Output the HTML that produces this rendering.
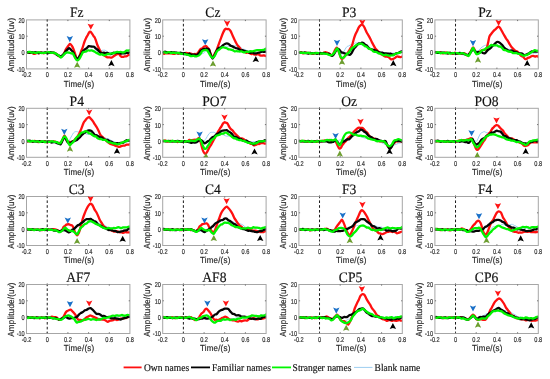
<!DOCTYPE html><html><head><meta charset="utf-8"><style>html,body{margin:0;padding:0;background:#fff;width:550px;height:379px;overflow:hidden}svg{display:block;will-change:transform}text{text-rendering:geometricPrecision}.s{stroke:#333;stroke-width:0.18px}text.lab{letter-spacing:0.2px}.s{font-family:"Liberation Sans",sans-serif}.r{stroke:#111;stroke-width:0.15px}.r{font-family:"Liberation Serif",serif}</style></head><body>
<svg width="550" height="379" viewBox="0 0 550 379">
<text class="r" transform="translate(76.74 17.25) scale(1.000 1.060)" font-size="13.60" text-anchor="middle" fill="#111">Fz</text>
<clipPath id="cp00"><rect x="26.5" y="19.9" width="103.4" height="49.0"/></clipPath>
<g clip-path="url(#cp00)">
<path d="M26.60 52.34 C26.75 52.27 27.17 51.94 27.51 51.93 C27.85 51.91 28.24 52.16 28.65 52.26 C29.06 52.36 29.51 52.48 29.98 52.53 C30.45 52.58 30.96 52.70 31.48 52.56 C32.01 52.41 32.56 51.68 33.12 51.65 C33.69 51.62 34.28 52.24 34.88 52.36 C35.47 52.49 36.09 52.44 36.71 52.41 C37.33 52.38 37.97 52.15 38.60 52.19 C39.24 52.22 39.88 52.66 40.52 52.63 C41.16 52.60 41.81 52.06 42.44 52.00 C43.08 51.94 43.71 52.18 44.33 52.28 C44.95 52.38 45.57 52.56 46.17 52.61 C46.76 52.65 47.35 52.55 47.92 52.55 C48.48 52.55 49.03 52.60 49.55 52.61 C50.07 52.62 50.58 52.69 51.05 52.60 C51.52 52.51 51.96 52.04 52.37 52.08 C52.78 52.12 52.85 52.58 53.50 52.84 C54.15 53.10 55.53 53.46 56.28 53.65 C57.03 53.84 57.52 53.70 57.99 53.98 C58.46 54.25 58.75 55.01 59.09 55.29 C59.43 55.57 59.67 55.59 60.04 55.66 C60.41 55.73 60.83 55.77 61.30 55.73 C61.77 55.69 62.35 55.46 62.87 55.42 C63.40 55.38 63.92 55.76 64.45 55.49 C64.97 55.23 65.50 54.23 66.03 53.83 C66.56 53.42 67.08 53.19 67.61 53.05 C68.14 52.92 68.66 52.97 69.20 53.03 C69.74 53.08 70.28 53.04 70.83 53.38 C71.38 53.72 71.95 54.49 72.50 55.06 C73.06 55.62 73.62 56.32 74.16 56.75 C74.70 57.17 75.24 57.46 75.75 57.60 C76.25 57.73 76.63 57.71 77.20 57.56 C77.77 57.40 78.57 57.25 79.19 56.69 C79.81 56.12 80.30 54.89 80.92 54.17 C81.54 53.46 82.33 52.81 82.90 52.40 C83.47 51.99 83.84 52.01 84.34 51.70 C84.84 51.39 85.37 50.80 85.91 50.55 C86.44 50.30 86.99 50.18 87.54 50.19 C88.09 50.19 88.65 50.63 89.19 50.58 C89.73 50.54 90.26 49.95 90.80 49.92 C91.34 49.89 91.87 50.29 92.41 50.40 C92.96 50.52 93.52 50.65 94.07 50.60 C94.61 50.55 95.17 50.01 95.69 50.09 C96.22 50.16 96.74 50.83 97.23 51.03 C97.71 51.23 98.06 51.31 98.60 51.28 C99.14 51.25 99.89 51.00 100.45 50.85 C101.01 50.69 101.47 50.46 101.97 50.36 C102.48 50.25 102.99 50.22 103.50 50.20 C104.01 50.18 104.51 50.08 105.02 50.24 C105.53 50.40 105.98 50.75 106.54 51.15 C107.11 51.56 107.87 52.48 108.40 52.66 C108.93 52.84 109.25 52.25 109.70 52.23 C110.15 52.21 110.60 52.48 111.08 52.55 C111.57 52.62 112.07 52.67 112.61 52.65 C113.15 52.63 113.71 52.39 114.33 52.43 C114.94 52.46 115.72 52.77 116.30 52.86 C116.88 52.95 117.25 53.03 117.80 52.97 C118.34 52.91 118.94 52.59 119.56 52.48 C120.17 52.37 120.83 52.42 121.48 52.33 C122.12 52.23 122.80 52.01 123.44 51.92 C124.09 51.83 124.74 51.71 125.35 51.78 C125.96 51.86 126.55 52.40 127.08 52.37 C127.61 52.33 128.12 51.75 128.54 51.56 C128.96 51.37 129.42 51.28 129.60 51.23" fill="none" stroke="#9ccdf0" stroke-width="1.00" stroke-linejoin="round" stroke-linecap="round"/>
<path d="M26.60 52.02 C26.81 52.10 27.36 52.35 27.88 52.49 C28.40 52.64 29.06 52.85 29.71 52.88 C30.36 52.91 31.10 52.51 31.78 52.67 C32.46 52.83 33.20 53.66 33.80 53.82 C34.40 53.99 34.84 53.83 35.37 53.67 C35.91 53.50 36.47 52.91 37.02 52.84 C37.58 52.77 38.14 53.28 38.68 53.24 C39.22 53.21 39.76 52.74 40.26 52.65 C40.77 52.56 41.13 52.57 41.70 52.70 C42.27 52.82 43.07 53.39 43.68 53.39 C44.30 53.40 44.81 52.85 45.40 52.74 C45.98 52.64 46.65 52.75 47.20 52.78 C47.75 52.81 48.18 52.94 48.68 52.91 C49.18 52.88 49.69 52.66 50.21 52.61 C50.73 52.57 51.25 52.57 51.80 52.65 C52.35 52.73 52.96 52.95 53.50 53.09 C54.04 53.22 54.49 53.32 55.02 53.47 C55.55 53.63 56.12 53.61 56.68 54.01 C57.24 54.40 57.82 55.42 58.36 55.84 C58.90 56.26 59.45 56.40 59.94 56.52 C60.43 56.63 60.68 56.92 61.30 56.54 C61.92 56.16 62.95 55.39 63.67 54.25 C64.39 53.11 64.91 51.00 65.60 49.71 C66.29 48.42 67.08 47.48 67.79 46.51 C68.51 45.54 69.24 44.02 69.90 43.88 C70.56 43.75 71.14 44.82 71.74 45.70 C72.34 46.58 72.90 47.67 73.50 49.15 C74.10 50.64 74.73 52.77 75.34 54.59 C75.96 56.42 76.58 59.63 77.20 60.09 C77.82 60.56 78.45 58.77 79.07 57.39 C79.69 56.01 80.31 53.45 80.90 51.82 C81.49 50.18 82.05 49.19 82.61 47.60 C83.18 46.00 83.72 43.84 84.30 42.24 C84.88 40.63 85.50 39.19 86.09 37.98 C86.67 36.78 87.28 35.99 87.80 35.02 C88.32 34.05 88.76 32.70 89.22 32.18 C89.69 31.66 90.10 31.63 90.60 31.89 C91.10 32.16 91.68 33.05 92.20 33.79 C92.72 34.52 93.30 35.72 93.70 36.30 C94.10 36.87 94.29 36.62 94.63 37.22 C94.96 37.82 95.20 38.54 95.70 39.92 C96.20 41.31 96.90 43.78 97.62 45.55 C98.34 47.32 99.30 49.22 100.00 50.56 C100.70 51.90 101.17 52.86 101.80 53.60 C102.42 54.33 103.10 54.51 103.75 54.97 C104.40 55.42 105.06 55.94 105.70 56.33 C106.34 56.71 106.97 57.10 107.60 57.27 C108.23 57.43 108.87 57.25 109.50 57.31 C110.13 57.38 110.77 57.81 111.40 57.67 C112.03 57.53 112.67 56.87 113.30 56.46 C113.93 56.05 114.57 55.62 115.20 55.22 C115.83 54.83 116.47 54.27 117.10 54.07 C117.73 53.87 118.34 53.64 118.96 54.01 C119.58 54.38 120.18 55.82 120.82 56.31 C121.46 56.80 122.17 56.93 122.80 56.96 C123.43 56.99 123.96 56.62 124.58 56.49 C125.21 56.36 125.93 56.44 126.56 56.20 C127.18 55.96 127.85 55.28 128.35 55.06 C128.86 54.83 129.39 54.91 129.60 54.88" fill="none" stroke="#ff1010" stroke-width="2.30" stroke-linejoin="round" stroke-linecap="round"/>
<path d="M26.60 51.87 C26.75 51.96 27.16 52.33 27.51 52.44 C27.86 52.54 28.27 52.48 28.71 52.49 C29.14 52.50 29.62 52.53 30.12 52.51 C30.62 52.49 31.16 52.35 31.71 52.36 C32.26 52.38 32.84 52.63 33.41 52.61 C33.99 52.59 34.59 52.25 35.17 52.24 C35.76 52.24 36.36 52.43 36.94 52.59 C37.52 52.74 38.10 53.15 38.65 53.16 C39.20 53.17 39.75 52.71 40.26 52.64 C40.76 52.57 41.14 52.70 41.70 52.74 C42.26 52.78 42.97 52.93 43.59 52.87 C44.22 52.80 44.83 52.31 45.43 52.34 C46.03 52.37 46.62 52.94 47.20 53.02 C47.78 53.11 48.34 53.00 48.90 52.84 C49.45 52.69 49.99 52.12 50.52 52.11 C51.04 52.09 51.56 52.68 52.05 52.76 C52.55 52.85 52.95 52.50 53.50 52.59 C54.05 52.69 54.78 52.90 55.37 53.32 C55.97 53.74 56.53 54.76 57.08 55.11 C57.62 55.46 58.13 55.26 58.62 55.42 C59.12 55.59 59.58 55.96 60.03 56.12 C60.47 56.28 60.69 56.71 61.30 56.37 C61.91 56.03 63.00 54.89 63.71 54.06 C64.43 53.24 64.98 52.16 65.60 51.41 C66.22 50.67 66.82 50.14 67.42 49.60 C68.03 49.05 68.58 48.08 69.20 48.15 C69.82 48.21 70.47 49.31 71.12 49.99 C71.77 50.67 72.45 51.20 73.10 52.22 C73.75 53.24 74.35 54.99 75.04 56.12 C75.72 57.25 76.53 58.87 77.20 58.99 C77.87 59.11 78.40 57.67 79.05 56.86 C79.69 56.04 80.43 55.05 81.07 54.09 C81.72 53.14 82.25 51.91 82.90 51.12 C83.55 50.32 84.31 49.83 84.96 49.33 C85.61 48.83 86.17 48.63 86.80 48.09 C87.43 47.56 88.07 46.41 88.74 46.14 C89.40 45.86 90.19 46.37 90.80 46.47 C91.41 46.56 91.84 46.62 92.39 46.68 C92.94 46.74 93.53 46.55 94.08 46.83 C94.63 47.10 95.08 47.82 95.70 48.33 C96.32 48.84 97.08 49.22 97.80 49.89 C98.52 50.55 99.33 51.82 100.00 52.31 C100.67 52.81 101.17 52.80 101.80 52.86 C102.42 52.92 103.10 52.67 103.75 52.70 C104.40 52.72 105.06 53.00 105.70 53.03 C106.34 53.07 106.97 52.75 107.60 52.90 C108.23 53.05 108.87 53.78 109.50 53.94 C110.13 54.10 110.77 54.04 111.40 53.85 C112.03 53.65 112.67 52.92 113.30 52.79 C113.93 52.66 114.57 53.09 115.20 53.07 C115.83 53.06 116.47 52.71 117.10 52.71 C117.73 52.71 118.34 52.90 118.96 53.05 C119.58 53.19 120.18 53.54 120.82 53.58 C121.46 53.62 122.17 53.30 122.80 53.27 C123.43 53.25 123.96 53.49 124.58 53.43 C125.21 53.38 125.93 53.04 126.56 52.94 C127.18 52.84 127.85 52.92 128.35 52.84 C128.86 52.76 129.39 52.52 129.60 52.45" fill="none" stroke="#050505" stroke-width="2.30" stroke-linejoin="round" stroke-linecap="round"/>
<path d="M26.60 52.73 C26.75 52.69 27.16 52.60 27.51 52.47 C27.86 52.34 28.27 52.04 28.71 51.96 C29.14 51.88 29.62 51.85 30.12 51.97 C30.62 52.09 31.16 52.62 31.71 52.69 C32.26 52.77 32.84 52.41 33.41 52.42 C33.99 52.44 34.59 52.70 35.17 52.77 C35.76 52.84 36.36 52.93 36.94 52.83 C37.52 52.73 38.10 52.18 38.65 52.17 C39.20 52.16 39.75 52.62 40.26 52.76 C40.76 52.91 41.14 53.02 41.70 53.04 C42.26 53.05 42.97 52.86 43.59 52.83 C44.22 52.81 44.83 52.96 45.43 52.88 C46.03 52.81 46.62 52.51 47.20 52.40 C47.78 52.29 48.34 52.19 48.90 52.24 C49.45 52.30 49.99 52.63 50.52 52.74 C51.04 52.85 51.56 52.94 52.05 52.93 C52.55 52.91 52.95 52.60 53.50 52.67 C54.05 52.75 54.78 53.06 55.37 53.37 C55.97 53.69 56.53 54.23 57.08 54.56 C57.62 54.89 58.13 54.95 58.62 55.35 C59.12 55.76 59.58 56.65 60.03 56.98 C60.47 57.32 60.69 57.72 61.30 57.36 C61.91 57.00 63.00 55.51 63.71 54.80 C64.43 54.09 64.98 53.48 65.60 53.09 C66.22 52.70 66.82 52.51 67.42 52.45 C68.03 52.39 68.58 52.57 69.20 52.71 C69.82 52.84 70.47 53.10 71.12 53.26 C71.77 53.43 72.45 52.95 73.10 53.71 C73.75 54.47 74.35 56.71 75.04 57.81 C75.72 58.90 76.53 60.05 77.20 60.28 C77.87 60.50 78.40 59.89 79.05 59.15 C79.69 58.40 80.43 56.93 81.07 55.80 C81.72 54.68 82.24 53.05 82.90 52.38 C83.56 51.70 84.37 51.95 85.02 51.75 C85.67 51.55 86.27 51.41 86.80 51.17 C87.33 50.92 87.67 50.36 88.17 50.28 C88.67 50.20 89.23 50.68 89.80 50.69 C90.37 50.69 90.95 50.20 91.61 50.29 C92.27 50.38 93.06 50.89 93.74 51.24 C94.43 51.59 95.01 52.01 95.70 52.39 C96.39 52.78 97.15 53.16 97.86 53.54 C98.58 53.93 99.34 54.58 100.00 54.70 C100.66 54.82 101.17 54.17 101.80 54.24 C102.42 54.32 103.10 55.03 103.75 55.14 C104.40 55.25 105.06 55.07 105.70 54.88 C106.34 54.70 106.97 54.20 107.60 54.05 C108.23 53.91 108.87 54.12 109.50 54.01 C110.13 53.91 110.77 53.53 111.40 53.43 C112.03 53.32 112.67 53.51 113.30 53.37 C113.93 53.23 114.57 52.81 115.20 52.56 C115.83 52.32 116.47 51.98 117.10 51.91 C117.73 51.84 118.34 52.15 118.96 52.14 C119.58 52.13 120.18 51.80 120.82 51.86 C121.46 51.92 122.17 52.49 122.80 52.50 C123.43 52.52 123.96 52.27 124.58 51.94 C125.21 51.61 125.93 50.73 126.56 50.52 C127.18 50.31 127.85 50.75 128.35 50.67 C128.86 50.60 129.39 50.19 129.60 50.09" fill="none" stroke="#00f500" stroke-width="2.30" stroke-linejoin="round" stroke-linecap="round"/>
</g>
<line x1="47.22" y1="19.0" x2="47.22" y2="68.8" stroke="#1a1a1a" stroke-width="1" stroke-dasharray="2.6 2.2"/>
<rect x="26.5" y="19.9" width="103.4" height="49.0" fill="none" stroke="#a6a6a6" stroke-width="1"/>
<line x1="47.2" y1="68.8" x2="47.2" y2="67.6" stroke="#555" stroke-width="0.8"/>
<line x1="47.2" y1="19.9" x2="47.2" y2="21.1" stroke="#555" stroke-width="0.8"/>
<line x1="67.9" y1="68.8" x2="67.9" y2="67.6" stroke="#555" stroke-width="0.8"/>
<line x1="67.9" y1="19.9" x2="67.9" y2="21.1" stroke="#555" stroke-width="0.8"/>
<line x1="88.6" y1="68.8" x2="88.6" y2="67.6" stroke="#555" stroke-width="0.8"/>
<line x1="88.6" y1="19.9" x2="88.6" y2="21.1" stroke="#555" stroke-width="0.8"/>
<line x1="109.3" y1="68.8" x2="109.3" y2="67.6" stroke="#555" stroke-width="0.8"/>
<line x1="109.3" y1="19.9" x2="109.3" y2="21.1" stroke="#555" stroke-width="0.8"/>
<line x1="26.5" y1="52.5" x2="27.7" y2="52.5" stroke="#555" stroke-width="0.8"/>
<line x1="129.9" y1="52.5" x2="128.7" y2="52.5" stroke="#555" stroke-width="0.8"/>
<line x1="26.5" y1="36.2" x2="27.7" y2="36.2" stroke="#555" stroke-width="0.8"/>
<line x1="129.9" y1="36.2" x2="128.7" y2="36.2" stroke="#555" stroke-width="0.8"/>
<g clip-path="url(#cp00)">
<path d="M69.80 42.20 L73.00 36.12 L69.80 37.24 L66.60 36.12 Z" fill="#1a70c8"/>
<path d="M90.80 29.80 L94.00 23.72 L90.80 24.84 L87.60 23.72 Z" fill="#ff1515"/>
<path d="M77.20 61.70 L80.40 67.78 L77.20 66.66 L74.00 67.78 Z" fill="#6d9e30"/>
<path d="M111.40 60.10 L114.60 66.18 L111.40 65.06 L108.20 66.18 Z" fill="#000"/>
</g>
<text class="s" transform="translate(26.54 77.20) scale(0.920 1.160)" font-size="6.10" text-anchor="middle" fill="#3a3a3a">-0.2</text>
<text class="s" transform="translate(47.22 77.20) scale(0.920 1.160)" font-size="6.10" text-anchor="middle" fill="#3a3a3a">0</text>
<text class="s" transform="translate(67.90 77.20) scale(0.920 1.160)" font-size="6.10" text-anchor="middle" fill="#3a3a3a">0.2</text>
<text class="s" transform="translate(88.58 77.20) scale(0.920 1.160)" font-size="6.10" text-anchor="middle" fill="#3a3a3a">0.4</text>
<text class="s" transform="translate(109.26 77.20) scale(0.920 1.160)" font-size="6.10" text-anchor="middle" fill="#3a3a3a">0.6</text>
<text class="s" transform="translate(129.94 77.20) scale(0.920 1.160)" font-size="6.10" text-anchor="middle" fill="#3a3a3a">0.8</text>
<text class="s" transform="translate(24.74 71.70) scale(0.920 1.160)" font-size="6.10" text-anchor="end" fill="#3a3a3a">-10</text>
<text class="s" transform="translate(24.74 55.38) scale(0.920 1.160)" font-size="6.10" text-anchor="end" fill="#3a3a3a">0</text>
<text class="s" transform="translate(24.74 39.07) scale(0.920 1.160)" font-size="6.10" text-anchor="end" fill="#3a3a3a">10</text>
<text class="s" transform="translate(24.74 22.75) scale(0.920 1.160)" font-size="6.10" text-anchor="end" fill="#3a3a3a">20</text>
<text class="s lab" transform="translate(79.04 86.65) scale(1.000 1.100)" font-size="8.00" text-anchor="middle" fill="#262626">Time/(s)</text>
<text class="s lab" transform="translate(14.14 44.83) rotate(-90) scale(1.000 1.100)" font-size="8.00" text-anchor="middle" fill="#262626">Amplitude/(uv)</text>
<text class="r" transform="translate(212.90 17.25) scale(1.000 1.060)" font-size="13.60" text-anchor="middle" fill="#111">Cz</text>
<clipPath id="cp01"><rect x="162.7" y="19.9" width="103.4" height="49.0"/></clipPath>
<g clip-path="url(#cp01)">
<path d="M162.70 52.05 C162.84 52.03 163.24 51.85 163.55 51.91 C163.87 51.97 164.21 52.27 164.58 52.43 C164.95 52.58 165.34 52.81 165.76 52.84 C166.17 52.87 166.61 52.55 167.07 52.59 C167.53 52.63 168.01 52.93 168.51 53.08 C169.01 53.23 169.53 53.49 170.06 53.47 C170.59 53.45 171.14 52.98 171.69 52.95 C172.25 52.92 172.82 53.15 173.40 53.30 C173.98 53.45 174.58 53.75 175.17 53.84 C175.77 53.93 176.38 53.73 176.99 53.83 C177.59 53.93 178.21 54.37 178.82 54.42 C179.44 54.47 180.06 54.21 180.68 54.13 C181.29 54.05 181.91 53.80 182.52 53.97 C183.13 54.13 183.74 54.95 184.35 55.09 C184.95 55.23 185.55 54.84 186.14 54.80 C186.72 54.77 187.30 54.81 187.87 54.89 C188.44 54.97 189.00 55.33 189.54 55.29 C190.08 55.25 190.61 54.68 191.12 54.66 C191.64 54.65 192.13 55.05 192.61 55.19 C193.08 55.34 193.54 55.46 193.98 55.56 C194.41 55.66 194.82 55.85 195.21 55.78 C195.60 55.71 195.65 55.26 196.30 55.12 C196.95 54.98 198.27 55.11 199.09 54.93 C199.90 54.74 200.58 54.25 201.20 54.01 C201.82 53.76 202.33 53.65 202.80 53.46 C203.27 53.28 203.66 53.24 204.04 52.92 C204.42 52.60 204.73 51.90 205.07 51.55 C205.40 51.20 205.70 51.00 206.03 50.82 C206.37 50.64 206.56 50.11 207.10 50.45 C207.64 50.79 208.66 52.01 209.30 52.86 C209.93 53.70 210.35 54.75 210.90 55.53 C211.45 56.31 212.07 57.34 212.60 57.53 C213.13 57.72 213.58 57.35 214.08 56.67 C214.58 56.00 215.08 54.39 215.60 53.49 C216.12 52.58 216.64 51.94 217.19 51.27 C217.74 50.60 218.37 49.91 218.90 49.44 C219.43 48.97 219.88 48.70 220.40 48.46 C220.91 48.21 221.46 48.13 222.00 47.96 C222.54 47.79 223.10 47.68 223.65 47.45 C224.19 47.22 224.75 46.80 225.27 46.58 C225.80 46.36 226.25 46.13 226.80 46.12 C227.35 46.10 228.00 46.53 228.59 46.49 C229.17 46.45 229.74 46.00 230.30 45.89 C230.86 45.79 231.40 45.85 231.94 45.87 C232.47 45.89 232.92 46.12 233.50 46.04 C234.08 45.96 234.81 45.31 235.43 45.38 C236.05 45.44 236.62 46.13 237.22 46.43 C237.81 46.72 238.42 46.99 239.00 47.16 C239.58 47.33 240.15 47.15 240.71 47.43 C241.28 47.72 241.80 48.55 242.42 48.87 C243.03 49.19 243.83 49.22 244.40 49.36 C244.97 49.49 245.32 49.42 245.82 49.69 C246.32 49.96 246.85 50.83 247.38 50.99 C247.92 51.14 248.48 50.69 249.03 50.64 C249.58 50.60 250.14 50.63 250.69 50.71 C251.23 50.80 251.76 51.18 252.30 51.15 C252.84 51.12 253.36 50.58 253.90 50.54 C254.44 50.49 255.00 50.82 255.54 50.88 C256.08 50.93 256.63 50.98 257.15 50.87 C257.68 50.77 258.20 50.45 258.69 50.24 C259.18 50.03 259.50 49.71 260.10 49.61 C260.70 49.52 261.61 49.71 262.31 49.67 C263.00 49.63 263.71 49.40 264.26 49.38 C264.81 49.37 265.38 49.55 265.60 49.58" fill="none" stroke="#9ccdf0" stroke-width="1.00" stroke-linejoin="round" stroke-linecap="round"/>
<path d="M162.70 53.02 C162.87 53.14 163.30 53.69 163.71 53.76 C164.11 53.83 164.60 53.53 165.11 53.44 C165.62 53.36 166.19 53.28 166.76 53.27 C167.33 53.25 167.94 53.38 168.53 53.37 C169.11 53.37 169.71 53.22 170.25 53.23 C170.80 53.24 171.27 53.32 171.80 53.43 C172.33 53.53 172.89 53.79 173.41 53.86 C173.93 53.92 174.42 53.96 174.91 53.82 C175.41 53.69 175.89 53.06 176.39 53.02 C176.89 52.99 177.39 53.54 177.93 53.61 C178.46 53.68 179.06 53.48 179.60 53.43 C180.14 53.38 180.62 53.22 181.16 53.30 C181.71 53.39 182.28 53.96 182.86 53.95 C183.43 53.93 184.03 53.37 184.61 53.20 C185.19 53.03 185.79 52.89 186.35 52.93 C186.92 52.96 187.48 53.35 188.01 53.41 C188.53 53.47 188.92 53.21 189.50 53.28 C190.08 53.34 190.87 53.64 191.51 53.81 C192.15 53.98 192.76 54.29 193.33 54.30 C193.90 54.32 194.45 53.95 194.94 53.90 C195.43 53.86 195.78 54.22 196.30 54.02 C196.82 53.82 197.54 53.28 198.04 52.71 C198.54 52.15 198.86 51.29 199.30 50.65 C199.74 50.01 200.21 49.25 200.69 48.87 C201.18 48.49 201.62 48.77 202.20 48.38 C202.77 48.00 203.49 46.95 204.14 46.58 C204.79 46.22 205.52 45.96 206.10 46.18 C206.68 46.40 207.12 47.38 207.62 47.91 C208.12 48.44 208.58 48.33 209.10 49.36 C209.62 50.38 210.19 52.74 210.77 54.08 C211.35 55.42 211.95 57.46 212.60 57.42 C213.25 57.38 213.98 55.18 214.69 53.83 C215.41 52.48 216.16 51.13 216.90 49.33 C217.64 47.53 218.42 45.02 219.15 43.02 C219.88 41.02 220.63 39.07 221.30 37.33 C221.97 35.58 222.60 33.87 223.19 32.57 C223.77 31.26 224.35 30.15 224.80 29.49 C225.25 28.84 225.53 28.70 225.90 28.64 C226.27 28.58 226.55 29.07 227.00 29.13 C227.45 29.20 228.04 28.71 228.62 29.01 C229.20 29.30 229.84 29.84 230.50 30.91 C231.16 31.98 231.86 33.88 232.58 35.41 C233.29 36.95 234.17 38.83 234.80 40.13 C235.43 41.43 235.81 42.26 236.33 43.20 C236.85 44.14 237.38 45.06 237.90 45.77 C238.43 46.48 238.96 46.81 239.50 47.47 C240.04 48.12 240.58 49.15 241.12 49.70 C241.66 50.24 242.21 50.45 242.76 50.73 C243.31 51.01 243.85 51.04 244.40 51.38 C244.95 51.72 245.49 52.58 246.03 52.76 C246.57 52.94 247.11 52.46 247.66 52.49 C248.20 52.51 248.75 52.68 249.30 52.93 C249.85 53.19 250.38 53.85 250.93 54.03 C251.47 54.20 252.01 53.91 252.57 53.98 C253.13 54.06 253.70 54.34 254.30 54.46 C254.90 54.58 255.54 54.75 256.19 54.69 C256.83 54.64 257.51 54.04 258.16 54.14 C258.81 54.25 259.43 55.06 260.10 55.29 C260.77 55.53 261.48 55.54 262.16 55.57 C262.84 55.60 263.61 55.40 264.19 55.47 C264.76 55.53 265.36 55.88 265.60 55.96" fill="none" stroke="#ff1010" stroke-width="2.30" stroke-linejoin="round" stroke-linecap="round"/>
<path d="M162.70 52.18 C162.85 52.19 163.26 52.32 163.60 52.22 C163.94 52.11 164.33 51.57 164.75 51.54 C165.16 51.50 165.62 51.86 166.10 52.01 C166.57 52.17 167.08 52.36 167.61 52.45 C168.14 52.54 168.69 52.58 169.25 52.54 C169.81 52.51 170.39 52.28 170.98 52.27 C171.56 52.25 172.16 52.45 172.76 52.46 C173.35 52.46 173.96 52.27 174.55 52.31 C175.14 52.36 175.73 52.57 176.31 52.71 C176.89 52.85 177.46 53.15 178.01 53.17 C178.56 53.19 179.07 52.89 179.60 52.83 C180.13 52.77 180.64 52.72 181.17 52.82 C181.70 52.91 182.26 53.35 182.81 53.40 C183.36 53.45 183.93 53.01 184.49 53.12 C185.05 53.22 185.62 53.80 186.18 54.02 C186.75 54.24 187.31 54.48 187.87 54.43 C188.43 54.39 188.98 53.73 189.52 53.74 C190.06 53.75 190.59 54.37 191.10 54.50 C191.62 54.64 192.12 54.55 192.60 54.57 C193.08 54.60 193.55 54.63 193.98 54.65 C194.42 54.68 194.84 54.63 195.23 54.73 C195.61 54.84 195.70 55.51 196.30 55.28 C196.90 55.06 198.19 54.01 198.81 53.38 C199.42 52.74 199.60 51.93 200.00 51.46 C200.40 50.98 200.72 50.87 201.20 50.51 C201.68 50.16 202.34 49.62 202.90 49.34 C203.47 49.06 204.07 48.97 204.61 48.85 C205.14 48.73 205.59 48.64 206.10 48.62 C206.61 48.60 207.19 48.51 207.69 48.72 C208.19 48.92 208.59 48.79 209.10 49.85 C209.61 50.90 210.19 53.61 210.77 55.04 C211.35 56.48 211.96 58.47 212.60 58.48 C213.24 58.49 213.88 56.46 214.60 55.08 C215.32 53.70 216.20 51.39 216.90 50.22 C217.60 49.04 218.15 48.51 218.82 48.04 C219.49 47.57 220.25 47.81 220.91 47.37 C221.58 46.94 222.13 45.99 222.80 45.43 C223.47 44.87 224.26 44.32 224.93 43.98 C225.59 43.65 226.18 43.43 226.80 43.43 C227.42 43.43 227.98 43.58 228.63 43.99 C229.28 44.39 230.05 45.47 230.70 45.86 C231.35 46.25 231.88 46.04 232.52 46.33 C233.16 46.62 233.88 47.25 234.56 47.57 C235.24 47.89 235.93 48.01 236.60 48.24 C237.27 48.47 237.91 48.62 238.57 48.96 C239.22 49.31 239.88 50.12 240.53 50.32 C241.19 50.53 241.84 50.11 242.50 50.19 C243.16 50.28 243.81 50.64 244.47 50.84 C245.12 51.03 245.78 51.12 246.43 51.35 C247.09 51.59 247.74 51.98 248.40 52.24 C249.06 52.50 249.71 52.86 250.37 52.90 C251.03 52.93 251.69 52.35 252.34 52.44 C253.00 52.52 253.65 53.26 254.30 53.41 C254.95 53.55 255.60 53.40 256.25 53.29 C256.90 53.18 257.55 52.90 258.19 52.75 C258.83 52.61 259.44 52.60 260.10 52.40 C260.76 52.21 261.48 51.66 262.16 51.59 C262.84 51.52 263.61 51.97 264.19 51.96 C264.76 51.94 265.36 51.57 265.60 51.50" fill="none" stroke="#050505" stroke-width="2.30" stroke-linejoin="round" stroke-linecap="round"/>
<path d="M162.70 52.55 C162.85 52.52 163.26 52.40 163.60 52.36 C163.94 52.32 164.33 52.22 164.75 52.31 C165.16 52.39 165.62 52.88 166.10 52.88 C166.57 52.89 167.08 52.46 167.61 52.33 C168.14 52.20 168.69 51.98 169.25 52.09 C169.81 52.21 170.39 52.90 170.98 53.01 C171.56 53.12 172.16 52.76 172.76 52.74 C173.35 52.72 173.96 52.81 174.55 52.89 C175.14 52.97 175.73 53.28 176.31 53.22 C176.89 53.17 177.46 52.55 178.01 52.57 C178.56 52.59 179.07 53.10 179.60 53.32 C180.13 53.53 180.63 53.78 181.17 53.87 C181.70 53.96 182.25 53.82 182.79 53.87 C183.34 53.92 183.90 54.07 184.46 54.17 C185.02 54.27 185.58 54.39 186.14 54.48 C186.70 54.58 187.26 54.60 187.81 54.75 C188.36 54.89 188.91 55.13 189.45 55.37 C189.99 55.61 190.52 56.10 191.03 56.19 C191.54 56.29 192.05 55.97 192.53 55.92 C193.01 55.88 193.48 55.85 193.92 55.92 C194.37 55.99 194.79 56.29 195.19 56.36 C195.58 56.43 195.65 56.52 196.30 56.35 C196.95 56.18 198.37 55.82 199.10 55.34 C199.84 54.86 200.19 54.20 200.71 53.49 C201.22 52.78 201.67 51.62 202.20 51.10 C202.73 50.58 203.34 50.54 203.89 50.34 C204.43 50.14 204.92 49.90 205.46 49.91 C206.00 49.92 206.52 49.84 207.10 50.39 C207.68 50.93 208.31 52.19 208.93 53.18 C209.56 54.18 210.22 55.58 210.83 56.35 C211.44 57.12 211.95 57.90 212.60 57.82 C213.25 57.74 214.01 56.94 214.72 55.85 C215.44 54.77 216.22 52.32 216.90 51.31 C217.58 50.30 218.15 50.32 218.82 49.80 C219.49 49.27 220.25 48.60 220.91 48.16 C221.58 47.72 222.15 47.21 222.80 47.14 C223.45 47.08 224.13 47.58 224.80 47.76 C225.47 47.95 226.16 48.00 226.80 48.26 C227.44 48.53 227.98 49.13 228.63 49.33 C229.27 49.54 229.99 49.38 230.67 49.51 C231.35 49.64 232.05 49.80 232.70 50.10 C233.35 50.41 233.94 51.17 234.56 51.34 C235.18 51.50 235.76 51.09 236.41 51.09 C237.07 51.10 237.91 51.27 238.50 51.35 C239.09 51.43 239.44 51.55 239.95 51.56 C240.45 51.56 240.98 51.28 241.51 51.39 C242.04 51.50 242.59 52.02 243.14 52.20 C243.69 52.37 244.24 52.53 244.79 52.42 C245.33 52.31 245.88 51.63 246.40 51.55 C246.92 51.48 247.43 51.97 247.93 51.97 C248.43 51.96 248.90 51.65 249.40 51.53 C249.89 51.41 250.38 51.26 250.90 51.23 C251.41 51.20 251.93 51.39 252.50 51.35 C253.07 51.30 253.74 51.12 254.30 50.95 C254.86 50.79 255.28 50.48 255.83 50.36 C256.39 50.23 257.00 50.24 257.61 50.20 C258.22 50.16 258.87 50.13 259.50 50.11 C260.12 50.09 260.77 50.09 261.37 50.07 C261.97 50.05 262.57 50.10 263.10 50.00 C263.63 49.90 264.13 49.68 264.55 49.48 C264.97 49.27 265.42 48.89 265.60 48.77" fill="none" stroke="#00f500" stroke-width="2.30" stroke-linejoin="round" stroke-linecap="round"/>
</g>
<line x1="183.38" y1="19.0" x2="183.38" y2="68.8" stroke="#1a1a1a" stroke-width="1" stroke-dasharray="2.6 2.2"/>
<rect x="162.7" y="19.9" width="103.4" height="49.0" fill="none" stroke="#a6a6a6" stroke-width="1"/>
<line x1="183.4" y1="68.8" x2="183.4" y2="67.6" stroke="#555" stroke-width="0.8"/>
<line x1="183.4" y1="19.9" x2="183.4" y2="21.1" stroke="#555" stroke-width="0.8"/>
<line x1="204.1" y1="68.8" x2="204.1" y2="67.6" stroke="#555" stroke-width="0.8"/>
<line x1="204.1" y1="19.9" x2="204.1" y2="21.1" stroke="#555" stroke-width="0.8"/>
<line x1="224.7" y1="68.8" x2="224.7" y2="67.6" stroke="#555" stroke-width="0.8"/>
<line x1="224.7" y1="19.9" x2="224.7" y2="21.1" stroke="#555" stroke-width="0.8"/>
<line x1="245.4" y1="68.8" x2="245.4" y2="67.6" stroke="#555" stroke-width="0.8"/>
<line x1="245.4" y1="19.9" x2="245.4" y2="21.1" stroke="#555" stroke-width="0.8"/>
<line x1="162.7" y1="52.5" x2="163.9" y2="52.5" stroke="#555" stroke-width="0.8"/>
<line x1="266.1" y1="52.5" x2="264.9" y2="52.5" stroke="#555" stroke-width="0.8"/>
<line x1="162.7" y1="36.2" x2="163.9" y2="36.2" stroke="#555" stroke-width="0.8"/>
<line x1="266.1" y1="36.2" x2="264.9" y2="36.2" stroke="#555" stroke-width="0.8"/>
<g clip-path="url(#cp01)">
<path d="M205.20 45.30 L208.40 39.22 L205.20 40.34 L202.00 39.22 Z" fill="#1a70c8"/>
<path d="M227.20 26.70 L230.40 20.62 L227.20 21.74 L224.00 20.62 Z" fill="#ff1515"/>
<path d="M213.00 60.50 L216.20 66.58 L213.00 65.46 L209.80 66.58 Z" fill="#6d9e30"/>
<path d="M255.80 56.00 L259.00 62.08 L255.80 60.96 L252.60 62.08 Z" fill="#000"/>
</g>
<text class="s" transform="translate(162.70 77.20) scale(0.920 1.160)" font-size="6.10" text-anchor="middle" fill="#3a3a3a">-0.2</text>
<text class="s" transform="translate(183.38 77.20) scale(0.920 1.160)" font-size="6.10" text-anchor="middle" fill="#3a3a3a">0</text>
<text class="s" transform="translate(204.06 77.20) scale(0.920 1.160)" font-size="6.10" text-anchor="middle" fill="#3a3a3a">0.2</text>
<text class="s" transform="translate(224.74 77.20) scale(0.920 1.160)" font-size="6.10" text-anchor="middle" fill="#3a3a3a">0.4</text>
<text class="s" transform="translate(245.42 77.20) scale(0.920 1.160)" font-size="6.10" text-anchor="middle" fill="#3a3a3a">0.6</text>
<text class="s" transform="translate(266.10 77.20) scale(0.920 1.160)" font-size="6.10" text-anchor="middle" fill="#3a3a3a">0.8</text>
<text class="s" transform="translate(160.90 71.70) scale(0.920 1.160)" font-size="6.10" text-anchor="end" fill="#3a3a3a">-10</text>
<text class="s" transform="translate(160.90 55.38) scale(0.920 1.160)" font-size="6.10" text-anchor="end" fill="#3a3a3a">0</text>
<text class="s" transform="translate(160.90 39.07) scale(0.920 1.160)" font-size="6.10" text-anchor="end" fill="#3a3a3a">10</text>
<text class="s" transform="translate(160.90 22.75) scale(0.920 1.160)" font-size="6.10" text-anchor="end" fill="#3a3a3a">20</text>
<text class="s lab" transform="translate(215.20 86.65) scale(1.000 1.100)" font-size="8.00" text-anchor="middle" fill="#262626">Time/(s)</text>
<text class="s lab" transform="translate(150.30 44.83) rotate(-90) scale(1.000 1.100)" font-size="8.00" text-anchor="middle" fill="#262626">Amplitude/(uv)</text>
<text class="r" transform="translate(349.05 17.25) scale(1.000 1.060)" font-size="13.60" text-anchor="middle" fill="#111">P3</text>
<clipPath id="cp02"><rect x="298.9" y="19.9" width="103.4" height="49.0"/></clipPath>
<g clip-path="url(#cp02)">
<path d="M298.90 52.93 C299.05 52.92 299.45 52.94 299.78 52.89 C300.11 52.84 300.48 52.74 300.88 52.63 C301.28 52.51 301.72 52.23 302.18 52.20 C302.64 52.17 303.13 52.35 303.64 52.46 C304.14 52.57 304.68 52.81 305.22 52.87 C305.77 52.93 306.34 52.82 306.91 52.83 C307.48 52.83 308.07 52.90 308.66 52.91 C309.24 52.92 309.84 52.97 310.44 52.91 C311.03 52.85 311.63 52.53 312.22 52.55 C312.81 52.58 313.40 52.92 313.97 53.06 C314.54 53.19 315.11 53.36 315.65 53.36 C316.20 53.36 316.73 53.03 317.24 53.04 C317.75 53.04 318.24 53.37 318.70 53.40 C319.16 53.44 319.44 53.32 320.00 53.25 C320.56 53.18 321.39 52.80 322.05 52.97 C322.71 53.15 323.35 54.07 323.96 54.28 C324.58 54.50 325.17 54.26 325.75 54.25 C326.32 54.23 326.87 54.08 327.40 54.20 C327.93 54.32 328.44 54.92 328.92 54.97 C329.41 55.02 329.87 54.54 330.31 54.51 C330.75 54.48 331.17 54.73 331.57 54.79 C331.97 54.86 332.07 55.41 332.70 54.88 C333.33 54.34 334.66 52.56 335.38 51.58 C336.09 50.60 336.39 48.91 337.00 48.99 C337.61 49.07 338.35 51.16 339.06 52.07 C339.78 52.99 340.64 54.24 341.30 54.49 C341.96 54.74 342.40 54.35 342.99 53.56 C343.58 52.77 344.17 50.90 344.84 49.74 C345.51 48.57 346.38 47.16 347.00 46.55 C347.62 45.93 348.00 46.31 348.55 46.03 C349.10 45.75 349.71 45.15 350.30 44.88 C350.89 44.60 351.52 44.53 352.12 44.38 C352.72 44.23 353.33 44.22 353.89 43.97 C354.45 43.72 354.95 43.01 355.50 42.89 C356.05 42.77 356.67 43.09 357.21 43.26 C357.75 43.43 358.23 43.82 358.74 43.94 C359.24 44.05 359.72 43.72 360.24 43.92 C360.77 44.13 361.37 44.93 361.90 45.19 C362.43 45.45 362.88 45.35 363.40 45.48 C363.91 45.60 364.45 45.63 364.99 45.94 C365.53 46.26 366.08 46.96 366.63 47.39 C367.17 47.81 367.72 48.21 368.25 48.51 C368.78 48.81 369.26 48.95 369.80 49.19 C370.34 49.42 370.94 49.63 371.46 49.91 C371.99 50.18 372.42 50.68 372.95 50.83 C373.48 50.99 373.98 50.63 374.64 50.85 C375.30 51.06 376.31 51.84 376.90 52.13 C377.49 52.43 377.73 52.62 378.18 52.61 C378.63 52.60 379.12 52.06 379.62 52.08 C380.12 52.10 380.65 52.61 381.19 52.71 C381.73 52.82 382.28 52.76 382.84 52.74 C383.40 52.72 383.98 52.43 384.55 52.59 C385.12 52.74 385.71 53.55 386.28 53.69 C386.85 53.83 387.42 53.51 387.98 53.41 C388.54 53.31 389.10 53.09 389.64 53.10 C390.17 53.10 390.65 53.43 391.20 53.43 C391.75 53.43 392.36 53.12 392.96 53.10 C393.56 53.07 394.19 53.21 394.81 53.28 C395.42 53.34 396.06 53.66 396.67 53.50 C397.29 53.34 397.91 52.52 398.49 52.33 C399.08 52.15 399.66 52.40 400.20 52.39 C400.74 52.38 401.27 52.33 401.74 52.28 C402.21 52.23 402.65 52.18 403.02 52.08 C403.40 51.98 403.84 51.73 404.00 51.66" fill="none" stroke="#9ccdf0" stroke-width="1.00" stroke-linejoin="round" stroke-linecap="round"/>
<path d="M298.90 52.41 C299.07 52.42 299.51 52.48 299.91 52.46 C300.31 52.44 300.79 52.14 301.29 52.28 C301.80 52.42 302.36 53.20 302.94 53.31 C303.51 53.43 304.13 53.06 304.74 52.96 C305.35 52.85 305.98 52.62 306.59 52.69 C307.19 52.75 307.81 53.30 308.37 53.33 C308.94 53.36 309.43 52.85 310.00 52.87 C310.57 52.88 311.18 53.27 311.77 53.42 C312.35 53.58 312.94 53.90 313.53 53.80 C314.11 53.71 314.69 52.95 315.26 52.86 C315.82 52.78 316.39 53.21 316.93 53.29 C317.47 53.38 318.01 53.40 318.52 53.39 C319.03 53.38 319.42 53.21 320.00 53.24 C320.58 53.27 321.36 53.64 321.99 53.56 C322.62 53.48 323.20 53.00 323.77 52.77 C324.34 52.54 324.87 52.19 325.41 52.16 C325.95 52.14 326.39 52.43 327.00 52.64 C327.61 52.84 328.39 53.07 329.05 53.42 C329.71 53.77 330.34 54.46 330.95 54.74 C331.56 55.03 332.04 55.88 332.70 55.12 C333.36 54.35 334.22 51.36 334.94 50.15 C335.65 48.94 336.30 47.39 337.00 47.84 C337.70 48.29 338.44 51.05 339.16 52.85 C339.87 54.66 340.62 57.78 341.30 58.65 C341.98 59.52 342.56 58.63 343.26 58.05 C343.96 57.48 344.87 55.86 345.50 55.20 C346.13 54.55 346.48 54.81 347.03 54.11 C347.58 53.42 348.21 52.03 348.79 51.02 C349.38 50.01 350.00 48.93 350.53 48.04 C351.07 47.16 351.46 47.15 352.00 45.69 C352.54 44.23 353.17 41.19 353.76 39.28 C354.34 37.38 354.98 35.57 355.50 34.29 C356.02 33.01 356.39 32.67 356.89 31.61 C357.40 30.54 357.96 28.90 358.51 27.90 C359.07 26.90 359.66 26.12 360.23 25.59 C360.79 25.06 361.35 24.66 361.90 24.71 C362.45 24.77 362.97 25.21 363.50 25.91 C364.04 26.61 364.57 27.80 365.11 28.91 C365.64 30.02 366.18 31.49 366.73 32.56 C367.28 33.62 367.83 34.32 368.40 35.30 C368.97 36.28 369.57 37.26 370.17 38.44 C370.77 39.62 371.39 41.18 372.00 42.38 C372.61 43.59 373.23 44.63 373.81 45.67 C374.39 46.71 374.88 47.78 375.50 48.63 C376.12 49.47 376.86 50.08 377.50 50.73 C378.15 51.37 378.74 51.91 379.35 52.49 C379.97 53.08 380.58 53.81 381.20 54.25 C381.82 54.70 382.47 54.79 383.10 55.17 C383.73 55.55 384.37 56.27 385.00 56.52 C385.63 56.77 386.26 56.52 386.90 56.67 C387.54 56.82 388.20 56.97 388.85 57.40 C389.50 57.82 390.18 58.93 390.80 59.22 C391.43 59.50 391.96 59.27 392.60 59.08 C393.24 58.90 393.95 58.55 394.66 58.11 C395.38 57.68 396.24 56.71 396.90 56.49 C397.56 56.26 398.01 56.63 398.64 56.75 C399.28 56.86 400.05 57.24 400.72 57.20 C401.39 57.16 402.11 56.54 402.66 56.51 C403.21 56.47 403.78 56.91 404.00 56.99" fill="none" stroke="#ff1010" stroke-width="2.30" stroke-linejoin="round" stroke-linecap="round"/>
<path d="M298.90 52.57 C299.07 52.58 299.51 52.63 299.91 52.63 C300.31 52.63 300.79 52.53 301.29 52.58 C301.80 52.63 302.36 52.93 302.94 52.91 C303.51 52.90 304.13 52.45 304.74 52.50 C305.35 52.54 305.98 53.01 306.59 53.17 C307.19 53.34 307.81 53.51 308.37 53.48 C308.94 53.44 309.43 53.00 310.00 52.95 C310.57 52.91 311.18 53.19 311.77 53.23 C312.35 53.27 312.94 53.19 313.53 53.17 C314.11 53.15 314.69 53.02 315.26 53.12 C315.82 53.22 316.39 53.76 316.93 53.80 C317.47 53.83 318.01 53.46 318.52 53.31 C319.03 53.16 319.42 52.87 320.00 52.90 C320.58 52.93 321.36 53.45 321.99 53.47 C322.62 53.49 323.20 53.02 323.77 53.01 C324.34 52.99 324.87 53.23 325.41 53.38 C325.95 53.53 326.39 53.85 327.00 53.91 C327.61 53.98 328.39 53.54 329.05 53.77 C329.71 54.00 330.34 54.98 330.95 55.29 C331.56 55.61 332.04 56.12 332.70 55.66 C333.36 55.19 334.22 53.61 334.94 52.52 C335.65 51.42 336.30 49.61 337.00 49.10 C337.70 48.59 338.44 48.93 339.16 49.46 C339.87 49.98 340.59 51.69 341.30 52.25 C342.01 52.81 342.70 52.59 343.40 52.82 C344.10 53.05 344.81 53.40 345.50 53.63 C346.19 53.86 346.84 53.97 347.56 54.17 C348.27 54.37 349.13 55.00 349.80 54.83 C350.47 54.66 350.95 54.07 351.57 53.17 C352.19 52.26 352.84 50.44 353.50 49.40 C354.15 48.36 354.91 47.65 355.50 46.94 C356.09 46.24 356.51 45.75 357.02 45.18 C357.53 44.62 358.04 43.81 358.56 43.54 C359.09 43.26 359.62 43.67 360.18 43.54 C360.73 43.41 361.36 42.82 361.90 42.74 C362.44 42.66 362.88 42.75 363.40 43.05 C363.91 43.35 364.45 44.15 364.99 44.55 C365.53 44.96 366.08 45.02 366.63 45.48 C367.17 45.94 367.72 46.76 368.25 47.30 C368.78 47.85 369.24 48.43 369.80 48.76 C370.36 49.09 371.03 49.08 371.63 49.27 C372.23 49.45 372.81 49.67 373.40 49.89 C373.99 50.10 374.56 50.35 375.14 50.54 C375.73 50.73 376.31 50.76 376.90 51.05 C377.49 51.33 378.10 51.97 378.71 52.22 C379.31 52.48 379.93 52.48 380.54 52.55 C381.14 52.62 381.75 52.49 382.32 52.64 C382.90 52.79 383.37 53.34 384.00 53.46 C384.63 53.58 385.43 53.33 386.11 53.34 C386.78 53.35 387.46 53.44 388.06 53.52 C388.66 53.59 389.18 53.76 389.70 53.80 C390.22 53.84 390.67 53.63 391.15 53.76 C391.63 53.89 392.08 54.48 392.60 54.59 C393.12 54.70 393.68 54.64 394.29 54.43 C394.91 54.22 395.63 53.57 396.30 53.33 C396.96 53.09 397.61 53.23 398.30 52.98 C398.99 52.72 399.71 52.11 400.41 51.82 C401.11 51.53 401.92 51.26 402.52 51.24 C403.12 51.22 403.75 51.63 404.00 51.71" fill="none" stroke="#050505" stroke-width="2.30" stroke-linejoin="round" stroke-linecap="round"/>
<path d="M298.90 52.07 C299.07 52.13 299.51 52.30 299.91 52.44 C300.31 52.58 300.79 52.87 301.29 52.92 C301.80 52.97 302.36 52.72 302.94 52.76 C303.51 52.80 304.13 53.12 304.74 53.15 C305.35 53.19 305.98 53.07 306.59 52.98 C307.19 52.89 307.81 52.53 308.37 52.61 C308.94 52.69 309.43 53.32 310.00 53.45 C310.57 53.58 311.18 53.45 311.77 53.40 C312.35 53.36 312.94 53.18 313.53 53.19 C314.11 53.19 314.69 53.47 315.26 53.42 C315.82 53.36 316.39 52.92 316.93 52.87 C317.47 52.82 318.01 53.00 318.52 53.12 C319.03 53.23 319.42 53.48 320.00 53.54 C320.58 53.61 321.36 53.49 321.99 53.50 C322.62 53.51 323.20 53.54 323.77 53.59 C324.34 53.64 324.87 53.74 325.41 53.80 C325.95 53.86 326.39 53.77 327.00 53.96 C327.61 54.14 328.39 54.70 329.05 54.91 C329.71 55.13 330.34 55.33 330.95 55.26 C331.56 55.19 332.02 55.11 332.70 54.48 C333.38 53.86 334.31 52.56 335.03 51.52 C335.75 50.48 336.42 48.39 337.00 48.25 C337.58 48.11 338.06 49.64 338.53 50.70 C339.00 51.75 339.43 53.51 339.80 54.58 C340.17 55.65 340.40 56.55 340.76 57.09 C341.13 57.64 341.57 57.77 342.00 57.86 C342.43 57.95 342.83 57.89 343.33 57.63 C343.82 57.37 344.36 56.93 344.97 56.31 C345.58 55.68 346.41 54.45 347.00 53.89 C347.59 53.33 347.97 53.49 348.51 52.94 C349.05 52.40 349.65 51.41 350.25 50.60 C350.84 49.79 351.48 48.67 352.08 48.10 C352.69 47.52 353.31 47.58 353.88 47.15 C354.45 46.72 354.94 45.98 355.50 45.54 C356.06 45.10 356.67 44.76 357.21 44.53 C357.75 44.30 358.23 44.30 358.74 44.15 C359.24 44.01 359.72 43.71 360.24 43.65 C360.77 43.59 361.37 43.60 361.90 43.79 C362.43 43.99 362.88 44.43 363.40 44.83 C363.91 45.22 364.45 45.85 364.99 46.15 C365.53 46.46 366.08 46.30 366.63 46.65 C367.17 46.99 367.72 47.84 368.25 48.23 C368.78 48.62 369.24 48.75 369.80 48.99 C370.36 49.23 371.03 49.24 371.63 49.68 C372.23 50.11 372.81 51.23 373.40 51.60 C373.99 51.98 374.56 51.79 375.14 51.90 C375.73 52.01 376.31 52.01 376.90 52.28 C377.49 52.54 378.08 53.27 378.67 53.48 C379.26 53.69 379.85 53.34 380.44 53.52 C381.03 53.70 381.63 54.25 382.22 54.55 C382.81 54.84 383.40 55.27 384.00 55.29 C384.60 55.32 385.21 54.67 385.83 54.68 C386.44 54.69 387.07 55.21 387.69 55.37 C388.30 55.53 388.92 55.63 389.50 55.64 C390.09 55.64 390.59 55.44 391.20 55.39 C391.81 55.34 392.53 55.58 393.16 55.35 C393.78 55.11 394.33 54.35 394.95 54.00 C395.58 53.65 396.27 53.44 396.90 53.25 C397.53 53.06 398.09 53.01 398.74 52.85 C399.39 52.69 400.15 52.43 400.81 52.29 C401.46 52.14 402.16 52.19 402.69 51.97 C403.22 51.75 403.78 51.13 404.00 50.96" fill="none" stroke="#00f500" stroke-width="2.30" stroke-linejoin="round" stroke-linecap="round"/>
</g>
<line x1="319.53" y1="19.0" x2="319.53" y2="68.8" stroke="#1a1a1a" stroke-width="1" stroke-dasharray="2.6 2.2"/>
<rect x="298.9" y="19.9" width="103.4" height="49.0" fill="none" stroke="#a6a6a6" stroke-width="1"/>
<line x1="319.5" y1="68.8" x2="319.5" y2="67.6" stroke="#555" stroke-width="0.8"/>
<line x1="319.5" y1="19.9" x2="319.5" y2="21.1" stroke="#555" stroke-width="0.8"/>
<line x1="340.2" y1="68.8" x2="340.2" y2="67.6" stroke="#555" stroke-width="0.8"/>
<line x1="340.2" y1="19.9" x2="340.2" y2="21.1" stroke="#555" stroke-width="0.8"/>
<line x1="360.9" y1="68.8" x2="360.9" y2="67.6" stroke="#555" stroke-width="0.8"/>
<line x1="360.9" y1="19.9" x2="360.9" y2="21.1" stroke="#555" stroke-width="0.8"/>
<line x1="381.6" y1="68.8" x2="381.6" y2="67.6" stroke="#555" stroke-width="0.8"/>
<line x1="381.6" y1="19.9" x2="381.6" y2="21.1" stroke="#555" stroke-width="0.8"/>
<line x1="298.9" y1="52.5" x2="300.1" y2="52.5" stroke="#555" stroke-width="0.8"/>
<line x1="402.2" y1="52.5" x2="401.1" y2="52.5" stroke="#555" stroke-width="0.8"/>
<line x1="298.9" y1="36.2" x2="300.1" y2="36.2" stroke="#555" stroke-width="0.8"/>
<line x1="402.2" y1="36.2" x2="401.1" y2="36.2" stroke="#555" stroke-width="0.8"/>
<g clip-path="url(#cp02)">
<path d="M337.00 45.90 L340.20 39.82 L337.00 40.94 L333.80 39.82 Z" fill="#1a70c8"/>
<path d="M362.30 25.70 L365.50 19.62 L362.30 20.74 L359.10 19.62 Z" fill="#ff1515"/>
<path d="M342.00 58.70 L345.20 64.78 L342.00 63.66 L338.80 64.78 Z" fill="#6d9e30"/>
<path d="M393.30 60.10 L396.50 66.18 L393.30 65.06 L390.10 66.18 Z" fill="#000"/>
</g>
<text class="s" transform="translate(298.85 77.20) scale(0.920 1.160)" font-size="6.10" text-anchor="middle" fill="#3a3a3a">-0.2</text>
<text class="s" transform="translate(319.53 77.20) scale(0.920 1.160)" font-size="6.10" text-anchor="middle" fill="#3a3a3a">0</text>
<text class="s" transform="translate(340.21 77.20) scale(0.920 1.160)" font-size="6.10" text-anchor="middle" fill="#3a3a3a">0.2</text>
<text class="s" transform="translate(360.89 77.20) scale(0.920 1.160)" font-size="6.10" text-anchor="middle" fill="#3a3a3a">0.4</text>
<text class="s" transform="translate(381.57 77.20) scale(0.920 1.160)" font-size="6.10" text-anchor="middle" fill="#3a3a3a">0.6</text>
<text class="s" transform="translate(402.25 77.20) scale(0.920 1.160)" font-size="6.10" text-anchor="middle" fill="#3a3a3a">0.8</text>
<text class="s" transform="translate(297.05 71.70) scale(0.920 1.160)" font-size="6.10" text-anchor="end" fill="#3a3a3a">-10</text>
<text class="s" transform="translate(297.05 55.38) scale(0.920 1.160)" font-size="6.10" text-anchor="end" fill="#3a3a3a">0</text>
<text class="s" transform="translate(297.05 39.07) scale(0.920 1.160)" font-size="6.10" text-anchor="end" fill="#3a3a3a">10</text>
<text class="s" transform="translate(297.05 22.75) scale(0.920 1.160)" font-size="6.10" text-anchor="end" fill="#3a3a3a">20</text>
<text class="s lab" transform="translate(351.35 86.65) scale(1.000 1.100)" font-size="8.00" text-anchor="middle" fill="#262626">Time/(s)</text>
<text class="s lab" transform="translate(286.45 44.83) rotate(-90) scale(1.000 1.100)" font-size="8.00" text-anchor="middle" fill="#262626">Amplitude/(uv)</text>
<text class="r" transform="translate(485.05 17.25) scale(1.000 1.060)" font-size="13.60" text-anchor="middle" fill="#111">Pz</text>
<clipPath id="cp03"><rect x="434.9" y="19.9" width="103.4" height="49.0"/></clipPath>
<g clip-path="url(#cp03)">
<path d="M434.90 52.80 C435.07 52.76 435.51 52.62 435.91 52.58 C436.31 52.55 436.79 52.52 437.29 52.58 C437.80 52.64 438.36 52.92 438.94 52.94 C439.51 52.97 440.13 52.82 440.74 52.74 C441.35 52.65 441.98 52.39 442.59 52.46 C443.19 52.53 443.81 53.03 444.37 53.15 C444.94 53.27 445.45 53.20 446.00 53.17 C446.55 53.14 447.15 52.96 447.70 52.99 C448.25 53.01 448.78 53.37 449.31 53.31 C449.85 53.26 450.37 52.72 450.90 52.66 C451.43 52.59 451.96 52.72 452.51 52.90 C453.06 53.08 453.61 53.71 454.19 53.75 C454.77 53.78 455.45 53.15 456.00 53.12 C456.55 53.08 456.99 53.43 457.52 53.54 C458.05 53.66 458.61 53.81 459.18 53.81 C459.75 53.81 460.35 53.39 460.93 53.56 C461.52 53.72 462.12 54.57 462.71 54.81 C463.29 55.05 463.88 55.03 464.43 55.00 C464.99 54.97 465.54 54.64 466.05 54.63 C466.56 54.62 467.05 54.92 467.50 54.95 C467.94 54.99 468.05 55.36 468.70 54.84 C469.35 54.31 470.66 52.68 471.38 51.81 C472.09 50.95 472.39 50.00 473.00 49.66 C473.61 49.32 474.35 49.57 475.06 49.79 C475.78 50.01 476.63 50.97 477.30 51.01 C477.97 51.05 478.47 50.56 479.10 50.03 C479.72 49.50 480.40 48.41 481.05 47.82 C481.70 47.22 482.38 46.87 483.00 46.47 C483.62 46.07 484.16 45.60 484.74 45.41 C485.33 45.22 485.83 45.30 486.49 45.31 C487.15 45.32 488.10 45.47 488.70 45.50 C489.30 45.52 489.61 45.46 490.11 45.47 C490.60 45.47 491.14 45.56 491.69 45.52 C492.23 45.48 492.81 45.36 493.38 45.25 C493.96 45.14 494.55 44.84 495.14 44.85 C495.72 44.86 496.32 45.17 496.90 45.31 C497.47 45.46 498.04 45.62 498.60 45.73 C499.16 45.83 499.71 45.78 500.28 45.92 C500.84 46.06 501.41 46.39 501.98 46.57 C502.55 46.75 503.12 46.85 503.68 47.01 C504.25 47.17 504.81 47.21 505.37 47.53 C505.92 47.85 506.47 48.63 507.01 48.92 C507.55 49.22 508.03 49.22 508.60 49.30 C509.17 49.37 509.83 49.24 510.43 49.37 C511.04 49.50 511.63 49.99 512.21 50.09 C512.80 50.19 513.37 49.89 513.94 49.99 C514.50 50.09 515.05 50.39 515.60 50.69 C516.14 51.00 516.65 51.61 517.20 51.80 C517.75 51.99 518.36 51.62 518.88 51.86 C519.40 52.10 519.79 52.84 520.31 53.25 C520.82 53.67 521.29 54.15 521.96 54.35 C522.62 54.56 523.69 54.35 524.30 54.50 C524.91 54.65 525.12 55.19 525.59 55.24 C526.07 55.29 526.59 55.04 527.14 54.82 C527.69 54.60 528.28 54.03 528.87 53.91 C529.47 53.80 530.09 54.20 530.71 54.12 C531.33 54.03 531.97 53.57 532.59 53.42 C533.21 53.26 533.84 53.18 534.44 53.16 C535.03 53.15 535.62 53.51 536.17 53.32 C536.72 53.12 537.25 52.25 537.73 52.00 C538.20 51.75 538.65 51.87 539.03 51.82 C539.41 51.78 539.84 51.74 540.00 51.72" fill="none" stroke="#9ccdf0" stroke-width="1.00" stroke-linejoin="round" stroke-linecap="round"/>
<path d="M434.90 52.43 C435.07 52.41 435.51 52.24 435.91 52.26 C436.31 52.28 436.79 52.48 437.29 52.56 C437.80 52.64 438.36 52.76 438.94 52.74 C439.51 52.71 440.13 52.29 440.74 52.40 C441.35 52.51 441.98 53.28 442.59 53.38 C443.19 53.49 443.81 53.17 444.37 53.02 C444.94 52.87 445.43 52.45 446.00 52.49 C446.57 52.54 447.18 53.21 447.77 53.29 C448.35 53.37 448.94 52.98 449.53 52.97 C450.11 52.96 450.69 53.10 451.26 53.23 C451.82 53.36 452.39 53.82 452.93 53.74 C453.47 53.67 454.01 52.90 454.52 52.79 C455.03 52.68 455.42 52.97 456.00 53.10 C456.58 53.23 457.36 53.59 457.99 53.58 C458.62 53.57 459.20 53.05 459.77 53.07 C460.34 53.08 460.87 53.62 461.41 53.68 C461.95 53.74 462.39 53.45 463.00 53.42 C463.61 53.39 464.39 53.18 465.05 53.49 C465.71 53.81 466.34 55.08 466.95 55.31 C467.56 55.54 468.03 55.61 468.70 54.88 C469.37 54.16 470.27 52.19 470.99 50.97 C471.70 49.74 472.38 47.69 473.00 47.53 C473.62 47.37 474.12 48.99 474.71 50.01 C475.29 51.03 475.94 53.08 476.50 53.63 C477.06 54.19 477.51 53.68 478.06 53.34 C478.60 53.01 479.20 52.09 479.78 51.61 C480.35 51.13 480.92 50.75 481.50 50.47 C482.08 50.19 482.66 50.05 483.24 49.92 C483.83 49.78 484.45 49.82 484.99 49.65 C485.53 49.48 485.99 50.01 486.50 48.89 C487.01 47.78 487.56 45.01 488.04 42.97 C488.53 40.93 488.91 38.12 489.40 36.66 C489.89 35.21 490.39 35.08 490.97 34.25 C491.56 33.41 492.29 32.39 492.90 31.67 C493.51 30.94 494.01 30.47 494.63 29.90 C495.25 29.32 495.95 28.78 496.61 28.22 C497.27 27.66 497.96 26.48 498.60 26.55 C499.24 26.62 499.85 27.71 500.48 28.63 C501.11 29.54 501.71 30.87 502.37 32.05 C503.02 33.22 503.78 34.60 504.40 35.68 C505.02 36.76 505.52 37.61 506.12 38.52 C506.71 39.43 507.34 40.14 507.96 41.12 C508.57 42.09 509.20 43.41 509.79 44.38 C510.38 45.36 510.88 46.18 511.50 46.96 C512.12 47.75 512.86 48.47 513.50 49.12 C514.15 49.76 514.74 50.46 515.35 50.84 C515.97 51.22 516.56 50.93 517.20 51.39 C517.84 51.85 518.52 52.85 519.18 53.60 C519.84 54.34 520.54 55.36 521.16 55.88 C521.78 56.39 522.30 56.22 522.90 56.69 C523.50 57.15 524.15 58.31 524.75 58.68 C525.35 59.06 525.98 59.10 526.50 58.96 C527.02 58.82 527.41 58.09 527.90 57.85 C528.39 57.62 528.86 57.79 529.44 57.53 C530.03 57.27 530.80 56.56 531.40 56.29 C532.00 56.03 532.42 55.91 533.02 55.94 C533.62 55.97 534.32 56.45 534.99 56.48 C535.65 56.50 536.37 56.04 537.00 56.11 C537.63 56.18 538.27 56.67 538.77 56.89 C539.27 57.11 539.80 57.36 540.00 57.45" fill="none" stroke="#ff1010" stroke-width="2.30" stroke-linejoin="round" stroke-linecap="round"/>
<path d="M434.90 51.94 C435.07 52.07 435.51 52.53 435.91 52.69 C436.31 52.86 436.79 52.91 437.29 52.93 C437.80 52.95 438.36 52.85 438.94 52.81 C439.51 52.76 440.13 52.68 440.74 52.67 C441.35 52.66 441.98 52.71 442.59 52.72 C443.19 52.73 443.81 52.66 444.37 52.74 C444.94 52.82 445.43 53.12 446.00 53.21 C446.57 53.31 447.18 53.36 447.77 53.32 C448.35 53.27 448.94 52.99 449.53 52.94 C450.11 52.90 450.69 53.04 451.26 53.07 C451.82 53.10 452.39 53.14 452.93 53.15 C453.47 53.16 454.01 53.04 454.52 53.15 C455.03 53.25 455.42 53.74 456.00 53.77 C456.58 53.80 457.36 53.47 457.99 53.32 C458.62 53.18 459.20 52.88 459.77 52.89 C460.34 52.91 460.87 53.35 461.41 53.42 C461.95 53.50 462.39 53.21 463.00 53.34 C463.61 53.47 464.39 53.93 465.05 54.19 C465.71 54.45 466.34 54.86 466.95 54.90 C467.56 54.94 468.03 54.93 468.70 54.45 C469.37 53.97 470.27 52.95 470.99 52.03 C471.70 51.10 472.38 49.08 473.00 48.89 C473.62 48.70 474.12 50.26 474.71 50.89 C475.29 51.51 475.93 52.45 476.50 52.64 C477.07 52.82 477.56 52.04 478.13 52.01 C478.71 51.97 479.37 52.43 479.93 52.43 C480.49 52.44 481.02 51.92 481.50 52.03 C481.98 52.14 482.34 52.85 482.82 53.08 C483.30 53.32 483.89 53.54 484.40 53.43 C484.91 53.32 485.33 52.95 485.88 52.40 C486.43 51.86 487.06 50.79 487.69 50.18 C488.31 49.57 488.99 49.27 489.63 48.76 C490.26 48.24 490.89 47.67 491.50 47.09 C492.11 46.50 492.68 45.84 493.27 45.25 C493.86 44.66 494.45 44.07 495.04 43.54 C495.63 43.01 496.23 42.28 496.82 42.05 C497.41 41.82 498.00 41.96 498.60 42.17 C499.20 42.38 499.80 42.87 500.40 43.33 C501.00 43.79 501.60 44.25 502.20 44.93 C502.80 45.61 503.40 46.78 504.00 47.43 C504.60 48.09 505.20 48.43 505.80 48.85 C506.40 49.28 506.99 49.62 507.58 49.97 C508.17 50.32 508.77 50.88 509.36 50.97 C509.95 51.06 510.54 50.51 511.13 50.52 C511.72 50.53 512.30 50.81 512.90 51.03 C513.50 51.26 514.10 51.70 514.71 51.88 C515.31 52.05 515.93 51.84 516.54 52.09 C517.14 52.34 517.75 53.13 518.32 53.37 C518.90 53.60 519.39 53.46 520.00 53.48 C520.61 53.50 521.36 53.24 522.00 53.50 C522.65 53.75 523.24 54.77 523.85 54.99 C524.47 55.21 525.09 54.98 525.70 54.83 C526.31 54.67 526.90 54.34 527.49 54.06 C528.09 53.79 528.63 53.60 529.29 53.17 C529.94 52.74 530.77 51.76 531.40 51.50 C532.03 51.24 532.46 51.60 533.07 51.62 C533.68 51.64 534.38 51.67 535.04 51.64 C535.71 51.62 536.42 51.52 537.04 51.46 C537.66 51.39 538.29 51.30 538.78 51.23 C539.28 51.16 539.80 51.07 540.00 51.04" fill="none" stroke="#050505" stroke-width="2.30" stroke-linejoin="round" stroke-linecap="round"/>
<path d="M434.90 52.68 C435.07 52.72 435.51 53.00 435.91 52.91 C436.31 52.83 436.79 52.26 437.29 52.18 C437.80 52.10 438.36 52.25 438.94 52.43 C439.51 52.60 440.13 53.19 440.74 53.23 C441.35 53.28 441.98 52.72 442.59 52.69 C443.19 52.66 443.81 53.01 444.37 53.06 C444.94 53.12 445.43 53.13 446.00 53.04 C446.57 52.95 447.18 52.42 447.77 52.50 C448.35 52.58 448.94 53.35 449.53 53.50 C450.11 53.66 450.69 53.52 451.26 53.43 C451.82 53.34 452.39 52.97 452.93 52.96 C453.47 52.96 454.01 53.39 454.52 53.41 C455.03 53.43 455.42 53.12 456.00 53.08 C456.58 53.04 457.36 53.06 457.99 53.17 C458.62 53.29 459.20 53.79 459.77 53.78 C460.34 53.77 460.87 53.23 461.41 53.14 C461.95 53.05 462.39 53.03 463.00 53.24 C463.61 53.44 464.39 54.05 465.05 54.35 C465.71 54.66 466.34 54.79 466.95 55.06 C467.56 55.32 468.03 56.49 468.70 55.95 C469.37 55.41 470.27 53.13 470.99 51.81 C471.70 50.49 472.38 48.12 473.00 48.00 C473.62 47.89 474.12 50.09 474.71 51.12 C475.29 52.14 475.97 53.68 476.50 54.14 C477.03 54.60 477.39 54.03 477.87 53.87 C478.35 53.72 478.80 53.72 479.41 53.19 C480.01 52.67 480.92 51.26 481.50 50.74 C482.08 50.23 482.40 50.30 482.91 50.12 C483.42 49.94 483.99 50.03 484.57 49.66 C485.15 49.30 485.76 48.32 486.37 47.93 C486.97 47.53 487.60 47.60 488.20 47.30 C488.79 46.99 489.39 46.52 489.94 46.12 C490.49 45.72 490.91 44.98 491.50 44.89 C492.09 44.79 492.86 45.45 493.48 45.53 C494.10 45.62 494.66 45.42 495.23 45.40 C495.79 45.38 496.32 45.25 496.89 45.43 C497.45 45.61 498.02 46.28 498.60 46.48 C499.18 46.68 499.80 46.34 500.40 46.62 C501.00 46.91 501.60 47.61 502.20 48.19 C502.80 48.77 503.40 49.74 504.00 50.08 C504.60 50.42 505.20 50.06 505.80 50.24 C506.40 50.41 506.99 50.90 507.58 51.14 C508.17 51.39 508.77 51.61 509.36 51.73 C509.95 51.85 510.54 51.63 511.13 51.85 C511.72 52.08 512.30 52.87 512.90 53.08 C513.50 53.29 514.10 53.12 514.71 53.11 C515.31 53.10 515.93 52.90 516.54 53.02 C517.14 53.14 517.75 53.66 518.32 53.82 C518.90 53.98 519.40 53.80 520.00 53.99 C520.60 54.19 521.32 54.72 521.95 55.00 C522.57 55.27 523.12 55.60 523.74 55.64 C524.37 55.67 525.09 55.37 525.70 55.22 C526.31 55.06 526.81 55.00 527.40 54.71 C527.98 54.42 528.60 53.85 529.21 53.47 C529.82 53.09 530.46 52.79 531.07 52.43 C531.69 52.07 532.27 51.69 532.90 51.32 C533.53 50.95 534.18 50.29 534.85 50.22 C535.52 50.15 536.25 50.83 536.90 50.89 C537.55 50.95 538.21 50.67 538.73 50.60 C539.24 50.54 539.79 50.53 540.00 50.52" fill="none" stroke="#00f500" stroke-width="2.30" stroke-linejoin="round" stroke-linecap="round"/>
</g>
<line x1="455.53" y1="19.0" x2="455.53" y2="68.8" stroke="#1a1a1a" stroke-width="1" stroke-dasharray="2.6 2.2"/>
<rect x="434.9" y="19.9" width="103.4" height="49.0" fill="none" stroke="#a6a6a6" stroke-width="1"/>
<line x1="455.5" y1="68.8" x2="455.5" y2="67.6" stroke="#555" stroke-width="0.8"/>
<line x1="455.5" y1="19.9" x2="455.5" y2="21.1" stroke="#555" stroke-width="0.8"/>
<line x1="476.2" y1="68.8" x2="476.2" y2="67.6" stroke="#555" stroke-width="0.8"/>
<line x1="476.2" y1="19.9" x2="476.2" y2="21.1" stroke="#555" stroke-width="0.8"/>
<line x1="496.9" y1="68.8" x2="496.9" y2="67.6" stroke="#555" stroke-width="0.8"/>
<line x1="496.9" y1="19.9" x2="496.9" y2="21.1" stroke="#555" stroke-width="0.8"/>
<line x1="517.6" y1="68.8" x2="517.6" y2="67.6" stroke="#555" stroke-width="0.8"/>
<line x1="517.6" y1="19.9" x2="517.6" y2="21.1" stroke="#555" stroke-width="0.8"/>
<line x1="434.9" y1="52.5" x2="436.1" y2="52.5" stroke="#555" stroke-width="0.8"/>
<line x1="538.2" y1="52.5" x2="537.0" y2="52.5" stroke="#555" stroke-width="0.8"/>
<line x1="434.9" y1="36.2" x2="436.1" y2="36.2" stroke="#555" stroke-width="0.8"/>
<line x1="538.2" y1="36.2" x2="537.0" y2="36.2" stroke="#555" stroke-width="0.8"/>
<g clip-path="url(#cp03)">
<path d="M473.00 46.20 L476.20 40.12 L473.00 41.24 L469.80 40.12 Z" fill="#1a70c8"/>
<path d="M498.60 25.90 L501.80 19.82 L498.60 20.94 L495.40 19.82 Z" fill="#ff1515"/>
<path d="M478.00 56.60 L481.20 62.68 L478.00 61.56 L474.80 62.68 Z" fill="#6d9e30"/>
<path d="M527.20 60.10 L530.40 66.18 L527.20 65.06 L524.00 66.18 Z" fill="#000"/>
</g>
<text class="s" transform="translate(434.85 77.20) scale(0.920 1.160)" font-size="6.10" text-anchor="middle" fill="#3a3a3a">-0.2</text>
<text class="s" transform="translate(455.53 77.20) scale(0.920 1.160)" font-size="6.10" text-anchor="middle" fill="#3a3a3a">0</text>
<text class="s" transform="translate(476.21 77.20) scale(0.920 1.160)" font-size="6.10" text-anchor="middle" fill="#3a3a3a">0.2</text>
<text class="s" transform="translate(496.89 77.20) scale(0.920 1.160)" font-size="6.10" text-anchor="middle" fill="#3a3a3a">0.4</text>
<text class="s" transform="translate(517.57 77.20) scale(0.920 1.160)" font-size="6.10" text-anchor="middle" fill="#3a3a3a">0.6</text>
<text class="s" transform="translate(538.25 77.20) scale(0.920 1.160)" font-size="6.10" text-anchor="middle" fill="#3a3a3a">0.8</text>
<text class="s" transform="translate(433.05 71.70) scale(0.920 1.160)" font-size="6.10" text-anchor="end" fill="#3a3a3a">-10</text>
<text class="s" transform="translate(433.05 55.38) scale(0.920 1.160)" font-size="6.10" text-anchor="end" fill="#3a3a3a">0</text>
<text class="s" transform="translate(433.05 39.07) scale(0.920 1.160)" font-size="6.10" text-anchor="end" fill="#3a3a3a">10</text>
<text class="s" transform="translate(433.05 22.75) scale(0.920 1.160)" font-size="6.10" text-anchor="end" fill="#3a3a3a">20</text>
<text class="s lab" transform="translate(487.35 86.65) scale(1.000 1.100)" font-size="8.00" text-anchor="middle" fill="#262626">Time/(s)</text>
<text class="s lab" transform="translate(422.45 44.83) rotate(-90) scale(1.000 1.100)" font-size="8.00" text-anchor="middle" fill="#262626">Amplitude/(uv)</text>
<text class="r" transform="translate(76.74 105.73) scale(1.000 1.060)" font-size="13.60" text-anchor="middle" fill="#111">P4</text>
<clipPath id="cp10"><rect x="26.5" y="108.3" width="103.4" height="49.0"/></clipPath>
<g clip-path="url(#cp10)">
<path d="M26.50 140.78 C26.68 140.76 27.14 140.59 27.55 140.66 C27.97 140.73 28.47 141.12 28.99 141.20 C29.52 141.28 30.11 141.12 30.70 141.12 C31.30 141.11 31.94 141.05 32.57 141.17 C33.20 141.28 33.86 141.82 34.49 141.82 C35.12 141.82 35.75 141.28 36.34 141.17 C36.92 141.07 37.44 141.10 38.00 141.20 C38.56 141.30 39.16 141.74 39.72 141.78 C40.28 141.82 40.81 141.42 41.34 141.44 C41.88 141.45 42.40 141.78 42.92 141.86 C43.45 141.94 43.98 142.04 44.52 141.91 C45.07 141.78 45.61 141.06 46.19 141.06 C46.77 141.06 47.45 141.76 48.00 141.94 C48.55 142.12 48.99 142.11 49.52 142.14 C50.05 142.17 50.62 141.98 51.20 142.12 C51.77 142.25 52.37 142.89 52.96 142.97 C53.56 143.04 54.16 142.60 54.75 142.56 C55.34 142.52 55.93 142.56 56.49 142.75 C57.04 142.94 57.59 143.58 58.10 143.69 C58.61 143.81 59.10 143.53 59.53 143.42 C59.96 143.31 60.12 143.66 60.70 143.05 C61.28 142.45 62.43 140.85 63.03 139.78 C63.63 138.71 63.75 136.80 64.30 136.63 C64.85 136.46 65.61 137.99 66.31 138.76 C67.01 139.53 67.87 141.24 68.50 141.25 C69.13 141.27 69.56 139.77 70.11 138.84 C70.66 137.92 71.24 136.70 71.80 135.71 C72.37 134.72 72.97 133.57 73.50 132.92 C74.03 132.27 74.47 132.04 74.96 131.82 C75.44 131.60 75.82 131.57 76.41 131.59 C77.00 131.61 77.95 131.95 78.50 131.96 C79.05 131.98 79.28 131.67 79.71 131.67 C80.14 131.67 80.60 131.78 81.08 131.96 C81.55 132.14 82.06 132.61 82.57 132.76 C83.09 132.90 83.62 132.65 84.16 132.84 C84.70 133.02 85.26 133.59 85.82 133.85 C86.37 134.11 86.94 134.35 87.51 134.42 C88.07 134.48 88.67 134.23 89.20 134.24 C89.73 134.25 90.18 134.33 90.68 134.47 C91.17 134.61 91.67 134.94 92.17 135.07 C92.67 135.20 93.18 135.23 93.69 135.26 C94.20 135.29 94.72 135.13 95.25 135.27 C95.78 135.41 96.31 136.08 96.86 136.12 C97.40 136.17 97.96 135.57 98.53 135.53 C99.10 135.49 99.68 135.60 100.27 135.86 C100.87 136.13 101.56 136.92 102.10 137.12 C102.64 137.32 103.03 136.92 103.51 137.05 C104.00 137.18 104.50 137.66 105.01 137.90 C105.52 138.14 106.05 138.35 106.58 138.50 C107.11 138.66 107.65 138.66 108.19 138.83 C108.73 139.00 109.28 139.20 109.83 139.53 C110.38 139.86 110.93 140.48 111.48 140.80 C112.03 141.12 112.58 141.31 113.12 141.46 C113.66 141.60 114.20 141.47 114.73 141.67 C115.26 141.86 115.79 142.50 116.30 142.63 C116.81 142.76 117.31 142.44 117.79 142.47 C118.28 142.51 118.65 142.60 119.20 142.83 C119.75 143.05 120.46 143.79 121.09 143.81 C121.73 143.82 122.37 143.13 123.00 142.94 C123.63 142.75 124.27 142.76 124.88 142.69 C125.49 142.62 126.09 142.71 126.67 142.51 C127.24 142.31 127.80 141.60 128.33 141.49 C128.85 141.38 129.35 141.86 129.80 141.85 C130.25 141.85 130.68 141.58 131.04 141.47 C131.41 141.36 131.84 141.23 132.00 141.18" fill="none" stroke="#9ccdf0" stroke-width="1.00" stroke-linejoin="round" stroke-linecap="round"/>
<path d="M26.50 140.72 C26.68 140.83 27.14 141.27 27.55 141.37 C27.97 141.48 28.47 141.41 28.99 141.35 C29.52 141.30 30.11 141.00 30.70 141.04 C31.30 141.07 31.94 141.57 32.57 141.56 C33.20 141.54 33.86 141.02 34.49 140.97 C35.12 140.92 35.75 141.07 36.34 141.27 C36.92 141.46 37.42 142.11 38.00 142.12 C38.58 142.14 39.20 141.44 39.79 141.35 C40.38 141.25 40.97 141.47 41.56 141.54 C42.14 141.62 42.72 141.83 43.28 141.79 C43.85 141.74 44.40 141.22 44.94 141.29 C45.48 141.36 46.02 142.06 46.52 142.19 C47.03 142.33 47.42 142.25 48.00 142.10 C48.58 141.95 49.36 141.36 49.99 141.31 C50.62 141.25 51.20 141.76 51.77 141.77 C52.34 141.78 52.87 141.41 53.41 141.37 C53.95 141.34 54.39 141.29 55.00 141.55 C55.61 141.80 56.41 142.69 57.07 142.89 C57.74 143.10 58.40 142.79 59.00 142.79 C59.61 142.78 60.09 143.38 60.70 142.84 C61.31 142.31 62.08 140.77 62.68 139.58 C63.28 138.39 63.79 135.91 64.30 135.69 C64.81 135.46 65.28 137.32 65.74 138.22 C66.21 139.11 66.66 140.44 67.10 141.07 C67.54 141.69 67.93 141.81 68.41 141.96 C68.90 142.12 69.48 141.95 70.00 141.98 C70.52 142.01 70.99 142.30 71.54 142.13 C72.09 141.97 72.74 141.45 73.31 140.99 C73.89 140.54 74.36 140.06 75.00 139.41 C75.64 138.77 76.44 138.11 77.14 137.13 C77.84 136.14 78.51 134.89 79.20 133.51 C79.89 132.14 80.54 130.65 81.26 128.88 C81.97 127.12 82.83 124.32 83.50 122.91 C84.17 121.49 84.67 121.20 85.30 120.41 C85.92 119.61 86.60 118.67 87.25 118.13 C87.90 117.59 88.56 116.99 89.20 117.15 C89.84 117.30 90.47 118.36 91.10 119.07 C91.73 119.79 92.37 120.54 93.00 121.44 C93.63 122.34 94.26 123.48 94.90 124.49 C95.54 125.51 96.20 126.39 96.85 127.53 C97.50 128.67 98.18 130.09 98.80 131.35 C99.43 132.61 99.94 134.16 100.60 135.10 C101.26 136.05 102.03 136.29 102.75 137.00 C103.47 137.71 104.26 138.66 104.90 139.35 C105.54 140.03 106.00 140.61 106.59 141.13 C107.18 141.66 107.76 141.99 108.43 142.47 C109.10 142.95 109.98 143.73 110.60 144.04 C111.22 144.35 111.62 144.15 112.18 144.32 C112.74 144.48 113.36 144.79 113.97 145.05 C114.58 145.31 115.22 145.65 115.83 145.87 C116.44 146.09 117.06 146.21 117.62 146.38 C118.18 146.54 118.59 146.89 119.20 146.85 C119.81 146.81 120.63 146.35 121.26 146.14 C121.90 145.92 122.40 145.66 123.00 145.55 C123.61 145.45 124.28 145.67 124.90 145.52 C125.52 145.37 126.09 144.81 126.74 144.66 C127.39 144.52 128.15 144.76 128.81 144.65 C129.46 144.54 130.16 144.27 130.69 144.03 C131.22 143.79 131.78 143.35 132.00 143.22" fill="none" stroke="#ff1010" stroke-width="2.30" stroke-linejoin="round" stroke-linecap="round"/>
<path d="M26.50 141.49 C26.68 141.44 27.14 141.30 27.55 141.18 C27.97 141.05 28.47 140.79 28.99 140.74 C29.52 140.70 30.11 140.78 30.70 140.92 C31.30 141.07 31.94 141.56 32.57 141.63 C33.20 141.71 33.86 141.40 34.49 141.38 C35.12 141.37 35.75 141.54 36.34 141.53 C36.92 141.52 37.42 141.38 38.00 141.34 C38.58 141.30 39.20 141.21 39.79 141.30 C40.38 141.38 40.97 141.79 41.56 141.88 C42.14 141.96 42.72 141.85 43.28 141.80 C43.85 141.75 44.40 141.58 44.94 141.58 C45.48 141.58 46.02 141.84 46.52 141.82 C47.03 141.80 47.42 141.47 48.00 141.48 C48.58 141.48 49.36 141.68 49.99 141.85 C50.62 142.03 51.20 142.49 51.77 142.52 C52.34 142.54 52.87 142.06 53.41 142.01 C53.95 141.97 54.39 142.07 55.00 142.24 C55.61 142.42 56.41 142.81 57.07 143.08 C57.74 143.34 58.40 143.66 59.00 143.84 C59.61 144.02 60.09 144.75 60.70 144.16 C61.31 143.57 62.04 141.45 62.64 140.29 C63.24 139.12 63.72 137.30 64.30 137.16 C64.88 137.02 65.51 138.58 66.09 139.45 C66.68 140.32 67.30 141.80 67.80 142.37 C68.30 142.94 68.63 142.77 69.11 142.86 C69.60 142.95 70.16 143.13 70.70 142.93 C71.24 142.72 71.74 141.93 72.34 141.62 C72.94 141.31 73.62 141.27 74.29 141.06 C74.97 140.85 75.76 140.72 76.40 140.35 C77.04 139.99 77.52 139.37 78.11 138.86 C78.70 138.35 79.34 137.93 79.95 137.29 C80.56 136.66 81.20 135.68 81.79 135.06 C82.38 134.43 82.88 134.02 83.50 133.55 C84.12 133.08 84.86 132.73 85.50 132.26 C86.15 131.78 86.74 130.99 87.35 130.70 C87.97 130.41 88.58 130.52 89.20 130.52 C89.82 130.52 90.43 130.38 91.04 130.71 C91.66 131.05 92.25 131.82 92.89 132.54 C93.53 133.27 94.28 134.61 94.90 135.07 C95.52 135.53 96.01 135.08 96.60 135.30 C97.18 135.53 97.80 136.08 98.41 136.42 C99.03 136.76 99.66 137.13 100.27 137.33 C100.89 137.53 101.49 137.30 102.10 137.63 C102.71 137.95 103.31 138.92 103.91 139.28 C104.52 139.65 105.14 139.71 105.74 139.82 C106.35 139.92 106.95 139.71 107.53 139.91 C108.10 140.11 108.59 140.73 109.20 141.01 C109.81 141.29 110.56 141.31 111.20 141.60 C111.85 141.89 112.44 142.44 113.05 142.73 C113.67 143.02 114.28 143.25 114.90 143.32 C115.52 143.38 116.17 143.11 116.80 143.12 C117.43 143.12 118.07 143.39 118.70 143.35 C119.33 143.30 119.97 142.93 120.60 142.85 C121.23 142.77 121.87 143.03 122.50 142.86 C123.13 142.69 123.77 142.24 124.40 141.82 C125.03 141.39 125.63 140.48 126.30 140.29 C126.97 140.11 127.71 140.70 128.41 140.72 C129.11 140.74 129.92 140.49 130.52 140.41 C131.12 140.32 131.75 140.25 132.00 140.22" fill="none" stroke="#050505" stroke-width="2.30" stroke-linejoin="round" stroke-linecap="round"/>
<path d="M26.50 141.19 C26.68 141.12 27.14 140.75 27.55 140.77 C27.97 140.80 28.47 141.22 28.99 141.34 C29.52 141.46 30.11 141.57 30.70 141.49 C31.30 141.40 31.94 140.83 32.57 140.82 C33.20 140.81 33.86 141.30 34.49 141.42 C35.12 141.54 35.75 141.55 36.34 141.55 C36.92 141.54 37.42 141.31 38.00 141.39 C38.58 141.47 39.20 142.05 39.79 142.03 C40.38 142.02 40.97 141.43 41.56 141.32 C42.14 141.20 42.72 141.18 43.28 141.32 C43.85 141.45 44.40 142.06 44.94 142.13 C45.48 142.21 46.02 141.81 46.52 141.77 C47.03 141.73 47.42 141.88 48.00 141.89 C48.58 141.91 49.36 141.99 49.99 141.86 C50.62 141.73 51.20 141.16 51.77 141.12 C52.34 141.07 52.87 141.47 53.41 141.60 C53.95 141.73 54.39 141.81 55.00 141.90 C55.61 141.99 56.41 141.87 57.07 142.12 C57.74 142.38 58.40 143.29 59.00 143.40 C59.61 143.52 60.09 143.54 60.70 142.81 C61.31 142.08 62.04 140.05 62.64 139.00 C63.24 137.96 63.72 136.71 64.30 136.53 C64.88 136.34 65.55 137.08 66.14 137.90 C66.72 138.71 67.36 140.40 67.80 141.42 C68.24 142.44 68.44 143.35 68.81 144.00 C69.17 144.65 69.58 145.38 70.00 145.33 C70.42 145.27 70.83 144.17 71.33 143.66 C71.82 143.15 72.36 142.90 72.97 142.25 C73.58 141.61 74.41 140.61 75.00 139.80 C75.59 139.00 75.96 138.01 76.50 137.41 C77.03 136.80 77.63 136.70 78.22 136.16 C78.80 135.62 79.43 134.76 80.03 134.16 C80.64 133.56 81.26 132.87 81.83 132.55 C82.41 132.24 82.91 132.51 83.50 132.27 C84.09 132.03 84.77 131.23 85.37 131.13 C85.98 131.03 86.55 131.30 87.13 131.66 C87.71 132.01 88.27 132.93 88.85 133.25 C89.43 133.58 90.01 133.32 90.60 133.61 C91.19 133.91 91.80 134.61 92.40 135.02 C93.00 135.44 93.60 135.85 94.20 136.09 C94.80 136.34 95.40 136.12 96.00 136.50 C96.60 136.88 97.20 137.95 97.80 138.37 C98.40 138.79 98.99 138.89 99.58 139.01 C100.17 139.12 100.77 138.90 101.36 139.05 C101.95 139.20 102.54 139.79 103.13 139.92 C103.72 140.05 104.31 139.69 104.90 139.83 C105.49 139.97 106.08 140.35 106.67 140.76 C107.26 141.17 107.85 142.02 108.44 142.28 C109.03 142.55 109.63 142.24 110.22 142.36 C110.81 142.49 111.40 142.83 112.00 143.02 C112.60 143.21 113.20 143.42 113.80 143.50 C114.40 143.59 115.00 143.41 115.60 143.54 C116.20 143.68 116.80 144.25 117.40 144.31 C118.00 144.37 118.60 144.14 119.20 143.92 C119.80 143.71 120.41 143.28 121.01 143.03 C121.62 142.78 122.24 142.67 122.84 142.42 C123.45 142.17 124.05 141.73 124.63 141.51 C125.20 141.29 125.65 141.33 126.30 141.10 C126.95 140.88 127.80 140.42 128.51 140.16 C129.23 139.90 129.99 139.65 130.57 139.55 C131.15 139.45 131.76 139.57 132.00 139.57" fill="none" stroke="#00f500" stroke-width="2.30" stroke-linejoin="round" stroke-linecap="round"/>
</g>
<line x1="47.22" y1="107.4" x2="47.22" y2="157.3" stroke="#1a1a1a" stroke-width="1" stroke-dasharray="2.6 2.2"/>
<rect x="26.5" y="108.3" width="103.4" height="49.0" fill="none" stroke="#a6a6a6" stroke-width="1"/>
<line x1="47.2" y1="157.3" x2="47.2" y2="156.1" stroke="#555" stroke-width="0.8"/>
<line x1="47.2" y1="108.3" x2="47.2" y2="109.5" stroke="#555" stroke-width="0.8"/>
<line x1="67.9" y1="157.3" x2="67.9" y2="156.1" stroke="#555" stroke-width="0.8"/>
<line x1="67.9" y1="108.3" x2="67.9" y2="109.5" stroke="#555" stroke-width="0.8"/>
<line x1="88.6" y1="157.3" x2="88.6" y2="156.1" stroke="#555" stroke-width="0.8"/>
<line x1="88.6" y1="108.3" x2="88.6" y2="109.5" stroke="#555" stroke-width="0.8"/>
<line x1="109.3" y1="157.3" x2="109.3" y2="156.1" stroke="#555" stroke-width="0.8"/>
<line x1="109.3" y1="108.3" x2="109.3" y2="109.5" stroke="#555" stroke-width="0.8"/>
<line x1="26.5" y1="141.0" x2="27.7" y2="141.0" stroke="#555" stroke-width="0.8"/>
<line x1="129.9" y1="141.0" x2="128.7" y2="141.0" stroke="#555" stroke-width="0.8"/>
<line x1="26.5" y1="124.6" x2="27.7" y2="124.6" stroke="#555" stroke-width="0.8"/>
<line x1="129.9" y1="124.6" x2="128.7" y2="124.6" stroke="#555" stroke-width="0.8"/>
<g clip-path="url(#cp10)">
<path d="M64.30 134.90 L67.50 128.82 L64.30 129.94 L61.10 128.82 Z" fill="#1a70c8"/>
<path d="M89.20 115.60 L92.40 109.52 L89.20 110.64 L86.00 109.52 Z" fill="#ff1515"/>
<path d="M70.00 145.60 L73.20 151.68 L70.00 150.56 L66.80 151.68 Z" fill="#6d9e30"/>
<path d="M117.00 147.70 L120.20 153.78 L117.00 152.66 L113.80 153.78 Z" fill="#000"/>
</g>
<text class="s" transform="translate(26.54 165.68) scale(0.920 1.160)" font-size="6.10" text-anchor="middle" fill="#3a3a3a">-0.2</text>
<text class="s" transform="translate(47.22 165.68) scale(0.920 1.160)" font-size="6.10" text-anchor="middle" fill="#3a3a3a">0</text>
<text class="s" transform="translate(67.90 165.68) scale(0.920 1.160)" font-size="6.10" text-anchor="middle" fill="#3a3a3a">0.2</text>
<text class="s" transform="translate(88.58 165.68) scale(0.920 1.160)" font-size="6.10" text-anchor="middle" fill="#3a3a3a">0.4</text>
<text class="s" transform="translate(109.26 165.68) scale(0.920 1.160)" font-size="6.10" text-anchor="middle" fill="#3a3a3a">0.6</text>
<text class="s" transform="translate(129.94 165.68) scale(0.920 1.160)" font-size="6.10" text-anchor="middle" fill="#3a3a3a">0.8</text>
<text class="s" transform="translate(24.74 160.18) scale(0.920 1.160)" font-size="6.10" text-anchor="end" fill="#3a3a3a">-10</text>
<text class="s" transform="translate(24.74 143.86) scale(0.920 1.160)" font-size="6.10" text-anchor="end" fill="#3a3a3a">0</text>
<text class="s" transform="translate(24.74 127.55) scale(0.920 1.160)" font-size="6.10" text-anchor="end" fill="#3a3a3a">10</text>
<text class="s" transform="translate(24.74 111.23) scale(0.920 1.160)" font-size="6.10" text-anchor="end" fill="#3a3a3a">20</text>
<text class="s lab" transform="translate(79.04 175.13) scale(1.000 1.100)" font-size="8.00" text-anchor="middle" fill="#262626">Time/(s)</text>
<text class="s lab" transform="translate(14.14 133.31) rotate(-90) scale(1.000 1.100)" font-size="8.00" text-anchor="middle" fill="#262626">Amplitude/(uv)</text>
<text class="r" transform="translate(214.40 105.73) scale(1.000 1.060)" font-size="13.60" text-anchor="middle" fill="#111">PO7</text>
<clipPath id="cp11"><rect x="162.7" y="108.3" width="103.4" height="49.0"/></clipPath>
<g clip-path="url(#cp11)">
<path d="M162.70 141.17 C162.87 141.21 163.33 141.38 163.73 141.39 C164.14 141.41 164.63 141.39 165.14 141.28 C165.66 141.16 166.24 140.74 166.82 140.71 C167.41 140.68 168.04 141.03 168.66 141.12 C169.27 141.20 169.92 141.17 170.54 141.22 C171.15 141.28 171.78 141.41 172.36 141.46 C172.93 141.51 173.44 141.60 174.00 141.54 C174.56 141.48 175.16 141.17 175.71 141.10 C176.27 141.03 176.80 141.00 177.33 141.12 C177.86 141.23 178.38 141.74 178.91 141.80 C179.44 141.86 179.97 141.53 180.51 141.50 C181.06 141.48 181.61 141.61 182.19 141.65 C182.77 141.69 183.44 141.88 184.00 141.74 C184.56 141.59 184.99 140.86 185.53 140.79 C186.06 140.72 186.64 141.19 187.21 141.31 C187.79 141.42 188.40 141.58 189.00 141.48 C189.59 141.37 190.20 140.76 190.79 140.68 C191.38 140.60 191.98 141.05 192.54 140.99 C193.10 140.93 193.65 140.50 194.15 140.31 C194.66 140.13 195.14 139.93 195.56 139.90 C195.99 139.88 196.19 140.17 196.70 140.17 C197.21 140.17 198.15 140.03 198.64 139.92 C199.12 139.81 199.18 139.49 199.60 139.49 C200.02 139.50 200.59 139.67 201.13 139.94 C201.68 140.21 202.33 141.05 202.89 141.13 C203.45 141.21 203.93 140.90 204.50 140.40 C205.07 139.89 205.74 139.00 206.34 138.10 C206.94 137.20 207.46 135.91 208.10 135.00 C208.74 134.08 209.49 133.05 210.21 132.60 C210.92 132.16 211.73 132.37 212.40 132.33 C213.07 132.28 213.48 132.10 214.20 132.33 C214.92 132.56 216.06 133.50 216.70 133.70 C217.34 133.90 217.56 133.54 218.06 133.53 C218.55 133.52 219.12 133.49 219.69 133.65 C220.25 133.80 220.87 134.26 221.47 134.46 C222.07 134.65 222.70 134.63 223.29 134.83 C223.89 135.03 224.49 135.42 225.04 135.65 C225.59 135.88 226.04 136.15 226.60 136.21 C227.16 136.27 227.87 136.01 228.43 136.01 C228.98 136.02 229.41 136.10 229.93 136.25 C230.46 136.40 230.93 136.74 231.57 136.92 C232.22 137.11 233.22 137.18 233.80 137.33 C234.38 137.49 234.61 137.64 235.04 137.84 C235.47 138.05 235.91 138.47 236.37 138.59 C236.83 138.71 237.31 138.49 237.80 138.54 C238.29 138.59 238.79 138.60 239.31 138.88 C239.83 139.17 240.36 139.98 240.91 140.25 C241.45 140.52 242.01 140.37 242.58 140.50 C243.15 140.62 243.73 140.84 244.32 141.01 C244.91 141.18 245.52 141.51 246.13 141.52 C246.74 141.53 247.45 141.01 248.00 141.04 C248.55 141.06 248.91 141.49 249.40 141.66 C249.90 141.83 250.42 142.01 250.96 142.05 C251.50 142.09 252.06 141.96 252.63 141.89 C253.20 141.83 253.79 141.71 254.38 141.65 C254.97 141.60 255.58 141.60 256.18 141.55 C256.78 141.49 257.39 141.28 257.99 141.31 C258.59 141.35 259.19 141.71 259.77 141.75 C260.36 141.79 260.94 141.65 261.50 141.54 C262.06 141.43 262.61 141.19 263.13 141.08 C263.65 140.98 264.16 140.88 264.63 140.90 C265.10 140.92 265.55 141.25 265.97 141.20 C266.38 141.15 266.76 140.68 267.10 140.60 C267.44 140.52 267.85 140.71 268.00 140.73" fill="none" stroke="#9ccdf0" stroke-width="1.00" stroke-linejoin="round" stroke-linecap="round"/>
<path d="M162.70 141.12 C162.87 141.11 163.33 141.14 163.73 141.03 C164.14 140.93 164.63 140.45 165.14 140.50 C165.66 140.56 166.24 141.19 166.82 141.36 C167.41 141.54 168.04 141.63 168.66 141.55 C169.27 141.47 169.92 140.93 170.54 140.90 C171.15 140.86 171.78 141.31 172.36 141.35 C172.93 141.38 173.43 141.12 174.00 141.09 C174.57 141.07 175.19 141.04 175.78 141.19 C176.37 141.35 176.96 141.98 177.54 142.01 C178.12 142.03 178.70 141.46 179.27 141.34 C179.83 141.21 180.39 141.21 180.94 141.27 C181.48 141.34 182.01 141.77 182.52 141.75 C183.03 141.72 183.42 141.15 184.00 141.12 C184.58 141.10 185.36 141.57 185.99 141.59 C186.62 141.61 187.20 141.53 187.77 141.25 C188.34 140.98 188.87 140.12 189.41 139.95 C189.95 139.79 190.39 140.27 191.00 140.27 C191.61 140.28 192.42 140.09 193.10 139.99 C193.78 139.89 194.46 139.68 195.06 139.67 C195.66 139.66 196.15 140.21 196.70 139.96 C197.25 139.70 197.85 138.42 198.33 138.16 C198.81 137.90 199.16 137.51 199.60 138.41 C200.04 139.31 200.53 141.79 201.00 143.55 C201.47 145.31 201.94 147.54 202.40 148.99 C202.86 150.45 203.28 151.43 203.76 152.26 C204.25 153.08 204.74 154.03 205.30 153.96 C205.86 153.90 206.43 152.98 207.13 151.85 C207.83 150.72 208.84 148.36 209.50 147.19 C210.16 146.02 210.51 145.79 211.07 144.84 C211.64 143.88 212.26 142.63 212.88 141.47 C213.49 140.32 214.15 139.10 214.79 137.90 C215.42 136.71 216.12 135.38 216.70 134.30 C217.28 133.22 217.72 132.36 218.24 131.44 C218.77 130.51 219.31 129.63 219.84 128.77 C220.38 127.92 220.92 127.17 221.45 126.30 C221.98 125.42 222.51 124.18 223.02 123.51 C223.53 122.84 223.97 122.39 224.50 122.27 C225.03 122.15 225.64 122.53 226.18 122.79 C226.72 123.05 227.22 123.16 227.74 123.85 C228.25 124.55 228.75 126.07 229.28 126.95 C229.80 127.84 230.34 128.59 230.90 129.17 C231.46 129.76 232.05 129.82 232.65 130.46 C233.24 131.10 233.85 132.28 234.46 133.01 C235.06 133.74 235.68 134.26 236.29 134.85 C236.90 135.44 237.51 135.94 238.10 136.54 C238.69 137.15 239.27 138.15 239.85 138.46 C240.43 138.77 240.99 138.32 241.57 138.41 C242.15 138.50 242.72 138.66 243.33 139.00 C243.93 139.35 244.61 140.15 245.20 140.47 C245.79 140.80 246.29 140.59 246.88 140.96 C247.46 141.33 248.09 142.24 248.70 142.71 C249.31 143.19 249.94 143.61 250.54 143.82 C251.13 144.02 251.72 143.70 252.25 143.94 C252.77 144.19 253.12 145.12 253.70 145.30 C254.28 145.48 255.04 145.28 255.76 145.03 C256.47 144.77 257.38 143.94 258.00 143.77 C258.62 143.59 258.91 144.10 259.45 143.99 C260.00 143.88 260.65 143.23 261.28 143.11 C261.92 142.98 262.62 143.15 263.27 143.23 C263.92 143.30 264.60 143.58 265.20 143.57 C265.79 143.55 266.38 143.21 266.85 143.14 C267.31 143.07 267.81 143.15 268.00 143.15" fill="none" stroke="#ff1010" stroke-width="2.30" stroke-linejoin="round" stroke-linecap="round"/>
<path d="M162.70 141.27 C162.87 141.22 163.33 140.99 163.73 140.98 C164.14 140.97 164.63 141.18 165.14 141.21 C165.66 141.25 166.24 141.24 166.82 141.17 C167.41 141.11 168.04 140.79 168.66 140.81 C169.27 140.84 169.92 141.24 170.54 141.33 C171.15 141.43 171.78 141.38 172.36 141.38 C172.93 141.39 173.43 141.35 174.00 141.35 C174.57 141.36 175.19 141.48 175.78 141.42 C176.37 141.36 176.96 141.02 177.54 141.00 C178.12 140.98 178.70 141.17 179.27 141.29 C179.83 141.41 180.39 141.65 180.94 141.70 C181.48 141.75 182.01 141.67 182.52 141.59 C183.03 141.52 183.42 141.24 184.00 141.24 C184.58 141.25 185.36 141.54 185.99 141.63 C186.62 141.71 187.20 141.66 187.77 141.76 C188.34 141.87 188.87 142.09 189.41 142.28 C189.95 142.46 190.39 142.85 191.00 142.87 C191.61 142.90 192.41 142.46 193.07 142.41 C193.74 142.37 194.40 142.65 195.00 142.62 C195.61 142.59 196.10 142.52 196.70 142.23 C197.30 141.94 197.99 141.28 198.59 140.89 C199.19 140.49 199.70 139.85 200.30 139.87 C200.90 139.89 201.52 140.46 202.22 141.00 C202.92 141.55 203.88 142.88 204.50 143.16 C205.12 143.44 205.42 142.97 205.92 142.68 C206.41 142.40 206.94 141.79 207.48 141.46 C208.03 141.12 208.59 141.13 209.18 140.66 C209.77 140.19 210.43 139.23 211.00 138.65 C211.57 138.07 212.04 137.58 212.59 137.20 C213.15 136.81 213.74 136.75 214.32 136.34 C214.91 135.93 215.52 135.19 216.10 134.74 C216.69 134.28 217.29 133.95 217.86 133.60 C218.42 133.24 218.91 133.04 219.50 132.59 C220.09 132.14 220.77 131.22 221.37 130.88 C221.98 130.54 222.55 130.63 223.13 130.55 C223.71 130.46 224.27 130.45 224.85 130.38 C225.43 130.31 226.01 129.96 226.60 130.13 C227.19 130.29 227.80 130.96 228.40 131.35 C229.00 131.73 229.60 131.99 230.20 132.45 C230.80 132.90 231.40 133.41 232.00 134.08 C232.60 134.74 233.20 135.96 233.80 136.43 C234.40 136.91 234.99 136.72 235.58 136.94 C236.17 137.17 236.77 137.47 237.36 137.80 C237.95 138.12 238.54 138.70 239.13 138.90 C239.72 139.10 240.30 138.77 240.90 139.02 C241.50 139.27 242.10 140.08 242.71 140.42 C243.31 140.76 243.93 141.02 244.54 141.05 C245.14 141.09 245.75 140.52 246.32 140.62 C246.90 140.73 247.39 141.40 248.00 141.70 C248.61 142.00 249.36 142.17 250.00 142.44 C250.65 142.70 251.24 142.99 251.85 143.29 C252.47 143.60 253.09 144.31 253.70 144.28 C254.31 144.25 254.90 143.45 255.49 143.10 C256.09 142.74 256.63 142.39 257.29 142.15 C257.94 141.90 258.77 141.77 259.40 141.63 C260.03 141.50 260.46 141.40 261.07 141.32 C261.68 141.25 262.38 141.37 263.04 141.17 C263.71 140.97 264.42 140.27 265.04 140.14 C265.66 140.00 266.29 140.33 266.78 140.37 C267.28 140.40 267.80 140.34 268.00 140.33" fill="none" stroke="#050505" stroke-width="2.30" stroke-linejoin="round" stroke-linecap="round"/>
<path d="M162.70 140.71 C162.87 140.69 163.33 140.47 163.73 140.57 C164.14 140.68 164.63 141.30 165.14 141.36 C165.66 141.42 166.24 140.96 166.82 140.95 C167.41 140.95 168.04 141.22 168.66 141.32 C169.27 141.42 169.92 141.67 170.54 141.56 C171.15 141.44 171.78 140.68 172.36 140.64 C172.93 140.60 173.43 141.17 174.00 141.34 C174.57 141.51 175.19 141.70 175.78 141.67 C176.37 141.65 176.96 141.17 177.54 141.20 C178.12 141.22 178.70 141.79 179.27 141.80 C179.83 141.82 180.39 141.40 180.94 141.27 C181.48 141.14 182.01 140.95 182.52 141.05 C183.03 141.14 183.42 141.78 184.00 141.84 C184.58 141.90 185.36 141.52 185.99 141.41 C186.62 141.30 187.20 141.22 187.77 141.19 C188.34 141.17 188.87 141.38 189.41 141.26 C189.95 141.13 190.39 140.50 191.00 140.43 C191.61 140.37 192.42 140.79 193.10 140.88 C193.78 140.96 194.46 141.13 195.06 140.95 C195.66 140.78 196.16 140.12 196.70 139.82 C197.24 139.51 197.80 139.32 198.29 139.12 C198.77 138.93 199.09 138.21 199.60 138.66 C200.11 139.11 200.77 140.56 201.35 141.84 C201.93 143.12 202.58 145.21 203.10 146.33 C203.62 147.46 203.97 148.21 204.46 148.60 C204.94 148.98 205.50 148.99 206.00 148.64 C206.50 148.30 206.92 147.30 207.43 146.52 C207.95 145.75 208.51 144.97 209.10 144.00 C209.69 143.03 210.42 141.47 211.00 140.72 C211.58 139.97 212.04 139.93 212.59 139.48 C213.15 139.04 213.73 138.66 214.33 138.03 C214.93 137.41 215.55 136.22 216.18 135.76 C216.81 135.29 217.51 135.43 218.10 135.24 C218.69 135.05 219.17 134.88 219.73 134.61 C220.29 134.35 220.88 133.82 221.46 133.66 C222.04 133.49 222.64 133.78 223.23 133.62 C223.81 133.47 224.40 132.88 224.96 132.73 C225.52 132.57 226.01 132.42 226.60 132.69 C227.19 132.96 227.88 133.89 228.49 134.33 C229.11 134.77 229.70 134.89 230.29 135.33 C230.88 135.76 231.45 136.46 232.04 136.93 C232.62 137.40 233.21 137.91 233.80 138.15 C234.39 138.39 234.99 138.15 235.58 138.38 C236.17 138.61 236.77 139.27 237.36 139.55 C237.95 139.82 238.54 139.95 239.13 140.03 C239.72 140.11 240.30 139.91 240.90 140.04 C241.50 140.16 242.10 140.59 242.71 140.76 C243.31 140.94 243.93 140.89 244.54 141.10 C245.14 141.30 245.75 141.70 246.32 141.98 C246.90 142.26 247.39 142.62 248.00 142.79 C248.61 142.95 249.36 142.82 250.00 142.95 C250.65 143.09 251.24 143.53 251.85 143.61 C252.47 143.70 253.09 143.51 253.70 143.48 C254.31 143.45 254.90 143.56 255.49 143.44 C256.09 143.32 256.63 143.15 257.29 142.76 C257.94 142.37 258.77 141.33 259.40 141.11 C260.03 140.88 260.46 141.40 261.07 141.41 C261.68 141.42 262.38 141.25 263.04 141.18 C263.71 141.10 264.42 140.90 265.04 140.95 C265.66 141.00 266.29 141.52 266.78 141.48 C267.28 141.44 267.80 140.85 268.00 140.72" fill="none" stroke="#00f500" stroke-width="2.30" stroke-linejoin="round" stroke-linecap="round"/>
</g>
<line x1="183.38" y1="107.4" x2="183.38" y2="157.3" stroke="#1a1a1a" stroke-width="1" stroke-dasharray="2.6 2.2"/>
<rect x="162.7" y="108.3" width="103.4" height="49.0" fill="none" stroke="#a6a6a6" stroke-width="1"/>
<line x1="183.4" y1="157.3" x2="183.4" y2="156.1" stroke="#555" stroke-width="0.8"/>
<line x1="183.4" y1="108.3" x2="183.4" y2="109.5" stroke="#555" stroke-width="0.8"/>
<line x1="204.1" y1="157.3" x2="204.1" y2="156.1" stroke="#555" stroke-width="0.8"/>
<line x1="204.1" y1="108.3" x2="204.1" y2="109.5" stroke="#555" stroke-width="0.8"/>
<line x1="224.7" y1="157.3" x2="224.7" y2="156.1" stroke="#555" stroke-width="0.8"/>
<line x1="224.7" y1="108.3" x2="224.7" y2="109.5" stroke="#555" stroke-width="0.8"/>
<line x1="245.4" y1="157.3" x2="245.4" y2="156.1" stroke="#555" stroke-width="0.8"/>
<line x1="245.4" y1="108.3" x2="245.4" y2="109.5" stroke="#555" stroke-width="0.8"/>
<line x1="162.7" y1="141.0" x2="163.9" y2="141.0" stroke="#555" stroke-width="0.8"/>
<line x1="266.1" y1="141.0" x2="264.9" y2="141.0" stroke="#555" stroke-width="0.8"/>
<line x1="162.7" y1="124.6" x2="163.9" y2="124.6" stroke="#555" stroke-width="0.8"/>
<line x1="266.1" y1="124.6" x2="264.9" y2="124.6" stroke="#555" stroke-width="0.8"/>
<g clip-path="url(#cp11)">
<path d="M199.60 137.70 L202.80 131.62 L199.60 132.74 L196.40 131.62 Z" fill="#1a70c8"/>
<path d="M224.50 120.60 L227.70 114.52 L224.50 115.64 L221.30 114.52 Z" fill="#ff1515"/>
<path d="M206.00 153.00 L209.20 159.08 L206.00 157.96 L202.80 159.08 Z" fill="#6d9e30"/>
<path d="M254.50 148.40 L257.70 154.48 L254.50 153.36 L251.30 154.48 Z" fill="#000"/>
</g>
<text class="s" transform="translate(162.70 165.68) scale(0.920 1.160)" font-size="6.10" text-anchor="middle" fill="#3a3a3a">-0.2</text>
<text class="s" transform="translate(183.38 165.68) scale(0.920 1.160)" font-size="6.10" text-anchor="middle" fill="#3a3a3a">0</text>
<text class="s" transform="translate(204.06 165.68) scale(0.920 1.160)" font-size="6.10" text-anchor="middle" fill="#3a3a3a">0.2</text>
<text class="s" transform="translate(224.74 165.68) scale(0.920 1.160)" font-size="6.10" text-anchor="middle" fill="#3a3a3a">0.4</text>
<text class="s" transform="translate(245.42 165.68) scale(0.920 1.160)" font-size="6.10" text-anchor="middle" fill="#3a3a3a">0.6</text>
<text class="s" transform="translate(266.10 165.68) scale(0.920 1.160)" font-size="6.10" text-anchor="middle" fill="#3a3a3a">0.8</text>
<text class="s" transform="translate(160.90 160.18) scale(0.920 1.160)" font-size="6.10" text-anchor="end" fill="#3a3a3a">-10</text>
<text class="s" transform="translate(160.90 143.86) scale(0.920 1.160)" font-size="6.10" text-anchor="end" fill="#3a3a3a">0</text>
<text class="s" transform="translate(160.90 127.55) scale(0.920 1.160)" font-size="6.10" text-anchor="end" fill="#3a3a3a">10</text>
<text class="s" transform="translate(160.90 111.23) scale(0.920 1.160)" font-size="6.10" text-anchor="end" fill="#3a3a3a">20</text>
<text class="s lab" transform="translate(215.20 175.13) scale(1.000 1.100)" font-size="8.00" text-anchor="middle" fill="#262626">Time/(s)</text>
<text class="s lab" transform="translate(150.30 133.31) rotate(-90) scale(1.000 1.100)" font-size="8.00" text-anchor="middle" fill="#262626">Amplitude/(uv)</text>
<text class="r" transform="translate(349.05 105.73) scale(1.000 1.060)" font-size="13.60" text-anchor="middle" fill="#111">Oz</text>
<clipPath id="cp12"><rect x="298.9" y="108.3" width="103.4" height="49.0"/></clipPath>
<g clip-path="url(#cp12)">
<path d="M298.90 141.14 C299.07 141.09 299.51 140.83 299.91 140.83 C300.31 140.84 300.79 141.03 301.29 141.15 C301.80 141.27 302.36 141.56 302.94 141.57 C303.51 141.57 304.13 141.27 304.74 141.20 C305.35 141.13 305.98 141.10 306.59 141.16 C307.19 141.22 307.81 141.50 308.37 141.55 C308.94 141.60 309.45 141.43 310.00 141.46 C310.55 141.50 311.15 141.72 311.70 141.76 C312.25 141.79 312.78 141.75 313.31 141.67 C313.85 141.59 314.37 141.37 314.90 141.27 C315.43 141.17 315.96 141.02 316.51 141.09 C317.06 141.16 317.61 141.65 318.19 141.70 C318.77 141.75 319.44 141.49 320.00 141.40 C320.56 141.31 320.99 141.17 321.53 141.15 C322.06 141.14 322.64 141.43 323.21 141.31 C323.79 141.19 324.40 140.52 325.00 140.43 C325.59 140.34 326.20 140.67 326.79 140.77 C327.38 140.87 327.98 141.15 328.54 141.05 C329.10 140.96 329.65 140.31 330.15 140.21 C330.66 140.11 331.14 140.46 331.56 140.45 C331.99 140.44 332.20 140.28 332.70 140.13 C333.20 139.99 334.10 139.68 334.59 139.60 C335.07 139.51 335.14 139.48 335.60 139.63 C336.06 139.77 336.70 140.40 337.32 140.48 C337.95 140.55 338.69 140.26 339.36 140.08 C340.02 139.91 340.69 139.87 341.30 139.43 C341.91 138.98 342.48 138.18 343.04 137.43 C343.61 136.68 344.17 135.62 344.69 134.94 C345.22 134.25 345.73 133.70 346.20 133.31 C346.67 132.92 346.91 132.78 347.51 132.58 C348.11 132.38 349.23 132.08 349.80 132.10 C350.37 132.11 350.53 132.47 350.95 132.68 C351.37 132.90 351.83 133.19 352.32 133.37 C352.80 133.54 353.32 133.45 353.86 133.73 C354.40 134.02 354.96 134.77 355.53 135.07 C356.10 135.38 356.69 135.44 357.29 135.55 C357.88 135.66 358.48 135.51 359.08 135.74 C359.68 135.98 360.28 136.70 360.87 136.97 C361.45 137.24 362.06 137.19 362.60 137.34 C363.14 137.49 363.61 137.71 364.13 137.88 C364.65 138.05 365.18 138.27 365.71 138.35 C366.24 138.44 366.77 138.39 367.31 138.37 C367.85 138.34 368.39 138.13 368.93 138.22 C369.48 138.30 370.02 138.67 370.57 138.88 C371.11 139.10 371.65 139.44 372.19 139.50 C372.73 139.56 373.26 139.15 373.79 139.24 C374.32 139.34 374.85 139.91 375.37 140.05 C375.89 140.19 376.37 140.05 376.90 140.10 C377.43 140.14 378.02 139.99 378.56 140.31 C379.11 140.64 379.64 141.65 380.17 142.05 C380.70 142.46 381.22 142.50 381.74 142.75 C382.27 143.00 382.78 143.26 383.30 143.53 C383.82 143.81 384.33 144.14 384.86 144.40 C385.38 144.66 385.90 144.94 386.43 145.10 C386.96 145.26 387.49 145.20 388.04 145.36 C388.58 145.52 389.16 145.91 389.70 146.06 C390.24 146.21 390.74 146.44 391.30 146.28 C391.86 146.11 392.45 145.31 393.05 145.07 C393.65 144.82 394.27 144.97 394.89 144.81 C395.50 144.64 396.13 144.33 396.74 144.08 C397.35 143.83 397.96 143.47 398.54 143.30 C399.13 143.13 399.70 143.29 400.24 143.05 C400.77 142.80 401.29 142.21 401.75 141.85 C402.22 141.49 402.66 141.06 403.03 140.87 C403.40 140.68 403.84 140.72 404.00 140.69" fill="none" stroke="#9ccdf0" stroke-width="1.00" stroke-linejoin="round" stroke-linecap="round"/>
<path d="M298.90 141.04 C299.07 141.04 299.51 141.06 299.91 141.06 C300.31 141.05 300.79 140.97 301.29 141.01 C301.80 141.04 302.36 141.26 302.94 141.26 C303.51 141.26 304.13 140.93 304.74 141.00 C305.35 141.06 305.98 141.53 306.59 141.65 C307.19 141.76 307.81 141.78 308.37 141.70 C308.94 141.63 309.43 141.25 310.00 141.21 C310.57 141.17 311.18 141.43 311.77 141.47 C312.35 141.50 312.94 141.43 313.53 141.43 C314.11 141.44 314.69 141.39 315.26 141.47 C315.82 141.56 316.39 141.95 316.93 141.92 C317.47 141.89 318.01 141.47 318.52 141.29 C319.03 141.12 319.42 140.88 320.00 140.87 C320.58 140.86 321.36 141.31 321.99 141.25 C322.62 141.20 323.20 140.68 323.77 140.56 C324.34 140.45 324.87 140.55 325.41 140.56 C325.95 140.57 326.39 140.73 327.00 140.61 C327.61 140.48 328.42 139.82 329.10 139.83 C329.78 139.84 330.46 140.46 331.06 140.67 C331.66 140.88 332.16 141.13 332.70 141.08 C333.24 141.03 333.80 140.32 334.29 140.37 C334.77 140.41 335.10 140.59 335.60 141.35 C336.10 142.11 336.72 143.78 337.31 144.94 C337.89 146.09 338.52 147.79 339.10 148.30 C339.68 148.80 340.16 148.62 340.76 147.98 C341.36 147.35 342.09 145.38 342.70 144.48 C343.31 143.58 343.79 143.22 344.39 142.57 C345.00 141.93 345.65 141.42 346.32 140.61 C346.99 139.80 347.77 138.43 348.40 137.71 C349.03 136.99 349.53 136.89 350.13 136.31 C350.72 135.72 351.37 134.94 351.99 134.19 C352.61 133.43 353.26 132.44 353.84 131.77 C354.42 131.10 354.92 130.73 355.50 130.17 C356.08 129.61 356.75 128.85 357.32 128.42 C357.89 128.00 358.38 127.69 358.91 127.61 C359.44 127.52 359.96 127.86 360.50 127.92 C361.04 127.98 361.59 127.77 362.14 127.96 C362.69 128.15 363.22 128.52 363.78 129.05 C364.34 129.59 364.91 130.55 365.50 131.17 C366.09 131.80 366.72 132.04 367.35 132.80 C367.98 133.57 368.63 134.97 369.27 135.76 C369.92 136.55 370.55 137.13 371.20 137.54 C371.85 137.94 372.50 137.95 373.15 138.18 C373.80 138.41 374.48 138.73 375.10 138.93 C375.73 139.13 376.23 139.01 376.90 139.39 C377.57 139.76 378.42 140.86 379.14 141.19 C379.85 141.53 380.50 141.34 381.20 141.39 C381.90 141.44 382.64 141.33 383.36 141.50 C384.07 141.68 384.79 141.72 385.50 142.43 C386.21 143.14 386.90 144.78 387.60 145.77 C388.30 146.77 388.99 148.44 389.70 148.40 C390.41 148.36 391.13 146.41 391.84 145.55 C392.56 144.69 393.30 143.93 394.00 143.27 C394.70 142.60 395.35 141.89 396.06 141.55 C396.78 141.21 397.59 141.29 398.30 141.22 C399.01 141.15 399.61 140.97 400.31 141.13 C401.00 141.29 401.85 141.77 402.47 142.19 C403.09 142.61 403.75 143.40 404.00 143.64" fill="none" stroke="#ff1010" stroke-width="2.30" stroke-linejoin="round" stroke-linecap="round"/>
<path d="M298.90 140.59 C299.07 140.65 299.51 140.83 299.91 140.97 C300.31 141.11 300.79 141.40 301.29 141.43 C301.80 141.46 302.36 141.15 302.94 141.17 C303.51 141.19 304.13 141.52 304.74 141.55 C305.35 141.57 305.98 141.40 306.59 141.31 C307.19 141.21 307.81 140.87 308.37 140.96 C308.94 141.04 309.43 141.71 310.00 141.82 C310.57 141.94 311.18 141.72 311.77 141.65 C312.35 141.57 312.94 141.38 313.53 141.36 C314.11 141.35 314.69 141.64 315.26 141.57 C315.82 141.51 316.39 141.02 316.93 140.97 C317.47 140.91 318.01 141.14 318.52 141.24 C319.03 141.34 319.42 141.58 320.00 141.59 C320.58 141.60 321.36 141.35 321.99 141.31 C322.62 141.26 323.20 141.29 323.77 141.31 C324.34 141.32 324.87 141.36 325.41 141.39 C325.95 141.42 326.39 141.31 327.00 141.47 C327.61 141.63 328.42 142.18 329.10 142.34 C329.78 142.50 330.46 142.47 331.06 142.42 C331.66 142.37 332.17 142.26 332.70 142.04 C333.23 141.82 333.76 141.40 334.24 141.11 C334.73 140.81 335.05 140.09 335.60 140.27 C336.15 140.44 336.83 141.47 337.53 142.14 C338.23 142.80 339.12 144.18 339.80 144.26 C340.48 144.33 340.98 143.04 341.61 142.58 C342.25 142.12 342.95 141.84 343.60 141.49 C344.24 141.14 344.90 140.85 345.50 140.48 C346.10 140.12 346.66 139.48 347.22 139.30 C347.78 139.11 348.31 139.60 348.86 139.38 C349.41 139.16 349.96 138.53 350.50 137.98 C351.04 137.42 351.56 136.54 352.09 136.04 C352.62 135.55 353.11 135.48 353.68 135.00 C354.25 134.51 354.93 133.63 355.50 133.14 C356.07 132.65 356.56 132.36 357.12 132.04 C357.69 131.71 358.31 131.56 358.91 131.17 C359.52 130.78 360.15 129.84 360.77 129.69 C361.38 129.53 362.00 129.88 362.60 130.22 C363.20 130.56 363.80 131.30 364.40 131.73 C365.00 132.16 365.60 132.23 366.20 132.82 C366.80 133.40 367.40 134.63 368.00 135.26 C368.60 135.89 369.19 136.24 369.80 136.58 C370.41 136.92 371.03 136.92 371.65 137.32 C372.27 137.73 372.92 138.72 373.53 139.00 C374.14 139.27 374.76 138.94 375.32 138.97 C375.89 139.00 376.25 138.93 376.90 139.15 C377.55 139.38 378.51 140.02 379.22 140.31 C379.94 140.60 380.51 140.73 381.20 140.90 C381.89 141.08 382.64 141.33 383.36 141.36 C384.07 141.39 384.79 140.38 385.50 141.09 C386.21 141.80 386.90 144.32 387.60 145.61 C388.30 146.91 388.99 148.70 389.70 148.85 C390.41 149.00 391.13 147.59 391.84 146.50 C392.56 145.41 393.30 143.28 394.00 142.32 C394.70 141.35 395.35 140.89 396.06 140.70 C396.78 140.51 397.59 141.10 398.30 141.16 C399.01 141.22 399.61 141.01 400.31 141.08 C401.00 141.16 401.85 141.60 402.47 141.63 C403.09 141.67 403.75 141.35 404.00 141.29" fill="none" stroke="#050505" stroke-width="2.30" stroke-linejoin="round" stroke-linecap="round"/>
<path d="M298.90 141.44 C299.07 141.42 299.51 141.38 299.91 141.31 C300.31 141.25 300.79 141.15 301.29 141.04 C301.80 140.94 302.36 140.57 302.94 140.67 C303.51 140.77 304.13 141.51 304.74 141.64 C305.35 141.77 305.98 141.47 306.59 141.44 C307.19 141.42 307.81 141.42 308.37 141.48 C308.94 141.53 309.43 141.85 310.00 141.77 C310.57 141.69 311.18 141.04 311.77 141.00 C312.35 140.96 312.94 141.35 313.53 141.51 C314.11 141.67 314.69 141.99 315.26 141.95 C315.82 141.90 316.39 141.31 316.93 141.25 C317.47 141.18 318.01 141.59 318.52 141.58 C319.03 141.58 319.42 141.38 320.00 141.21 C320.58 141.05 321.36 140.56 321.99 140.57 C322.62 140.58 323.20 141.28 323.77 141.27 C324.34 141.26 324.87 140.74 325.41 140.52 C325.95 140.31 326.39 139.99 327.00 139.96 C327.61 139.93 328.42 140.34 329.10 140.33 C329.78 140.32 330.46 139.90 331.06 139.90 C331.66 139.90 332.17 140.31 332.70 140.33 C333.23 140.36 333.76 140.24 334.24 140.05 C334.73 139.86 335.04 138.72 335.60 139.19 C336.16 139.65 336.91 141.84 337.61 142.85 C338.31 143.86 339.09 145.51 339.80 145.24 C340.51 144.97 341.18 142.77 341.90 141.23 C342.62 139.70 343.47 137.26 344.10 136.02 C344.73 134.78 345.13 134.31 345.66 133.77 C346.20 133.22 346.73 133.00 347.30 132.77 C347.88 132.53 348.55 132.38 349.10 132.38 C349.65 132.37 350.07 132.52 350.59 132.75 C351.10 132.97 351.63 133.37 352.17 133.70 C352.71 134.03 353.26 134.56 353.82 134.73 C354.37 134.89 354.93 134.57 355.50 134.69 C356.07 134.81 356.64 135.25 357.22 135.44 C357.81 135.64 358.40 135.84 359.00 135.85 C359.60 135.87 360.20 135.50 360.80 135.54 C361.40 135.58 362.00 135.97 362.60 136.09 C363.20 136.21 363.80 136.10 364.40 136.25 C365.00 136.41 365.60 136.67 366.20 137.03 C366.80 137.39 367.40 138.10 368.00 138.41 C368.60 138.71 369.20 138.70 369.80 138.87 C370.40 139.03 370.99 139.25 371.58 139.41 C372.17 139.57 372.77 139.68 373.36 139.83 C373.95 139.97 374.54 140.05 375.13 140.28 C375.72 140.50 376.30 141.03 376.90 141.18 C377.50 141.33 378.10 141.20 378.71 141.18 C379.31 141.15 379.93 141.05 380.54 141.03 C381.14 141.01 381.75 141.00 382.32 141.05 C382.90 141.10 383.38 140.89 384.00 141.35 C384.62 141.81 385.40 143.09 386.06 143.80 C386.71 144.52 387.35 145.23 387.96 145.64 C388.56 146.05 389.04 146.48 389.70 146.26 C390.36 146.05 391.22 145.27 391.94 144.36 C392.65 143.44 393.31 141.49 394.00 140.77 C394.69 140.06 395.35 140.34 396.06 140.07 C396.78 139.79 397.59 139.18 398.30 139.13 C399.01 139.07 399.61 139.50 400.31 139.75 C401.00 140.00 401.85 140.47 402.47 140.63 C403.09 140.78 403.75 140.68 404.00 140.69" fill="none" stroke="#00f500" stroke-width="2.30" stroke-linejoin="round" stroke-linecap="round"/>
</g>
<line x1="319.53" y1="107.4" x2="319.53" y2="157.3" stroke="#1a1a1a" stroke-width="1" stroke-dasharray="2.6 2.2"/>
<rect x="298.9" y="108.3" width="103.4" height="49.0" fill="none" stroke="#a6a6a6" stroke-width="1"/>
<line x1="319.5" y1="157.3" x2="319.5" y2="156.1" stroke="#555" stroke-width="0.8"/>
<line x1="319.5" y1="108.3" x2="319.5" y2="109.5" stroke="#555" stroke-width="0.8"/>
<line x1="340.2" y1="157.3" x2="340.2" y2="156.1" stroke="#555" stroke-width="0.8"/>
<line x1="340.2" y1="108.3" x2="340.2" y2="109.5" stroke="#555" stroke-width="0.8"/>
<line x1="360.9" y1="157.3" x2="360.9" y2="156.1" stroke="#555" stroke-width="0.8"/>
<line x1="360.9" y1="108.3" x2="360.9" y2="109.5" stroke="#555" stroke-width="0.8"/>
<line x1="381.6" y1="157.3" x2="381.6" y2="156.1" stroke="#555" stroke-width="0.8"/>
<line x1="381.6" y1="108.3" x2="381.6" y2="109.5" stroke="#555" stroke-width="0.8"/>
<line x1="298.9" y1="141.0" x2="300.1" y2="141.0" stroke="#555" stroke-width="0.8"/>
<line x1="402.2" y1="141.0" x2="401.1" y2="141.0" stroke="#555" stroke-width="0.8"/>
<line x1="298.9" y1="124.6" x2="300.1" y2="124.6" stroke="#555" stroke-width="0.8"/>
<line x1="402.2" y1="124.6" x2="401.1" y2="124.6" stroke="#555" stroke-width="0.8"/>
<g clip-path="url(#cp12)">
<path d="M335.60 139.10 L338.80 133.02 L335.60 134.14 L332.40 133.02 Z" fill="#1a70c8"/>
<path d="M360.50 124.90 L363.70 118.82 L360.50 119.94 L357.30 118.82 Z" fill="#ff1515"/>
<path d="M339.80 150.60 L343.00 156.68 L339.80 155.56 L336.60 156.68 Z" fill="#6d9e30"/>
<path d="M389.50 148.10 L392.70 154.18 L389.50 153.06 L386.30 154.18 Z" fill="#000"/>
</g>
<text class="s" transform="translate(298.85 165.68) scale(0.920 1.160)" font-size="6.10" text-anchor="middle" fill="#3a3a3a">-0.2</text>
<text class="s" transform="translate(319.53 165.68) scale(0.920 1.160)" font-size="6.10" text-anchor="middle" fill="#3a3a3a">0</text>
<text class="s" transform="translate(340.21 165.68) scale(0.920 1.160)" font-size="6.10" text-anchor="middle" fill="#3a3a3a">0.2</text>
<text class="s" transform="translate(360.89 165.68) scale(0.920 1.160)" font-size="6.10" text-anchor="middle" fill="#3a3a3a">0.4</text>
<text class="s" transform="translate(381.57 165.68) scale(0.920 1.160)" font-size="6.10" text-anchor="middle" fill="#3a3a3a">0.6</text>
<text class="s" transform="translate(402.25 165.68) scale(0.920 1.160)" font-size="6.10" text-anchor="middle" fill="#3a3a3a">0.8</text>
<text class="s" transform="translate(297.05 160.18) scale(0.920 1.160)" font-size="6.10" text-anchor="end" fill="#3a3a3a">-10</text>
<text class="s" transform="translate(297.05 143.86) scale(0.920 1.160)" font-size="6.10" text-anchor="end" fill="#3a3a3a">0</text>
<text class="s" transform="translate(297.05 127.55) scale(0.920 1.160)" font-size="6.10" text-anchor="end" fill="#3a3a3a">10</text>
<text class="s" transform="translate(297.05 111.23) scale(0.920 1.160)" font-size="6.10" text-anchor="end" fill="#3a3a3a">20</text>
<text class="s lab" transform="translate(351.35 175.13) scale(1.000 1.100)" font-size="8.00" text-anchor="middle" fill="#262626">Time/(s)</text>
<text class="s lab" transform="translate(286.45 133.31) rotate(-90) scale(1.000 1.100)" font-size="8.00" text-anchor="middle" fill="#262626">Amplitude/(uv)</text>
<text class="r" transform="translate(486.55 105.73) scale(1.000 1.060)" font-size="13.60" text-anchor="middle" fill="#111">PO8</text>
<clipPath id="cp13"><rect x="434.9" y="108.3" width="103.4" height="49.0"/></clipPath>
<g clip-path="url(#cp13)">
<path d="M434.90 140.96 C435.07 140.88 435.51 140.44 435.91 140.48 C436.31 140.52 436.79 141.08 437.29 141.20 C437.80 141.31 438.36 141.16 438.94 141.17 C439.51 141.18 440.13 141.15 440.74 141.28 C441.35 141.40 441.98 141.93 442.59 141.90 C443.19 141.87 443.81 141.23 444.37 141.11 C444.94 141.00 445.45 141.09 446.00 141.20 C446.55 141.30 447.15 141.71 447.70 141.76 C448.25 141.81 448.78 141.50 449.31 141.49 C449.85 141.47 450.37 141.65 450.90 141.66 C451.43 141.68 451.96 141.66 452.51 141.58 C453.06 141.49 453.61 141.22 454.19 141.15 C454.77 141.08 455.44 141.08 456.00 141.14 C456.56 141.20 456.99 141.47 457.52 141.49 C458.05 141.51 458.62 141.36 459.20 141.25 C459.77 141.14 460.37 140.90 460.96 140.82 C461.56 140.74 462.16 140.87 462.75 140.77 C463.34 140.68 463.93 140.34 464.49 140.28 C465.04 140.22 465.59 140.32 466.10 140.43 C466.61 140.53 467.10 140.96 467.53 140.90 C467.96 140.85 468.12 140.28 468.70 140.11 C469.28 139.93 470.43 139.88 471.03 139.85 C471.63 139.82 471.74 139.86 472.30 139.94 C472.86 140.02 473.70 140.10 474.40 140.33 C475.10 140.56 475.85 141.71 476.50 141.33 C477.15 140.96 477.69 139.27 478.29 138.07 C478.89 136.87 479.45 135.05 480.10 134.13 C480.75 133.21 481.49 132.94 482.21 132.53 C482.92 132.11 483.73 131.64 484.40 131.65 C485.07 131.66 485.48 132.43 486.20 132.61 C486.92 132.79 488.07 132.61 488.70 132.71 C489.33 132.82 489.52 133.01 489.98 133.24 C490.43 133.46 490.91 133.88 491.42 134.04 C491.93 134.19 492.47 133.98 493.03 134.16 C493.58 134.34 494.17 134.91 494.77 135.13 C495.37 135.34 495.99 135.45 496.63 135.48 C497.27 135.51 498.04 135.14 498.60 135.29 C499.16 135.44 499.52 136.12 500.00 136.39 C500.49 136.65 501.00 136.73 501.51 136.89 C502.03 137.05 502.56 137.19 503.10 137.35 C503.63 137.50 504.18 137.67 504.74 137.83 C505.29 137.99 505.85 138.23 506.41 138.31 C506.96 138.40 507.53 138.22 508.08 138.37 C508.64 138.52 509.19 138.90 509.74 139.21 C510.28 139.52 510.83 140.09 511.35 140.22 C511.88 140.36 512.37 139.91 512.90 140.01 C513.43 140.11 514.02 140.62 514.56 140.83 C515.11 141.05 515.64 141.23 516.17 141.32 C516.70 141.40 517.22 141.10 517.74 141.34 C518.27 141.58 518.78 142.45 519.30 142.76 C519.82 143.08 520.33 143.13 520.86 143.23 C521.38 143.33 521.90 143.28 522.43 143.34 C522.96 143.39 523.49 143.49 524.04 143.56 C524.58 143.62 525.16 143.73 525.70 143.73 C526.24 143.72 526.74 143.55 527.30 143.54 C527.86 143.54 528.45 143.70 529.05 143.69 C529.65 143.69 530.27 143.69 530.89 143.50 C531.50 143.31 532.13 142.77 532.74 142.57 C533.35 142.36 533.96 142.38 534.54 142.26 C535.13 142.13 535.70 141.97 536.24 141.83 C536.77 141.69 537.29 141.45 537.75 141.42 C538.22 141.38 538.66 141.66 539.03 141.61 C539.40 141.56 539.84 141.21 540.00 141.13" fill="none" stroke="#9ccdf0" stroke-width="1.00" stroke-linejoin="round" stroke-linecap="round"/>
<path d="M434.90 140.55 C435.07 140.69 435.51 141.21 435.91 141.35 C436.31 141.50 436.79 141.47 437.29 141.45 C437.80 141.43 438.36 141.28 438.94 141.24 C439.51 141.19 440.13 141.20 440.74 141.20 C441.35 141.19 441.98 141.18 442.59 141.21 C443.19 141.24 443.81 141.27 444.37 141.37 C444.94 141.47 445.43 141.77 446.00 141.81 C446.57 141.85 447.18 141.72 447.77 141.63 C448.35 141.55 448.94 141.34 449.53 141.30 C450.11 141.27 450.69 141.40 451.26 141.42 C451.82 141.44 452.39 141.41 452.93 141.41 C453.47 141.40 454.01 141.35 454.52 141.40 C455.03 141.46 455.42 141.81 456.00 141.74 C456.58 141.67 457.36 141.18 457.99 140.96 C458.62 140.75 459.20 140.51 459.77 140.45 C460.34 140.40 460.87 140.68 461.41 140.64 C461.95 140.60 462.39 140.28 463.00 140.20 C463.61 140.12 464.42 140.26 465.10 140.16 C465.78 140.06 466.46 139.77 467.06 139.61 C467.66 139.44 468.15 139.38 468.70 139.17 C469.25 138.97 469.85 138.50 470.33 138.39 C470.81 138.27 471.16 138.11 471.60 138.49 C472.04 138.86 472.53 139.60 473.00 140.65 C473.47 141.70 473.94 143.54 474.40 144.79 C474.86 146.04 475.28 147.28 475.76 148.14 C476.25 148.99 476.74 149.91 477.30 149.93 C477.86 149.96 478.43 149.16 479.13 148.28 C479.83 147.40 480.84 145.66 481.50 144.63 C482.16 143.59 482.51 142.91 483.07 142.06 C483.64 141.22 484.26 140.56 484.87 139.54 C485.49 138.53 486.15 136.92 486.79 135.97 C487.43 135.01 488.12 134.42 488.70 133.80 C489.28 133.18 489.72 132.99 490.24 132.25 C490.77 131.51 491.31 130.15 491.84 129.35 C492.38 128.56 492.92 128.07 493.45 127.49 C493.98 126.91 494.51 126.28 495.02 125.88 C495.53 125.48 495.97 125.10 496.50 125.06 C497.03 125.02 497.66 125.21 498.21 125.63 C498.77 126.05 499.30 127.00 499.83 127.59 C500.36 128.18 500.87 128.68 501.38 129.18 C501.89 129.67 502.34 129.84 502.90 130.55 C503.46 131.25 504.14 132.60 504.74 133.39 C505.35 134.18 505.87 134.59 506.51 135.29 C507.15 136.00 508.00 137.07 508.60 137.62 C509.20 138.17 509.60 138.47 510.14 138.61 C510.68 138.75 511.25 138.31 511.84 138.45 C512.42 138.59 513.03 139.13 513.63 139.45 C514.23 139.77 514.84 140.12 515.44 140.36 C516.04 140.59 516.61 140.54 517.20 140.85 C517.79 141.16 518.36 141.87 518.95 142.23 C519.54 142.59 520.15 142.69 520.74 143.00 C521.33 143.31 521.93 143.63 522.51 144.09 C523.08 144.55 523.65 145.44 524.18 145.75 C524.71 146.06 525.11 146.03 525.70 145.95 C526.29 145.86 527.09 145.61 527.70 145.24 C528.31 144.88 528.77 144.27 529.39 143.74 C530.01 143.21 530.79 142.31 531.40 142.07 C532.01 141.83 532.46 142.27 533.07 142.31 C533.68 142.35 534.38 142.30 535.04 142.30 C535.71 142.31 536.42 142.35 537.04 142.34 C537.66 142.33 538.29 142.27 538.78 142.25 C539.28 142.23 539.80 142.21 540.00 142.21" fill="none" stroke="#ff1010" stroke-width="2.30" stroke-linejoin="round" stroke-linecap="round"/>
<path d="M434.90 141.17 C435.07 141.20 435.51 141.45 435.91 141.36 C436.31 141.28 436.79 140.72 437.29 140.66 C437.80 140.60 438.36 140.81 438.94 141.00 C439.51 141.19 440.13 141.78 440.74 141.81 C441.35 141.84 441.98 141.24 442.59 141.20 C443.19 141.16 443.81 141.51 444.37 141.56 C444.94 141.61 445.43 141.61 446.00 141.51 C446.57 141.41 447.18 140.90 447.77 140.96 C448.35 141.03 448.94 141.79 449.53 141.91 C450.11 142.02 450.69 141.79 451.26 141.64 C451.82 141.50 452.39 141.08 452.93 141.05 C453.47 141.02 454.01 141.45 454.52 141.46 C455.03 141.46 455.42 141.10 456.00 141.06 C456.58 141.03 457.36 141.11 457.99 141.26 C458.62 141.41 459.20 141.94 459.77 141.95 C460.34 141.96 460.87 141.40 461.41 141.31 C461.95 141.22 462.39 141.30 463.00 141.42 C463.61 141.55 464.41 141.95 465.07 142.06 C465.74 142.17 466.40 141.93 467.00 142.07 C467.61 142.20 468.10 143.08 468.70 142.87 C469.30 142.66 469.99 141.46 470.59 140.80 C471.19 140.15 471.70 138.65 472.30 138.92 C472.90 139.19 473.52 141.49 474.22 142.43 C474.92 143.37 475.88 144.32 476.50 144.56 C477.12 144.80 477.42 144.15 477.92 143.85 C478.41 143.55 478.94 143.39 479.48 142.75 C480.03 142.10 480.59 140.65 481.18 139.96 C481.77 139.28 482.43 138.96 483.00 138.64 C483.57 138.32 484.04 138.45 484.59 138.03 C485.15 137.61 485.74 136.59 486.32 136.15 C486.91 135.70 487.52 135.73 488.10 135.37 C488.69 135.01 489.29 134.46 489.86 133.99 C490.42 133.51 490.91 132.74 491.50 132.51 C492.09 132.27 492.77 132.75 493.37 132.58 C493.98 132.41 494.55 131.82 495.13 131.50 C495.71 131.18 496.27 130.71 496.85 130.67 C497.43 130.63 498.01 131.11 498.60 131.25 C499.19 131.39 499.80 131.13 500.40 131.51 C501.00 131.89 501.60 132.81 502.20 133.54 C502.80 134.26 503.40 135.38 504.00 135.86 C504.60 136.34 505.20 136.12 505.80 136.40 C506.40 136.68 506.99 137.23 507.58 137.56 C508.17 137.88 508.77 138.15 509.36 138.33 C509.95 138.52 510.54 138.39 511.13 138.67 C511.72 138.94 512.30 139.74 512.90 139.98 C513.50 140.21 514.10 140.06 514.71 140.10 C515.31 140.14 515.93 140.04 516.54 140.22 C517.14 140.40 517.75 140.94 518.32 141.16 C518.90 141.38 519.39 141.27 520.00 141.53 C520.61 141.80 521.36 142.44 522.00 142.75 C522.65 143.06 523.24 143.26 523.85 143.39 C524.47 143.52 525.09 143.52 525.70 143.52 C526.31 143.52 526.90 143.58 527.49 143.39 C528.09 143.19 528.63 142.57 529.29 142.34 C529.94 142.11 530.77 142.16 531.40 142.00 C532.03 141.84 532.46 141.62 533.07 141.38 C533.68 141.15 534.38 140.58 535.04 140.59 C535.71 140.60 536.42 141.36 537.04 141.44 C537.66 141.51 538.29 141.13 538.78 141.04 C539.28 140.96 539.80 140.93 540.00 140.90" fill="none" stroke="#050505" stroke-width="2.30" stroke-linejoin="round" stroke-linecap="round"/>
<path d="M434.90 141.34 C435.07 141.30 435.51 141.13 435.91 141.09 C436.31 141.05 436.79 141.06 437.29 141.12 C437.80 141.18 438.36 141.42 438.94 141.44 C439.51 141.45 440.13 141.27 440.74 141.21 C441.35 141.15 441.98 140.97 442.59 141.05 C443.19 141.13 443.81 141.61 444.37 141.71 C444.94 141.81 445.43 141.70 446.00 141.66 C446.57 141.62 447.18 141.49 447.77 141.47 C448.35 141.46 448.94 141.62 449.53 141.57 C450.11 141.51 450.69 141.17 451.26 141.15 C451.82 141.13 452.39 141.32 452.93 141.45 C453.47 141.58 454.01 141.97 454.52 141.91 C455.03 141.85 455.42 141.23 456.00 141.08 C456.58 140.94 457.36 141.10 457.99 141.03 C458.62 140.97 459.20 140.88 459.77 140.71 C460.34 140.54 460.87 140.02 461.41 140.02 C461.95 140.01 462.39 140.63 463.00 140.67 C463.61 140.72 464.42 140.40 465.10 140.28 C465.78 140.16 466.46 139.97 467.06 139.96 C467.66 139.95 468.15 140.32 468.70 140.22 C469.25 140.13 469.85 139.51 470.33 139.38 C470.81 139.25 471.16 138.97 471.60 139.47 C472.04 139.96 472.53 141.51 473.00 142.34 C473.47 143.18 473.96 143.79 474.40 144.47 C474.84 145.14 475.19 145.92 475.67 146.38 C476.15 146.84 476.75 147.31 477.30 147.23 C477.85 147.14 478.34 146.62 478.94 145.88 C479.54 145.15 480.22 143.73 480.89 142.82 C481.57 141.91 482.37 141.18 483.00 140.43 C483.63 139.67 484.08 138.93 484.64 138.29 C485.21 137.64 485.78 137.03 486.38 136.56 C486.97 136.10 487.57 135.83 488.19 135.49 C488.81 135.16 489.51 134.72 490.10 134.56 C490.69 134.40 491.17 134.56 491.73 134.53 C492.29 134.50 492.88 134.35 493.46 134.36 C494.04 134.36 494.64 134.38 495.23 134.57 C495.81 134.77 496.40 135.29 496.96 135.54 C497.52 135.80 498.01 135.93 498.60 136.11 C499.19 136.29 499.88 136.44 500.49 136.64 C501.11 136.84 501.70 137.14 502.29 137.32 C502.88 137.49 503.45 137.45 504.04 137.71 C504.62 137.98 505.21 138.56 505.80 138.89 C506.39 139.21 506.99 139.49 507.58 139.65 C508.17 139.82 508.77 139.73 509.36 139.88 C509.95 140.02 510.54 140.41 511.13 140.53 C511.72 140.65 512.30 140.49 512.90 140.60 C513.50 140.71 514.10 140.93 514.71 141.19 C515.31 141.45 515.93 142.06 516.54 142.17 C517.14 142.27 517.75 141.80 518.32 141.82 C518.90 141.84 519.39 142.06 520.00 142.31 C520.61 142.56 521.36 143.07 522.00 143.32 C522.65 143.57 523.24 143.54 523.85 143.83 C524.47 144.11 525.09 145.02 525.70 145.01 C526.31 145.00 526.90 144.33 527.49 143.76 C528.09 143.20 528.63 142.07 529.29 141.62 C529.94 141.16 530.77 141.25 531.40 141.05 C532.03 140.85 532.46 140.54 533.07 140.41 C533.68 140.28 534.38 140.37 535.04 140.28 C535.71 140.18 536.42 140.00 537.04 139.84 C537.66 139.68 538.29 139.40 538.78 139.32 C539.28 139.24 539.80 139.36 540.00 139.36" fill="none" stroke="#00f500" stroke-width="2.30" stroke-linejoin="round" stroke-linecap="round"/>
</g>
<line x1="455.53" y1="107.4" x2="455.53" y2="157.3" stroke="#1a1a1a" stroke-width="1" stroke-dasharray="2.6 2.2"/>
<rect x="434.9" y="108.3" width="103.4" height="49.0" fill="none" stroke="#a6a6a6" stroke-width="1"/>
<line x1="455.5" y1="157.3" x2="455.5" y2="156.1" stroke="#555" stroke-width="0.8"/>
<line x1="455.5" y1="108.3" x2="455.5" y2="109.5" stroke="#555" stroke-width="0.8"/>
<line x1="476.2" y1="157.3" x2="476.2" y2="156.1" stroke="#555" stroke-width="0.8"/>
<line x1="476.2" y1="108.3" x2="476.2" y2="109.5" stroke="#555" stroke-width="0.8"/>
<line x1="496.9" y1="157.3" x2="496.9" y2="156.1" stroke="#555" stroke-width="0.8"/>
<line x1="496.9" y1="108.3" x2="496.9" y2="109.5" stroke="#555" stroke-width="0.8"/>
<line x1="517.6" y1="157.3" x2="517.6" y2="156.1" stroke="#555" stroke-width="0.8"/>
<line x1="517.6" y1="108.3" x2="517.6" y2="109.5" stroke="#555" stroke-width="0.8"/>
<line x1="434.9" y1="141.0" x2="436.1" y2="141.0" stroke="#555" stroke-width="0.8"/>
<line x1="538.2" y1="141.0" x2="537.0" y2="141.0" stroke="#555" stroke-width="0.8"/>
<line x1="434.9" y1="124.6" x2="436.1" y2="124.6" stroke="#555" stroke-width="0.8"/>
<line x1="538.2" y1="124.6" x2="537.0" y2="124.6" stroke="#555" stroke-width="0.8"/>
<g clip-path="url(#cp13)">
<path d="M471.60 136.30 L474.80 130.22 L471.60 131.34 L468.40 130.22 Z" fill="#1a70c8"/>
<path d="M496.50 123.50 L499.70 117.42 L496.50 118.54 L493.30 117.42 Z" fill="#ff1515"/>
<path d="M477.30 152.00 L480.50 158.08 L477.30 156.96 L474.10 158.08 Z" fill="#6d9e30"/>
<path d="M525.70 148.10 L528.90 154.18 L525.70 153.06 L522.50 154.18 Z" fill="#000"/>
</g>
<text class="s" transform="translate(434.85 165.68) scale(0.920 1.160)" font-size="6.10" text-anchor="middle" fill="#3a3a3a">-0.2</text>
<text class="s" transform="translate(455.53 165.68) scale(0.920 1.160)" font-size="6.10" text-anchor="middle" fill="#3a3a3a">0</text>
<text class="s" transform="translate(476.21 165.68) scale(0.920 1.160)" font-size="6.10" text-anchor="middle" fill="#3a3a3a">0.2</text>
<text class="s" transform="translate(496.89 165.68) scale(0.920 1.160)" font-size="6.10" text-anchor="middle" fill="#3a3a3a">0.4</text>
<text class="s" transform="translate(517.57 165.68) scale(0.920 1.160)" font-size="6.10" text-anchor="middle" fill="#3a3a3a">0.6</text>
<text class="s" transform="translate(538.25 165.68) scale(0.920 1.160)" font-size="6.10" text-anchor="middle" fill="#3a3a3a">0.8</text>
<text class="s" transform="translate(433.05 160.18) scale(0.920 1.160)" font-size="6.10" text-anchor="end" fill="#3a3a3a">-10</text>
<text class="s" transform="translate(433.05 143.86) scale(0.920 1.160)" font-size="6.10" text-anchor="end" fill="#3a3a3a">0</text>
<text class="s" transform="translate(433.05 127.55) scale(0.920 1.160)" font-size="6.10" text-anchor="end" fill="#3a3a3a">10</text>
<text class="s" transform="translate(433.05 111.23) scale(0.920 1.160)" font-size="6.10" text-anchor="end" fill="#3a3a3a">20</text>
<text class="s lab" transform="translate(487.35 175.13) scale(1.000 1.100)" font-size="8.00" text-anchor="middle" fill="#262626">Time/(s)</text>
<text class="s lab" transform="translate(422.45 133.31) rotate(-90) scale(1.000 1.100)" font-size="8.00" text-anchor="middle" fill="#262626">Amplitude/(uv)</text>
<text class="r" transform="translate(76.74 193.90) scale(1.000 1.060)" font-size="13.60" text-anchor="middle" fill="#111">C3</text>
<clipPath id="cp20"><rect x="26.5" y="196.5" width="103.4" height="49.0"/></clipPath>
<g clip-path="url(#cp20)">
<path d="M26.50 229.09 C26.68 229.21 27.14 229.76 27.55 229.85 C27.97 229.93 28.47 229.69 28.99 229.61 C29.52 229.54 30.11 229.39 30.70 229.39 C31.30 229.38 31.94 229.60 32.57 229.59 C33.20 229.59 33.86 229.28 34.49 229.36 C35.12 229.43 35.75 229.88 36.34 230.02 C36.92 230.15 37.44 230.27 38.00 230.18 C38.56 230.09 39.16 229.54 39.72 229.45 C40.28 229.36 40.81 229.61 41.34 229.63 C41.88 229.66 42.40 229.61 42.92 229.60 C43.45 229.59 43.98 229.55 44.52 229.57 C45.07 229.58 45.61 229.67 46.19 229.70 C46.77 229.74 47.45 229.81 48.00 229.76 C48.55 229.71 48.97 229.44 49.49 229.41 C50.00 229.38 50.54 229.41 51.08 229.59 C51.62 229.77 52.19 230.37 52.74 230.49 C53.30 230.60 53.88 230.21 54.44 230.26 C55.00 230.32 55.57 230.69 56.12 230.82 C56.67 230.95 57.22 231.12 57.75 231.04 C58.28 230.97 58.80 230.35 59.29 230.37 C59.78 230.38 60.12 230.97 60.70 231.13 C61.28 231.30 62.10 231.42 62.75 231.35 C63.41 231.29 64.04 230.79 64.65 230.74 C65.25 230.69 65.83 231.16 66.37 231.07 C66.92 230.98 67.44 230.37 67.93 230.21 C68.41 230.04 68.67 229.97 69.30 230.07 C69.93 230.17 71.01 230.79 71.71 230.82 C72.41 230.86 72.92 230.11 73.50 230.28 C74.08 230.44 74.56 231.43 75.16 231.82 C75.76 232.21 76.55 232.77 77.10 232.59 C77.65 232.42 77.97 231.27 78.45 230.77 C78.93 230.26 79.45 230.09 79.99 229.55 C80.53 229.01 81.09 228.26 81.68 227.51 C82.27 226.77 82.93 225.60 83.50 225.08 C84.07 224.57 84.54 224.72 85.10 224.42 C85.66 224.12 86.26 223.60 86.85 223.29 C87.45 222.98 88.06 222.65 88.66 222.55 C89.26 222.45 89.87 222.84 90.44 222.70 C91.01 222.56 91.50 221.92 92.10 221.71 C92.70 221.51 93.39 221.39 94.01 221.49 C94.64 221.59 95.24 222.18 95.83 222.34 C96.42 222.49 97.00 222.21 97.56 222.41 C98.12 222.60 98.60 223.22 99.20 223.51 C99.80 223.79 100.53 224.05 101.15 224.12 C101.78 224.20 102.32 223.73 102.95 223.97 C103.57 224.22 104.35 225.19 104.90 225.57 C105.45 225.95 105.83 226.01 106.27 226.26 C106.72 226.51 107.05 226.77 107.56 227.06 C108.06 227.36 108.54 227.92 109.29 228.04 C110.03 228.16 111.35 227.84 112.00 227.81 C112.65 227.78 112.74 227.78 113.17 227.88 C113.60 227.97 114.07 228.29 114.57 228.37 C115.06 228.45 115.60 228.38 116.14 228.33 C116.69 228.29 117.27 228.15 117.86 228.09 C118.44 228.02 119.05 228.07 119.66 227.95 C120.27 227.84 120.90 227.44 121.51 227.39 C122.13 227.34 122.76 227.60 123.37 227.65 C123.98 227.71 124.59 227.81 125.18 227.73 C125.77 227.65 126.35 227.28 126.90 227.18 C127.45 227.08 127.99 227.17 128.49 227.13 C128.99 227.09 129.46 227.05 129.90 226.96 C130.33 226.86 130.73 226.64 131.08 226.58 C131.43 226.52 131.85 226.59 132.00 226.59" fill="none" stroke="#9ccdf0" stroke-width="1.00" stroke-linejoin="round" stroke-linecap="round"/>
<path d="M26.50 229.74 C26.68 229.68 27.14 229.45 27.55 229.33 C27.97 229.22 28.47 229.02 28.99 229.03 C29.52 229.04 30.11 229.22 30.70 229.38 C31.30 229.53 31.94 229.91 32.57 229.97 C33.20 230.02 33.86 229.75 34.49 229.72 C35.12 229.69 35.75 229.81 36.34 229.79 C36.92 229.76 37.42 229.58 38.00 229.56 C38.58 229.55 39.20 229.61 39.79 229.69 C40.38 229.78 40.97 230.08 41.56 230.09 C42.14 230.11 42.72 229.89 43.28 229.80 C43.85 229.71 44.40 229.58 44.94 229.56 C45.48 229.53 46.02 229.68 46.52 229.64 C47.03 229.60 47.42 229.32 48.00 229.31 C48.58 229.31 49.36 229.53 49.99 229.63 C50.62 229.73 51.20 229.96 51.77 229.90 C52.34 229.83 52.87 229.32 53.41 229.24 C53.95 229.16 54.39 229.28 55.00 229.43 C55.61 229.58 56.42 229.87 57.10 230.14 C57.78 230.42 58.46 230.84 59.06 231.05 C59.66 231.27 60.15 231.68 60.70 231.43 C61.25 231.17 61.85 230.28 62.33 229.53 C62.81 228.78 63.17 227.54 63.60 226.95 C64.03 226.37 64.45 226.41 64.91 226.02 C65.38 225.64 65.79 224.92 66.40 224.63 C67.01 224.33 67.83 224.18 68.55 224.26 C69.27 224.34 70.10 224.89 70.70 225.11 C71.30 225.33 71.68 225.09 72.14 225.56 C72.61 226.03 72.98 226.71 73.50 227.92 C74.02 229.13 74.65 231.61 75.25 232.83 C75.85 234.05 76.50 235.24 77.10 235.23 C77.70 235.21 78.26 234.13 78.86 232.74 C79.46 231.35 80.07 229.17 80.70 226.88 C81.33 224.59 81.97 221.37 82.67 219.03 C83.37 216.68 84.23 214.51 84.90 212.80 C85.57 211.09 86.06 210.00 86.69 208.76 C87.31 207.53 87.98 206.22 88.64 205.39 C89.29 204.55 89.95 203.78 90.60 203.76 C91.25 203.73 91.88 204.32 92.53 205.25 C93.17 206.18 93.83 208.17 94.47 209.34 C95.12 210.52 95.77 211.14 96.40 212.30 C97.03 213.45 97.64 214.93 98.26 216.29 C98.87 217.65 99.46 219.25 100.10 220.46 C100.74 221.67 101.49 222.58 102.10 223.55 C102.71 224.52 103.18 225.63 103.74 226.29 C104.31 226.95 104.88 227.21 105.47 227.51 C106.07 227.82 106.67 227.75 107.29 228.12 C107.91 228.48 108.61 229.36 109.20 229.70 C109.79 230.04 110.28 229.94 110.86 230.14 C111.43 230.33 112.04 230.62 112.63 230.87 C113.23 231.12 113.85 231.58 114.43 231.62 C115.02 231.66 115.61 231.12 116.16 231.12 C116.70 231.12 117.09 231.40 117.70 231.60 C118.31 231.81 119.16 232.20 119.81 232.34 C120.46 232.47 121.00 232.33 121.60 232.40 C122.20 232.47 122.77 232.80 123.40 232.76 C124.03 232.72 124.74 232.22 125.40 232.15 C126.07 232.08 126.79 232.32 127.41 232.34 C128.02 232.36 128.52 232.28 129.10 232.28 C129.68 232.28 130.42 232.32 130.91 232.36 C131.39 232.40 131.82 232.50 132.00 232.52" fill="none" stroke="#ff1010" stroke-width="2.30" stroke-linejoin="round" stroke-linecap="round"/>
<path d="M26.50 229.50 C26.68 229.44 27.14 229.07 27.55 229.10 C27.97 229.13 28.47 229.58 28.99 229.69 C29.52 229.80 30.11 229.87 30.70 229.77 C31.30 229.68 31.94 229.10 32.57 229.10 C33.20 229.11 33.86 229.67 34.49 229.81 C35.12 229.94 35.75 229.92 36.34 229.90 C36.92 229.88 37.42 229.64 38.00 229.69 C38.58 229.75 39.20 230.29 39.79 230.23 C40.38 230.18 40.97 229.53 41.56 229.38 C42.14 229.23 42.72 229.23 43.28 229.34 C43.85 229.45 44.40 230.03 44.94 230.06 C45.48 230.10 46.02 229.62 46.52 229.55 C47.03 229.49 47.42 229.63 48.00 229.68 C48.58 229.72 49.36 229.86 49.99 229.81 C50.62 229.77 51.20 229.34 51.77 229.43 C52.34 229.51 52.87 230.11 53.41 230.32 C53.95 230.54 54.39 230.68 55.00 230.71 C55.61 230.74 56.41 230.41 57.07 230.50 C57.74 230.59 58.40 231.19 59.00 231.24 C59.61 231.29 60.10 231.01 60.70 230.81 C61.30 230.61 61.99 230.13 62.59 230.03 C63.19 229.94 63.68 230.09 64.30 230.24 C64.92 230.39 65.61 230.58 66.31 230.93 C67.01 231.28 67.87 232.15 68.50 232.32 C69.13 232.48 69.54 232.27 70.08 231.91 C70.62 231.55 71.18 230.59 71.75 230.15 C72.32 229.71 72.90 229.70 73.50 229.28 C74.10 228.87 74.72 228.26 75.35 227.67 C75.98 227.08 76.63 226.23 77.27 225.74 C77.92 225.25 78.56 225.15 79.20 224.72 C79.84 224.30 80.47 223.63 81.10 223.18 C81.73 222.73 82.37 222.52 83.00 222.02 C83.63 221.51 84.28 220.63 84.90 220.15 C85.52 219.68 86.13 219.32 86.74 219.16 C87.36 219.01 87.95 219.28 88.59 219.22 C89.23 219.17 89.98 218.69 90.60 218.82 C91.22 218.96 91.71 219.64 92.30 220.04 C92.88 220.43 93.50 220.88 94.11 221.20 C94.72 221.52 95.36 221.45 95.97 221.95 C96.59 222.46 97.20 223.66 97.80 224.22 C98.40 224.78 98.99 225.01 99.58 225.31 C100.17 225.60 100.77 225.65 101.36 226.02 C101.95 226.38 102.54 227.19 103.13 227.49 C103.72 227.79 104.31 227.61 104.90 227.84 C105.49 228.06 106.08 228.46 106.67 228.83 C107.26 229.19 107.85 229.86 108.44 230.01 C109.03 230.17 109.63 229.73 110.22 229.78 C110.81 229.82 111.40 230.12 112.00 230.30 C112.60 230.47 113.21 230.68 113.83 230.83 C114.44 230.98 115.08 230.99 115.69 231.19 C116.30 231.39 116.92 231.92 117.50 232.03 C118.09 232.14 118.59 231.96 119.20 231.86 C119.81 231.76 120.53 231.57 121.16 231.43 C121.78 231.28 122.33 231.16 122.95 230.98 C123.58 230.80 124.27 230.47 124.90 230.34 C125.53 230.21 126.09 230.51 126.74 230.21 C127.39 229.91 128.15 228.94 128.81 228.54 C129.46 228.13 130.16 227.96 130.69 227.80 C131.22 227.65 131.78 227.65 132.00 227.62" fill="none" stroke="#050505" stroke-width="2.30" stroke-linejoin="round" stroke-linecap="round"/>
<path d="M26.50 229.01 C26.68 229.00 27.14 228.87 27.55 228.96 C27.97 229.04 28.47 229.44 28.99 229.52 C29.52 229.61 30.11 229.47 30.70 229.47 C31.30 229.48 31.94 229.44 32.57 229.55 C33.20 229.65 33.86 230.12 34.49 230.10 C35.12 230.09 35.75 229.55 36.34 229.46 C36.92 229.37 37.42 229.45 38.00 229.54 C38.58 229.63 39.20 229.98 39.79 230.01 C40.38 230.05 40.97 229.75 41.56 229.73 C42.14 229.71 42.72 229.91 43.28 229.90 C43.85 229.89 44.40 229.82 44.94 229.66 C45.48 229.51 46.02 228.98 46.52 229.00 C47.03 229.02 47.42 229.63 48.00 229.79 C48.58 229.95 49.36 229.95 49.99 229.95 C50.62 229.94 51.20 229.68 51.77 229.77 C52.34 229.85 52.87 230.41 53.41 230.45 C53.95 230.50 54.39 229.97 55.00 230.03 C55.61 230.09 56.39 230.44 57.05 230.79 C57.71 231.14 58.34 231.97 58.95 232.13 C59.56 232.28 60.04 232.10 60.70 231.74 C61.36 231.38 62.22 230.64 62.94 229.97 C63.65 229.29 64.30 227.80 65.00 227.70 C65.70 227.59 66.44 228.84 67.16 229.33 C67.87 229.83 68.59 230.41 69.30 230.68 C70.01 230.94 70.74 230.79 71.44 230.95 C72.14 231.10 72.85 231.25 73.50 231.61 C74.15 231.97 74.74 232.66 75.34 233.12 C75.94 233.59 76.53 234.66 77.10 234.39 C77.67 234.12 78.17 232.57 78.77 231.50 C79.37 230.43 80.08 228.81 80.70 227.97 C81.32 227.14 81.86 227.10 82.50 226.49 C83.14 225.88 83.88 224.79 84.53 224.30 C85.18 223.82 85.75 223.99 86.40 223.57 C87.05 223.15 87.71 222.25 88.41 221.79 C89.11 221.32 89.97 220.79 90.60 220.78 C91.23 220.76 91.62 221.39 92.19 221.70 C92.76 222.01 93.39 222.28 94.02 222.64 C94.64 223.00 95.31 223.55 95.94 223.89 C96.57 224.22 97.19 224.39 97.80 224.63 C98.41 224.87 98.99 224.96 99.58 225.32 C100.17 225.68 100.77 226.42 101.36 226.80 C101.95 227.19 102.54 227.37 103.13 227.63 C103.72 227.89 104.31 228.20 104.90 228.35 C105.49 228.51 106.08 228.62 106.67 228.56 C107.26 228.50 107.85 228.03 108.44 228.01 C109.03 227.98 109.63 228.33 110.22 228.41 C110.81 228.49 111.40 228.55 112.00 228.47 C112.60 228.39 113.21 228.00 113.83 227.94 C114.44 227.87 115.08 228.19 115.69 228.09 C116.30 227.98 116.92 227.43 117.50 227.30 C118.09 227.16 118.59 227.14 119.20 227.28 C119.81 227.41 120.53 228.11 121.16 228.13 C121.78 228.14 122.33 227.50 122.95 227.37 C123.58 227.25 124.27 227.37 124.90 227.36 C125.53 227.35 126.09 227.43 126.74 227.31 C127.39 227.19 128.15 226.73 128.81 226.64 C129.46 226.54 130.16 226.80 130.69 226.75 C131.22 226.69 131.78 226.39 132.00 226.32" fill="none" stroke="#00f500" stroke-width="2.30" stroke-linejoin="round" stroke-linecap="round"/>
</g>
<line x1="47.22" y1="195.6" x2="47.22" y2="245.4" stroke="#1a1a1a" stroke-width="1" stroke-dasharray="2.6 2.2"/>
<rect x="26.5" y="196.5" width="103.4" height="49.0" fill="none" stroke="#a6a6a6" stroke-width="1"/>
<line x1="47.2" y1="245.4" x2="47.2" y2="244.2" stroke="#555" stroke-width="0.8"/>
<line x1="47.2" y1="196.5" x2="47.2" y2="197.7" stroke="#555" stroke-width="0.8"/>
<line x1="67.9" y1="245.4" x2="67.9" y2="244.2" stroke="#555" stroke-width="0.8"/>
<line x1="67.9" y1="196.5" x2="67.9" y2="197.7" stroke="#555" stroke-width="0.8"/>
<line x1="88.6" y1="245.4" x2="88.6" y2="244.2" stroke="#555" stroke-width="0.8"/>
<line x1="88.6" y1="196.5" x2="88.6" y2="197.7" stroke="#555" stroke-width="0.8"/>
<line x1="109.3" y1="245.4" x2="109.3" y2="244.2" stroke="#555" stroke-width="0.8"/>
<line x1="109.3" y1="196.5" x2="109.3" y2="197.7" stroke="#555" stroke-width="0.8"/>
<line x1="26.5" y1="229.1" x2="27.7" y2="229.1" stroke="#555" stroke-width="0.8"/>
<line x1="129.9" y1="229.1" x2="128.7" y2="229.1" stroke="#555" stroke-width="0.8"/>
<line x1="26.5" y1="212.8" x2="27.7" y2="212.8" stroke="#555" stroke-width="0.8"/>
<line x1="129.9" y1="212.8" x2="128.7" y2="212.8" stroke="#555" stroke-width="0.8"/>
<g clip-path="url(#cp20)">
<path d="M67.80 223.60 L71.00 217.52 L67.80 218.64 L64.60 217.52 Z" fill="#1a70c8"/>
<path d="M90.60 202.20 L93.80 196.12 L90.60 197.24 L87.40 196.12 Z" fill="#ff1515"/>
<path d="M77.10 237.90 L80.30 243.98 L77.10 242.86 L73.90 243.98 Z" fill="#6d9e30"/>
<path d="M122.70 235.70 L125.90 241.78 L122.70 240.66 L119.50 241.78 Z" fill="#000"/>
</g>
<text class="s" transform="translate(26.54 253.85) scale(0.920 1.160)" font-size="6.10" text-anchor="middle" fill="#3a3a3a">-0.2</text>
<text class="s" transform="translate(47.22 253.85) scale(0.920 1.160)" font-size="6.10" text-anchor="middle" fill="#3a3a3a">0</text>
<text class="s" transform="translate(67.90 253.85) scale(0.920 1.160)" font-size="6.10" text-anchor="middle" fill="#3a3a3a">0.2</text>
<text class="s" transform="translate(88.58 253.85) scale(0.920 1.160)" font-size="6.10" text-anchor="middle" fill="#3a3a3a">0.4</text>
<text class="s" transform="translate(109.26 253.85) scale(0.920 1.160)" font-size="6.10" text-anchor="middle" fill="#3a3a3a">0.6</text>
<text class="s" transform="translate(129.94 253.85) scale(0.920 1.160)" font-size="6.10" text-anchor="middle" fill="#3a3a3a">0.8</text>
<text class="s" transform="translate(24.74 248.35) scale(0.920 1.160)" font-size="6.10" text-anchor="end" fill="#3a3a3a">-10</text>
<text class="s" transform="translate(24.74 232.03) scale(0.920 1.160)" font-size="6.10" text-anchor="end" fill="#3a3a3a">0</text>
<text class="s" transform="translate(24.74 215.72) scale(0.920 1.160)" font-size="6.10" text-anchor="end" fill="#3a3a3a">10</text>
<text class="s" transform="translate(24.74 199.40) scale(0.920 1.160)" font-size="6.10" text-anchor="end" fill="#3a3a3a">20</text>
<text class="s lab" transform="translate(79.04 263.30) scale(1.000 1.100)" font-size="8.00" text-anchor="middle" fill="#262626">Time/(s)</text>
<text class="s lab" transform="translate(14.14 221.47) rotate(-90) scale(1.000 1.100)" font-size="8.00" text-anchor="middle" fill="#262626">Amplitude/(uv)</text>
<text class="r" transform="translate(212.90 193.90) scale(1.000 1.060)" font-size="13.60" text-anchor="middle" fill="#111">C4</text>
<clipPath id="cp21"><rect x="162.7" y="196.5" width="103.4" height="49.0"/></clipPath>
<g clip-path="url(#cp21)">
<path d="M162.70 229.23 C162.87 229.24 163.33 229.29 163.73 229.27 C164.14 229.25 164.63 228.96 165.14 229.09 C165.66 229.22 166.24 229.94 166.82 230.03 C167.41 230.12 168.04 229.76 168.66 229.64 C169.27 229.52 169.92 229.26 170.54 229.32 C171.15 229.37 171.78 229.95 172.36 229.99 C172.93 230.02 173.44 229.52 174.00 229.51 C174.56 229.51 175.16 229.85 175.71 229.96 C176.27 230.07 176.80 230.28 177.33 230.17 C177.86 230.06 178.38 229.42 178.91 229.29 C179.44 229.16 179.97 229.34 180.51 229.38 C181.06 229.43 181.61 229.55 182.19 229.58 C182.77 229.61 183.46 229.51 184.00 229.56 C184.54 229.60 184.96 229.77 185.46 229.87 C185.95 229.97 186.47 230.16 186.98 230.17 C187.50 230.17 188.03 229.94 188.56 229.90 C189.09 229.86 189.63 229.74 190.17 229.94 C190.72 230.13 191.26 230.91 191.81 231.06 C192.36 231.20 192.91 230.80 193.45 230.80 C194.00 230.80 194.55 230.95 195.09 231.05 C195.63 231.14 196.16 231.47 196.70 231.38 C197.24 231.29 197.79 230.58 198.35 230.53 C198.92 230.47 199.51 230.92 200.09 231.05 C200.68 231.18 201.28 231.38 201.87 231.28 C202.46 231.19 203.05 230.58 203.62 230.49 C204.20 230.40 204.77 230.81 205.32 230.77 C205.86 230.73 206.40 230.37 206.90 230.26 C207.39 230.14 207.87 230.08 208.31 230.07 C208.74 230.06 208.87 229.86 209.50 230.17 C210.13 230.49 211.38 231.59 212.09 231.95 C212.81 232.31 213.22 232.56 213.80 232.35 C214.38 232.15 214.94 231.55 215.54 230.72 C216.15 229.90 216.79 228.25 217.44 227.40 C218.10 226.55 218.88 226.05 219.50 225.62 C220.12 225.19 220.60 225.23 221.17 224.79 C221.75 224.36 222.35 223.34 222.96 223.03 C223.56 222.73 224.18 223.04 224.79 222.96 C225.39 222.87 226.00 222.68 226.60 222.53 C227.20 222.38 227.80 222.02 228.40 222.07 C229.00 222.11 229.60 222.77 230.20 222.78 C230.80 222.79 231.40 222.25 232.00 222.14 C232.60 222.02 233.19 221.93 233.80 222.08 C234.41 222.22 235.03 222.86 235.65 223.01 C236.27 223.17 236.92 222.90 237.53 223.00 C238.14 223.09 238.76 223.41 239.32 223.58 C239.89 223.76 240.31 223.85 240.90 224.07 C241.49 224.29 242.15 224.43 242.87 224.92 C243.59 225.41 244.59 226.61 245.20 227.01 C245.81 227.41 246.04 227.26 246.50 227.32 C246.97 227.38 247.48 227.27 248.01 227.37 C248.53 227.47 249.10 227.88 249.67 227.92 C250.24 227.97 250.84 227.66 251.45 227.66 C252.05 227.66 252.68 227.79 253.31 227.93 C253.93 228.08 254.63 228.50 255.20 228.54 C255.77 228.59 256.20 228.28 256.75 228.20 C257.30 228.12 257.90 228.10 258.50 228.06 C259.10 228.03 259.74 228.03 260.36 227.98 C260.98 227.93 261.62 227.74 262.23 227.76 C262.83 227.78 263.45 228.10 264.01 228.12 C264.58 228.14 265.14 228.03 265.63 227.88 C266.13 227.72 266.60 227.24 266.99 227.19 C267.39 227.13 267.83 227.50 268.00 227.56" fill="none" stroke="#9ccdf0" stroke-width="1.00" stroke-linejoin="round" stroke-linecap="round"/>
<path d="M162.70 229.59 C162.87 229.54 163.33 229.27 163.73 229.27 C164.14 229.27 164.63 229.55 165.14 229.58 C165.66 229.61 166.24 229.51 166.82 229.46 C167.41 229.40 168.04 229.18 168.66 229.27 C169.27 229.35 169.92 229.87 170.54 229.97 C171.15 230.06 171.78 229.86 172.36 229.84 C172.93 229.81 173.43 229.80 174.00 229.80 C174.57 229.81 175.19 229.92 175.78 229.85 C176.37 229.78 176.96 229.39 177.54 229.38 C178.12 229.38 178.70 229.70 179.27 229.80 C179.83 229.91 180.39 230.06 180.94 230.03 C181.48 230.01 182.01 229.79 182.52 229.67 C183.03 229.55 183.42 229.36 184.00 229.32 C184.58 229.28 185.36 229.45 185.99 229.45 C186.62 229.46 187.20 229.31 187.77 229.35 C188.34 229.39 188.87 229.57 189.41 229.68 C189.95 229.78 190.39 229.93 191.00 229.98 C191.61 230.03 192.42 229.81 193.10 229.99 C193.78 230.17 194.46 230.92 195.06 231.08 C195.66 231.24 196.15 231.30 196.70 230.94 C197.25 230.58 197.85 229.69 198.33 228.93 C198.81 228.17 199.17 226.96 199.60 226.39 C200.03 225.81 200.45 225.85 200.91 225.48 C201.38 225.10 201.79 224.41 202.40 224.12 C203.01 223.82 203.83 223.85 204.55 223.72 C205.27 223.59 206.10 223.14 206.70 223.33 C207.30 223.52 207.68 224.08 208.14 224.86 C208.61 225.63 208.98 227.06 209.50 227.98 C210.02 228.90 210.65 229.69 211.25 230.38 C211.85 231.07 212.50 232.11 213.10 232.13 C213.70 232.14 214.26 231.60 214.86 230.46 C215.46 229.32 216.07 227.07 216.70 225.29 C217.33 223.51 217.97 221.69 218.67 219.76 C219.37 217.84 220.23 215.27 220.90 213.74 C221.57 212.22 222.06 211.53 222.69 210.62 C223.31 209.71 223.98 208.94 224.64 208.28 C225.29 207.61 225.95 206.64 226.60 206.64 C227.25 206.64 227.88 207.60 228.53 208.26 C229.17 208.91 229.83 209.65 230.47 210.57 C231.12 211.50 231.77 212.57 232.40 213.79 C233.03 215.01 233.64 216.74 234.26 217.89 C234.87 219.03 235.46 219.71 236.10 220.68 C236.74 221.66 237.49 222.90 238.10 223.73 C238.71 224.55 239.18 225.12 239.74 225.62 C240.31 226.12 240.88 226.27 241.47 226.72 C242.07 227.18 242.67 228.00 243.29 228.36 C243.91 228.73 244.61 228.81 245.20 228.92 C245.79 229.04 246.28 228.91 246.86 229.05 C247.43 229.20 248.04 229.62 248.63 229.77 C249.23 229.93 249.85 229.89 250.43 229.98 C251.02 230.07 251.61 230.19 252.16 230.32 C252.70 230.44 253.09 230.71 253.70 230.76 C254.31 230.81 255.16 230.49 255.81 230.60 C256.46 230.71 257.00 231.20 257.60 231.41 C258.20 231.62 258.77 231.72 259.40 231.84 C260.03 231.97 260.74 232.11 261.40 232.15 C262.07 232.19 262.79 232.23 263.41 232.08 C264.02 231.92 264.52 231.26 265.10 231.21 C265.68 231.16 266.42 231.70 266.91 231.77 C267.39 231.83 267.82 231.63 268.00 231.60" fill="none" stroke="#ff1010" stroke-width="2.30" stroke-linejoin="round" stroke-linecap="round"/>
<path d="M162.70 228.97 C162.87 228.97 163.33 228.79 163.73 228.92 C164.14 229.05 164.63 229.69 165.14 229.76 C165.66 229.84 166.24 229.37 166.82 229.37 C167.41 229.37 168.04 229.66 168.66 229.77 C169.27 229.87 169.92 230.08 170.54 229.98 C171.15 229.88 171.78 229.15 172.36 229.14 C172.93 229.13 173.43 229.73 174.00 229.90 C174.57 230.06 175.19 230.20 175.78 230.15 C176.37 230.09 176.96 229.58 177.54 229.56 C178.12 229.54 178.70 230.06 179.27 230.04 C179.83 230.02 180.39 229.56 180.94 229.42 C181.48 229.28 182.01 229.10 182.52 229.20 C183.03 229.30 183.42 229.96 184.00 230.01 C184.58 230.07 185.36 229.63 185.99 229.53 C186.62 229.43 187.20 229.38 187.77 229.40 C188.34 229.42 188.87 229.70 189.41 229.65 C189.95 229.61 190.39 229.02 191.00 229.13 C191.61 229.24 192.41 229.98 193.07 230.33 C193.74 230.68 194.40 231.15 195.00 231.21 C195.61 231.27 196.10 230.81 196.70 230.68 C197.30 230.54 197.99 230.58 198.59 230.38 C199.19 230.19 199.68 229.45 200.30 229.51 C200.92 229.56 201.61 230.29 202.31 230.71 C203.01 231.13 203.87 231.96 204.50 232.02 C205.13 232.08 205.54 231.42 206.08 231.07 C206.62 230.73 207.18 230.31 207.75 229.96 C208.32 229.62 208.90 229.43 209.50 229.00 C210.10 228.56 210.72 227.89 211.35 227.36 C211.98 226.83 212.63 226.46 213.27 225.83 C213.92 225.20 214.56 224.13 215.20 223.58 C215.84 223.02 216.47 222.84 217.10 222.49 C217.73 222.14 218.37 221.86 219.00 221.49 C219.63 221.11 220.28 220.49 220.90 220.24 C221.52 220.00 222.13 220.28 222.74 220.01 C223.36 219.74 223.95 218.86 224.59 218.63 C225.23 218.40 225.98 218.37 226.60 218.64 C227.22 218.92 227.71 219.88 228.30 220.28 C228.88 220.68 229.50 220.66 230.11 221.04 C230.72 221.43 231.36 222.11 231.97 222.59 C232.59 223.06 233.20 223.55 233.80 223.90 C234.40 224.24 234.99 224.24 235.58 224.67 C236.17 225.11 236.77 226.01 237.36 226.49 C237.95 226.96 238.54 227.29 239.13 227.54 C239.72 227.80 240.31 227.80 240.90 228.03 C241.49 228.25 242.08 228.69 242.67 228.90 C243.26 229.11 243.85 229.07 244.44 229.26 C245.03 229.45 245.63 229.78 246.22 230.03 C246.81 230.27 247.40 230.63 248.00 230.75 C248.60 230.86 249.21 230.64 249.83 230.72 C250.44 230.79 251.07 231.09 251.69 231.20 C252.30 231.32 252.92 231.29 253.50 231.40 C254.09 231.52 254.59 231.76 255.20 231.89 C255.81 232.02 256.53 232.28 257.16 232.17 C257.78 232.07 258.33 231.42 258.95 231.25 C259.58 231.07 260.27 231.27 260.90 231.14 C261.53 231.00 262.09 230.73 262.74 230.45 C263.39 230.17 264.15 229.67 264.81 229.47 C265.46 229.27 266.16 229.53 266.69 229.27 C267.22 229.02 267.78 228.17 268.00 227.95" fill="none" stroke="#050505" stroke-width="2.30" stroke-linejoin="round" stroke-linecap="round"/>
<path d="M162.70 229.51 C162.87 229.55 163.33 229.71 163.73 229.72 C164.14 229.73 164.63 229.66 165.14 229.56 C165.66 229.46 166.24 229.10 166.82 229.11 C167.41 229.11 168.04 229.49 168.66 229.59 C169.27 229.69 169.92 229.65 170.54 229.72 C171.15 229.79 171.78 229.96 172.36 230.00 C172.93 230.04 173.43 230.06 174.00 229.97 C174.57 229.89 175.19 229.54 175.78 229.49 C176.37 229.44 176.96 229.60 177.54 229.67 C178.12 229.74 178.70 229.87 179.27 229.89 C179.83 229.90 180.39 229.78 180.94 229.75 C181.48 229.73 182.01 229.73 182.52 229.74 C183.03 229.74 183.42 229.88 184.00 229.77 C184.58 229.67 185.36 229.13 185.99 229.10 C186.62 229.08 187.20 229.50 187.77 229.61 C188.34 229.72 188.87 229.79 189.41 229.76 C189.95 229.72 190.39 229.29 191.00 229.40 C191.61 229.51 192.39 230.13 193.05 230.42 C193.71 230.71 194.34 230.88 194.95 231.12 C195.56 231.36 196.04 232.03 196.70 231.85 C197.36 231.68 198.22 230.71 198.94 230.07 C199.65 229.43 200.30 228.18 201.00 228.03 C201.70 227.89 202.44 228.84 203.16 229.20 C203.87 229.57 204.59 229.98 205.30 230.23 C206.01 230.48 206.70 230.73 207.40 230.70 C208.10 230.67 208.78 229.76 209.50 230.07 C210.22 230.37 211.01 231.88 211.73 232.52 C212.45 233.15 213.23 234.01 213.80 233.87 C214.37 233.74 214.68 232.45 215.16 231.72 C215.65 230.99 216.15 230.30 216.70 229.51 C217.25 228.72 217.81 227.73 218.45 226.96 C219.08 226.19 219.85 225.36 220.51 224.89 C221.17 224.42 221.75 224.54 222.40 224.17 C223.05 223.79 223.71 222.88 224.41 222.65 C225.11 222.42 225.97 222.75 226.60 222.79 C227.23 222.83 227.62 222.73 228.19 222.91 C228.76 223.09 229.39 223.46 230.02 223.86 C230.64 224.27 231.31 224.97 231.94 225.33 C232.57 225.69 233.19 225.73 233.80 226.03 C234.41 226.33 234.99 226.95 235.58 227.14 C236.17 227.33 236.77 227.12 237.36 227.17 C237.95 227.22 238.54 227.20 239.13 227.43 C239.72 227.67 240.31 228.44 240.90 228.59 C241.49 228.75 242.08 228.39 242.67 228.35 C243.26 228.32 243.85 228.38 244.44 228.40 C245.03 228.42 245.63 228.60 246.22 228.47 C246.81 228.35 247.40 227.68 248.00 227.64 C248.60 227.60 249.21 228.14 249.83 228.24 C250.44 228.34 251.07 228.40 251.69 228.24 C252.30 228.07 252.92 227.33 253.50 227.24 C254.09 227.14 254.59 227.61 255.20 227.66 C255.81 227.71 256.53 227.50 257.16 227.53 C257.78 227.57 258.33 227.67 258.95 227.87 C259.58 228.07 260.27 228.74 260.90 228.72 C261.53 228.71 262.09 228.02 262.74 227.80 C263.39 227.58 264.15 227.56 264.81 227.41 C265.46 227.27 266.16 227.06 266.69 226.94 C267.22 226.82 267.78 226.73 268.00 226.68" fill="none" stroke="#00f500" stroke-width="2.30" stroke-linejoin="round" stroke-linecap="round"/>
</g>
<line x1="183.38" y1="195.6" x2="183.38" y2="245.4" stroke="#1a1a1a" stroke-width="1" stroke-dasharray="2.6 2.2"/>
<rect x="162.7" y="196.5" width="103.4" height="49.0" fill="none" stroke="#a6a6a6" stroke-width="1"/>
<line x1="183.4" y1="245.4" x2="183.4" y2="244.2" stroke="#555" stroke-width="0.8"/>
<line x1="183.4" y1="196.5" x2="183.4" y2="197.7" stroke="#555" stroke-width="0.8"/>
<line x1="204.1" y1="245.4" x2="204.1" y2="244.2" stroke="#555" stroke-width="0.8"/>
<line x1="204.1" y1="196.5" x2="204.1" y2="197.7" stroke="#555" stroke-width="0.8"/>
<line x1="224.7" y1="245.4" x2="224.7" y2="244.2" stroke="#555" stroke-width="0.8"/>
<line x1="224.7" y1="196.5" x2="224.7" y2="197.7" stroke="#555" stroke-width="0.8"/>
<line x1="245.4" y1="245.4" x2="245.4" y2="244.2" stroke="#555" stroke-width="0.8"/>
<line x1="245.4" y1="196.5" x2="245.4" y2="197.7" stroke="#555" stroke-width="0.8"/>
<line x1="162.7" y1="229.1" x2="163.9" y2="229.1" stroke="#555" stroke-width="0.8"/>
<line x1="266.1" y1="229.1" x2="264.9" y2="229.1" stroke="#555" stroke-width="0.8"/>
<line x1="162.7" y1="212.8" x2="163.9" y2="212.8" stroke="#555" stroke-width="0.8"/>
<line x1="266.1" y1="212.8" x2="264.9" y2="212.8" stroke="#555" stroke-width="0.8"/>
<g clip-path="url(#cp21)">
<path d="M204.50 223.60 L207.70 217.52 L204.50 218.64 L201.30 217.52 Z" fill="#1a70c8"/>
<path d="M226.60 204.30 L229.80 198.22 L226.60 199.34 L223.40 198.22 Z" fill="#ff1515"/>
<path d="M213.80 235.00 L217.00 241.08 L213.80 239.96 L210.60 241.08 Z" fill="#6d9e30"/>
<path d="M260.20 235.00 L263.40 241.08 L260.20 239.96 L257.00 241.08 Z" fill="#000"/>
</g>
<text class="s" transform="translate(162.70 253.85) scale(0.920 1.160)" font-size="6.10" text-anchor="middle" fill="#3a3a3a">-0.2</text>
<text class="s" transform="translate(183.38 253.85) scale(0.920 1.160)" font-size="6.10" text-anchor="middle" fill="#3a3a3a">0</text>
<text class="s" transform="translate(204.06 253.85) scale(0.920 1.160)" font-size="6.10" text-anchor="middle" fill="#3a3a3a">0.2</text>
<text class="s" transform="translate(224.74 253.85) scale(0.920 1.160)" font-size="6.10" text-anchor="middle" fill="#3a3a3a">0.4</text>
<text class="s" transform="translate(245.42 253.85) scale(0.920 1.160)" font-size="6.10" text-anchor="middle" fill="#3a3a3a">0.6</text>
<text class="s" transform="translate(266.10 253.85) scale(0.920 1.160)" font-size="6.10" text-anchor="middle" fill="#3a3a3a">0.8</text>
<text class="s" transform="translate(160.90 248.35) scale(0.920 1.160)" font-size="6.10" text-anchor="end" fill="#3a3a3a">-10</text>
<text class="s" transform="translate(160.90 232.03) scale(0.920 1.160)" font-size="6.10" text-anchor="end" fill="#3a3a3a">0</text>
<text class="s" transform="translate(160.90 215.72) scale(0.920 1.160)" font-size="6.10" text-anchor="end" fill="#3a3a3a">10</text>
<text class="s" transform="translate(160.90 199.40) scale(0.920 1.160)" font-size="6.10" text-anchor="end" fill="#3a3a3a">20</text>
<text class="s lab" transform="translate(215.20 263.30) scale(1.000 1.100)" font-size="8.00" text-anchor="middle" fill="#262626">Time/(s)</text>
<text class="s lab" transform="translate(150.30 221.47) rotate(-90) scale(1.000 1.100)" font-size="8.00" text-anchor="middle" fill="#262626">Amplitude/(uv)</text>
<text class="r" transform="translate(349.05 193.90) scale(1.000 1.060)" font-size="13.60" text-anchor="middle" fill="#111">F3</text>
<clipPath id="cp22"><rect x="298.9" y="196.5" width="103.4" height="49.0"/></clipPath>
<g clip-path="url(#cp22)">
<path d="M298.90 229.17 C299.07 229.15 299.51 229.00 299.91 229.03 C300.31 229.06 300.79 229.25 301.29 229.34 C301.80 229.44 302.36 229.61 302.94 229.60 C303.51 229.59 304.13 229.19 304.74 229.29 C305.35 229.39 305.98 230.12 306.59 230.20 C307.19 230.29 307.81 229.95 308.37 229.80 C308.94 229.64 309.45 229.23 310.00 229.27 C310.55 229.31 311.15 229.98 311.70 230.04 C312.25 230.09 312.78 229.66 313.31 229.60 C313.85 229.54 314.37 229.62 314.90 229.69 C315.43 229.76 315.96 230.12 316.51 230.03 C317.06 229.94 317.61 229.26 318.19 229.16 C318.77 229.06 319.46 229.30 320.00 229.41 C320.54 229.53 320.96 229.76 321.46 229.86 C321.95 229.96 322.47 229.97 322.98 230.02 C323.50 230.08 324.03 230.08 324.56 230.17 C325.09 230.26 325.63 230.51 326.17 230.56 C326.72 230.61 327.26 230.50 327.81 230.47 C328.36 230.44 328.91 230.21 329.45 230.38 C330.00 230.54 330.55 231.30 331.09 231.44 C331.63 231.58 332.16 231.28 332.70 231.20 C333.24 231.12 333.79 230.94 334.35 230.94 C334.92 230.94 335.51 231.34 336.09 231.22 C336.68 231.10 337.28 230.36 337.87 230.24 C338.46 230.13 339.05 230.42 339.62 230.53 C340.20 230.64 340.77 231.00 341.32 230.90 C341.86 230.81 342.40 230.07 342.90 229.96 C343.39 229.86 343.87 230.20 344.31 230.26 C344.74 230.33 344.87 229.88 345.50 230.33 C346.13 230.79 347.38 232.08 348.09 233.01 C348.81 233.94 349.27 235.89 349.80 235.92 C350.33 235.95 350.76 234.37 351.28 233.18 C351.80 231.99 352.21 229.91 352.91 228.77 C353.61 227.62 354.86 226.84 355.50 226.29 C356.14 225.74 356.30 225.57 356.76 225.46 C357.22 225.36 357.73 225.56 358.26 225.67 C358.80 225.77 359.37 226.12 359.95 226.09 C360.53 226.07 361.14 225.57 361.74 225.53 C362.34 225.50 362.96 225.74 363.56 225.89 C364.16 226.03 364.77 226.33 365.35 226.41 C365.93 226.49 366.50 226.28 367.04 226.38 C367.57 226.48 368.08 226.90 368.54 227.02 C369.00 227.14 369.17 227.25 369.80 227.10 C370.43 226.94 371.65 226.22 372.34 226.09 C373.02 225.96 373.39 226.32 373.92 226.34 C374.45 226.36 374.95 226.17 375.50 226.19 C376.05 226.22 376.66 226.33 377.24 226.50 C377.82 226.66 378.32 227.09 378.98 227.17 C379.64 227.25 380.60 226.89 381.20 226.96 C381.80 227.03 382.10 227.36 382.59 227.58 C383.07 227.80 383.58 228.09 384.11 228.26 C384.64 228.42 385.19 228.50 385.76 228.56 C386.32 228.61 386.91 228.57 387.50 228.61 C388.09 228.64 388.70 228.77 389.32 228.76 C389.94 228.75 390.63 228.53 391.20 228.55 C391.77 228.57 392.20 228.80 392.75 228.89 C393.30 228.99 393.90 229.17 394.50 229.12 C395.10 229.08 395.74 228.71 396.36 228.61 C396.98 228.51 397.62 228.61 398.23 228.51 C398.83 228.41 399.45 228.08 400.01 228.01 C400.58 227.94 401.14 228.04 401.63 228.08 C402.13 228.12 402.60 228.17 402.99 228.23 C403.39 228.29 403.83 228.41 404.00 228.45" fill="none" stroke="#9ccdf0" stroke-width="1.00" stroke-linejoin="round" stroke-linecap="round"/>
<path d="M298.90 228.97 C299.07 229.04 299.51 229.25 299.91 229.39 C300.31 229.53 300.79 229.81 301.29 229.81 C301.80 229.81 302.36 229.41 302.94 229.41 C303.51 229.41 304.13 229.79 304.74 229.81 C305.35 229.84 305.98 229.62 306.59 229.54 C307.19 229.46 307.81 229.20 308.37 229.32 C308.94 229.44 309.43 230.16 310.00 230.26 C310.57 230.36 311.18 230.01 311.77 229.90 C312.35 229.79 312.94 229.62 313.53 229.62 C314.11 229.62 314.69 229.97 315.26 229.92 C315.82 229.88 316.39 229.37 316.93 229.34 C317.47 229.30 318.01 229.62 318.52 229.72 C319.03 229.83 319.42 230.03 320.00 229.95 C320.58 229.87 321.36 229.38 321.99 229.22 C322.62 229.07 323.20 229.08 323.77 229.02 C324.34 228.95 324.87 228.85 325.41 228.82 C325.95 228.78 326.39 228.59 327.00 228.81 C327.61 229.03 328.39 229.81 329.05 230.14 C329.71 230.46 330.34 230.68 330.95 230.77 C331.56 230.86 332.04 230.91 332.70 230.68 C333.36 230.45 334.18 230.18 334.89 229.41 C335.61 228.63 336.37 226.97 337.00 226.06 C337.63 225.14 338.10 224.68 338.67 223.93 C339.24 223.19 339.86 222.29 340.42 221.60 C340.97 220.91 341.44 219.55 342.00 219.80 C342.56 220.06 343.21 221.81 343.79 223.15 C344.38 224.48 344.88 226.25 345.50 227.82 C346.12 229.40 346.80 231.36 347.51 232.61 C348.23 233.87 349.12 235.40 349.80 235.34 C350.48 235.27 350.95 233.48 351.57 232.22 C352.19 230.97 352.84 229.43 353.50 227.81 C354.15 226.20 354.90 223.99 355.50 222.52 C356.10 221.04 356.54 220.16 357.08 218.97 C357.62 217.78 358.19 216.59 358.74 215.39 C359.29 214.18 359.86 212.56 360.38 211.71 C360.91 210.86 361.35 210.32 361.90 210.27 C362.45 210.23 363.12 210.81 363.70 211.42 C364.27 212.03 364.80 213.07 365.34 213.93 C365.87 214.79 366.29 215.41 366.90 216.59 C367.51 217.76 368.29 219.56 369.01 220.97 C369.72 222.39 370.53 223.84 371.20 225.09 C371.87 226.34 372.37 227.64 373.00 228.46 C373.62 229.27 374.30 229.49 374.95 229.98 C375.60 230.48 376.26 230.90 376.90 231.43 C377.54 231.96 378.17 232.80 378.80 233.15 C379.43 233.51 380.07 233.38 380.70 233.55 C381.33 233.73 381.97 234.21 382.60 234.18 C383.23 234.15 383.87 233.71 384.50 233.39 C385.13 233.07 385.77 232.54 386.40 232.28 C387.03 232.02 387.65 231.99 388.30 231.85 C388.95 231.71 389.64 231.41 390.30 231.45 C390.97 231.50 391.69 232.10 392.31 232.12 C392.92 232.14 393.49 231.57 394.00 231.59 C394.51 231.62 394.88 231.98 395.36 232.26 C395.85 232.53 396.37 233.14 396.90 233.25 C397.43 233.35 397.92 233.09 398.55 232.89 C399.17 232.68 399.95 232.27 400.63 232.00 C401.31 231.73 402.06 231.58 402.63 231.25 C403.19 230.91 403.77 230.20 404.00 229.99" fill="none" stroke="#ff1010" stroke-width="2.30" stroke-linejoin="round" stroke-linecap="round"/>
<path d="M298.90 229.74 C299.07 229.71 299.51 229.64 299.91 229.56 C300.31 229.48 300.79 229.38 301.29 229.29 C301.80 229.19 302.36 228.89 302.94 229.00 C303.51 229.12 304.13 229.85 304.74 229.98 C305.35 230.10 305.98 229.79 306.59 229.75 C307.19 229.72 307.81 229.73 308.37 229.77 C308.94 229.81 309.43 230.08 310.00 230.01 C310.57 229.93 311.18 229.33 311.77 229.30 C312.35 229.27 312.94 229.69 313.53 229.83 C314.11 229.98 314.69 230.24 315.26 230.17 C315.82 230.11 316.39 229.51 316.93 229.45 C317.47 229.38 318.01 229.78 318.52 229.78 C319.03 229.79 319.42 229.60 320.00 229.49 C320.58 229.38 321.36 229.02 321.99 229.12 C322.62 229.21 323.20 229.98 323.77 230.06 C324.34 230.13 324.87 229.68 325.41 229.56 C325.95 229.44 326.41 229.21 327.00 229.32 C327.59 229.44 328.32 230.09 328.94 230.25 C329.57 230.41 330.12 230.11 330.74 230.29 C331.37 230.46 332.09 231.04 332.70 231.28 C333.31 231.51 333.82 231.77 334.41 231.70 C335.00 231.63 335.64 230.96 336.25 230.87 C336.86 230.79 337.50 231.13 338.09 231.17 C338.68 231.22 339.18 231.21 339.80 231.16 C340.42 231.10 341.16 230.96 341.80 230.85 C342.45 230.74 343.04 230.75 343.65 230.50 C344.27 230.24 344.88 229.59 345.50 229.31 C346.12 229.04 346.77 229.09 347.40 228.84 C348.03 228.60 348.67 228.19 349.30 227.86 C349.93 227.54 350.57 227.29 351.20 226.92 C351.83 226.54 352.47 226.31 353.10 225.62 C353.73 224.94 354.37 223.43 355.00 222.79 C355.63 222.15 356.27 222.12 356.90 221.79 C357.53 221.46 358.16 221.25 358.80 220.83 C359.43 220.41 360.06 219.54 360.69 219.26 C361.33 218.98 361.96 219.12 362.60 219.14 C363.24 219.15 363.88 219.04 364.53 219.37 C365.17 219.70 365.83 220.56 366.47 221.11 C367.12 221.66 367.77 222.19 368.40 222.65 C369.03 223.12 369.64 223.42 370.26 223.92 C370.87 224.43 371.46 225.29 372.10 225.68 C372.74 226.08 373.49 225.96 374.10 226.28 C374.71 226.59 375.20 227.20 375.78 227.58 C376.35 227.95 376.96 228.45 377.56 228.54 C378.17 228.63 378.79 228.05 379.39 228.12 C380.00 228.19 380.60 228.78 381.20 228.97 C381.80 229.16 382.40 229.19 383.01 229.27 C383.61 229.35 384.23 229.21 384.84 229.44 C385.44 229.68 386.05 230.54 386.62 230.69 C387.20 230.84 387.68 230.39 388.30 230.35 C388.92 230.31 389.70 230.29 390.36 230.43 C391.01 230.58 391.65 231.12 392.26 231.22 C392.86 231.32 393.35 231.15 394.00 231.02 C394.65 230.89 395.43 230.85 396.15 230.43 C396.87 230.00 397.61 228.78 398.30 228.46 C398.99 228.14 399.61 228.49 400.31 228.50 C401.00 228.52 401.85 228.62 402.47 228.54 C403.09 228.46 403.75 228.10 404.00 228.01" fill="none" stroke="#050505" stroke-width="2.30" stroke-linejoin="round" stroke-linecap="round"/>
<path d="M298.90 229.45 C299.07 229.40 299.51 229.15 299.91 229.16 C300.31 229.16 300.79 229.37 301.29 229.49 C301.80 229.61 302.36 229.88 302.94 229.87 C303.51 229.86 304.13 229.48 304.74 229.42 C305.35 229.35 305.98 229.40 306.59 229.48 C307.19 229.56 307.81 229.85 308.37 229.90 C308.94 229.95 309.43 229.73 310.00 229.76 C310.57 229.80 311.18 230.08 311.77 230.09 C312.35 230.10 312.94 229.95 313.53 229.81 C314.11 229.68 314.69 229.32 315.26 229.30 C315.82 229.28 316.39 229.62 316.93 229.71 C317.47 229.80 318.01 229.84 318.52 229.84 C319.03 229.83 319.42 229.73 320.00 229.69 C320.58 229.66 321.36 229.70 321.99 229.62 C322.62 229.55 323.20 229.33 323.77 229.25 C324.34 229.17 324.87 229.07 325.41 229.15 C325.95 229.23 326.39 229.52 327.00 229.74 C327.61 229.96 328.39 230.20 329.05 230.48 C329.71 230.76 330.34 231.21 330.95 231.41 C331.56 231.62 332.04 231.93 332.70 231.71 C333.36 231.49 334.22 230.47 334.94 230.10 C335.65 229.72 336.30 229.80 337.00 229.46 C337.70 229.12 338.44 228.33 339.16 228.06 C339.87 227.79 340.59 227.78 341.30 227.84 C342.01 227.89 342.70 227.92 343.40 228.37 C344.10 228.82 344.81 229.47 345.50 230.51 C346.19 231.54 346.84 233.59 347.56 234.59 C348.27 235.59 349.13 236.30 349.80 236.49 C350.47 236.68 350.95 236.25 351.57 235.73 C352.19 235.22 352.84 234.09 353.50 233.39 C354.15 232.68 354.91 232.14 355.50 231.51 C356.09 230.88 356.52 230.29 357.05 229.61 C357.57 228.93 358.11 228.03 358.65 227.43 C359.19 226.83 359.73 226.30 360.28 225.99 C360.82 225.69 361.36 225.69 361.90 225.61 C362.44 225.54 362.97 225.42 363.50 225.55 C364.04 225.67 364.57 226.02 365.11 226.37 C365.64 226.72 366.18 227.43 366.73 227.64 C367.28 227.85 367.83 227.42 368.40 227.62 C368.97 227.82 369.57 228.47 370.17 228.86 C370.77 229.24 371.39 229.76 372.00 229.93 C372.61 230.11 373.23 229.78 373.81 229.89 C374.39 230.00 374.88 230.55 375.50 230.60 C376.12 230.65 376.86 230.30 377.50 230.17 C378.15 230.05 378.74 229.90 379.35 229.87 C379.97 229.83 380.58 230.10 381.20 229.96 C381.82 229.82 382.43 229.30 383.05 229.03 C383.66 228.77 384.25 228.59 384.90 228.34 C385.54 228.09 386.28 227.61 386.90 227.52 C387.52 227.44 388.04 227.69 388.64 227.84 C389.25 227.99 389.91 228.44 390.54 228.43 C391.16 228.42 391.81 227.84 392.39 227.79 C392.97 227.75 393.36 228.10 394.00 228.19 C394.64 228.27 395.52 228.32 396.24 228.30 C396.95 228.27 397.62 228.06 398.30 228.04 C398.98 228.02 399.61 228.35 400.31 228.17 C401.00 227.98 401.85 227.19 402.47 226.93 C403.09 226.68 403.75 226.68 404.00 226.63" fill="none" stroke="#00f500" stroke-width="2.30" stroke-linejoin="round" stroke-linecap="round"/>
</g>
<line x1="319.53" y1="195.6" x2="319.53" y2="245.4" stroke="#1a1a1a" stroke-width="1" stroke-dasharray="2.6 2.2"/>
<rect x="298.9" y="196.5" width="103.4" height="49.0" fill="none" stroke="#a6a6a6" stroke-width="1"/>
<line x1="319.5" y1="245.4" x2="319.5" y2="244.2" stroke="#555" stroke-width="0.8"/>
<line x1="319.5" y1="196.5" x2="319.5" y2="197.7" stroke="#555" stroke-width="0.8"/>
<line x1="340.2" y1="245.4" x2="340.2" y2="244.2" stroke="#555" stroke-width="0.8"/>
<line x1="340.2" y1="196.5" x2="340.2" y2="197.7" stroke="#555" stroke-width="0.8"/>
<line x1="360.9" y1="245.4" x2="360.9" y2="244.2" stroke="#555" stroke-width="0.8"/>
<line x1="360.9" y1="196.5" x2="360.9" y2="197.7" stroke="#555" stroke-width="0.8"/>
<line x1="381.6" y1="245.4" x2="381.6" y2="244.2" stroke="#555" stroke-width="0.8"/>
<line x1="381.6" y1="196.5" x2="381.6" y2="197.7" stroke="#555" stroke-width="0.8"/>
<line x1="298.9" y1="229.1" x2="300.1" y2="229.1" stroke="#555" stroke-width="0.8"/>
<line x1="402.2" y1="229.1" x2="401.1" y2="229.1" stroke="#555" stroke-width="0.8"/>
<line x1="298.9" y1="212.8" x2="300.1" y2="212.8" stroke="#555" stroke-width="0.8"/>
<line x1="402.2" y1="212.8" x2="401.1" y2="212.8" stroke="#555" stroke-width="0.8"/>
<g clip-path="url(#cp22)">
<path d="M342.70 218.60 L345.90 212.52 L342.70 213.64 L339.50 212.52 Z" fill="#1a70c8"/>
<path d="M362.40 207.90 L365.60 201.82 L362.40 202.94 L359.20 201.82 Z" fill="#ff1515"/>
<path d="M349.80 237.10 L353.00 243.18 L349.80 242.06 L346.60 243.18 Z" fill="#6d9e30"/>
<path d="M380.50 234.30 L383.70 240.38 L380.50 239.26 L377.30 240.38 Z" fill="#000"/>
</g>
<text class="s" transform="translate(298.85 253.85) scale(0.920 1.160)" font-size="6.10" text-anchor="middle" fill="#3a3a3a">-0.2</text>
<text class="s" transform="translate(319.53 253.85) scale(0.920 1.160)" font-size="6.10" text-anchor="middle" fill="#3a3a3a">0</text>
<text class="s" transform="translate(340.21 253.85) scale(0.920 1.160)" font-size="6.10" text-anchor="middle" fill="#3a3a3a">0.2</text>
<text class="s" transform="translate(360.89 253.85) scale(0.920 1.160)" font-size="6.10" text-anchor="middle" fill="#3a3a3a">0.4</text>
<text class="s" transform="translate(381.57 253.85) scale(0.920 1.160)" font-size="6.10" text-anchor="middle" fill="#3a3a3a">0.6</text>
<text class="s" transform="translate(402.25 253.85) scale(0.920 1.160)" font-size="6.10" text-anchor="middle" fill="#3a3a3a">0.8</text>
<text class="s" transform="translate(297.05 248.35) scale(0.920 1.160)" font-size="6.10" text-anchor="end" fill="#3a3a3a">-10</text>
<text class="s" transform="translate(297.05 232.03) scale(0.920 1.160)" font-size="6.10" text-anchor="end" fill="#3a3a3a">0</text>
<text class="s" transform="translate(297.05 215.72) scale(0.920 1.160)" font-size="6.10" text-anchor="end" fill="#3a3a3a">10</text>
<text class="s" transform="translate(297.05 199.40) scale(0.920 1.160)" font-size="6.10" text-anchor="end" fill="#3a3a3a">20</text>
<text class="s lab" transform="translate(351.35 263.30) scale(1.000 1.100)" font-size="8.00" text-anchor="middle" fill="#262626">Time/(s)</text>
<text class="s lab" transform="translate(286.45 221.47) rotate(-90) scale(1.000 1.100)" font-size="8.00" text-anchor="middle" fill="#262626">Amplitude/(uv)</text>
<text class="r" transform="translate(485.05 193.90) scale(1.000 1.060)" font-size="13.60" text-anchor="middle" fill="#111">F4</text>
<clipPath id="cp23"><rect x="434.9" y="196.5" width="103.4" height="49.0"/></clipPath>
<g clip-path="url(#cp23)">
<path d="M434.90 229.19 C435.07 229.25 435.51 229.46 435.91 229.58 C436.31 229.70 436.79 229.98 437.29 229.92 C437.80 229.85 438.36 229.27 438.94 229.18 C439.51 229.10 440.13 229.27 440.74 229.38 C441.35 229.49 441.98 229.81 442.59 229.85 C443.19 229.90 443.81 229.62 444.37 229.67 C444.94 229.72 445.45 230.12 446.00 230.15 C446.55 230.18 447.15 230.04 447.70 229.87 C448.25 229.70 448.78 229.13 449.31 229.13 C449.85 229.13 450.37 229.78 450.90 229.86 C451.43 229.94 451.96 229.69 452.51 229.63 C453.06 229.56 453.61 229.40 454.19 229.47 C454.77 229.54 455.46 230.08 456.00 230.06 C456.54 230.05 456.96 229.44 457.46 229.36 C457.95 229.28 458.47 229.45 458.98 229.60 C459.50 229.75 460.03 230.12 460.56 230.28 C461.09 230.44 461.63 230.51 462.17 230.57 C462.72 230.63 463.26 230.59 463.81 230.65 C464.36 230.70 464.91 230.86 465.45 230.90 C466.00 230.94 466.55 230.94 467.09 230.90 C467.63 230.86 468.16 230.56 468.70 230.66 C469.24 230.75 469.79 231.39 470.35 231.47 C470.92 231.56 471.51 231.34 472.09 231.17 C472.68 231.01 473.28 230.56 473.87 230.48 C474.46 230.40 475.05 230.75 475.62 230.67 C476.20 230.60 476.77 230.11 477.32 230.02 C477.86 229.93 478.40 230.00 478.90 230.14 C479.39 230.28 479.87 230.78 480.31 230.84 C480.74 230.90 480.87 230.12 481.50 230.51 C482.13 230.90 483.38 232.34 484.09 233.18 C484.81 234.01 485.22 235.48 485.80 235.51 C486.38 235.54 486.94 234.08 487.54 233.36 C488.15 232.64 488.79 232.04 489.44 231.19 C490.10 230.33 490.89 229.01 491.50 228.25 C492.11 227.50 492.56 226.94 493.11 226.66 C493.66 226.37 494.20 226.70 494.78 226.56 C495.36 226.42 495.95 225.98 496.59 225.82 C497.22 225.65 498.01 225.60 498.60 225.55 C499.19 225.50 499.60 225.68 500.15 225.51 C500.69 225.34 501.29 224.68 501.88 224.54 C502.47 224.41 503.09 224.61 503.69 224.69 C504.29 224.78 504.90 225.05 505.48 225.05 C506.05 225.04 506.63 224.66 507.15 224.65 C507.67 224.64 507.99 225.02 508.60 225.00 C509.21 224.97 510.16 224.59 510.82 224.49 C511.48 224.39 511.98 224.23 512.56 224.38 C513.14 224.53 513.72 225.08 514.30 225.38 C514.88 225.68 515.46 225.88 516.04 226.19 C516.62 226.50 517.12 226.97 517.78 227.25 C518.44 227.54 519.39 227.78 520.00 227.92 C520.61 228.06 520.92 227.98 521.42 228.08 C521.92 228.19 522.46 228.40 523.01 228.53 C523.57 228.66 524.15 228.91 524.73 228.87 C525.31 228.82 525.92 228.37 526.51 228.26 C527.10 228.16 527.70 228.27 528.28 228.24 C528.87 228.21 529.42 228.13 530.00 228.08 C530.58 228.03 531.17 227.91 531.78 227.94 C532.40 227.96 533.06 228.29 533.70 228.22 C534.34 228.15 535.01 227.67 535.62 227.53 C536.24 227.39 536.86 227.44 537.41 227.38 C537.96 227.32 538.48 227.25 538.91 227.16 C539.34 227.08 539.82 226.91 540.00 226.87" fill="none" stroke="#9ccdf0" stroke-width="1.00" stroke-linejoin="round" stroke-linecap="round"/>
<path d="M434.90 229.45 C435.07 229.47 435.51 229.64 435.91 229.56 C436.31 229.47 436.79 228.95 437.29 228.93 C437.80 228.90 438.36 229.21 438.94 229.42 C439.51 229.62 440.13 230.16 440.74 230.17 C441.35 230.17 441.98 229.49 442.59 229.43 C443.19 229.37 443.81 229.75 444.37 229.81 C444.94 229.87 445.43 229.86 446.00 229.78 C446.57 229.71 447.18 229.26 447.77 229.35 C448.35 229.45 448.94 230.24 449.53 230.33 C450.11 230.43 450.69 230.09 451.26 229.93 C451.82 229.76 452.39 229.36 452.93 229.34 C453.47 229.33 454.01 229.83 454.52 229.83 C455.03 229.83 455.42 229.43 456.00 229.37 C456.58 229.30 457.36 229.37 457.99 229.42 C458.62 229.47 459.20 229.80 459.77 229.66 C460.34 229.51 460.87 228.72 461.41 228.56 C461.95 228.41 462.39 228.50 463.00 228.72 C463.61 228.93 464.39 229.53 465.05 229.83 C465.71 230.14 466.34 230.24 466.95 230.53 C467.56 230.82 468.05 231.83 468.70 231.57 C469.35 231.32 470.13 229.98 470.85 229.02 C471.57 228.07 472.33 226.69 473.00 225.83 C473.67 224.98 474.23 224.62 474.88 223.88 C475.53 223.14 476.27 221.92 476.91 221.39 C477.55 220.86 478.09 220.43 478.70 220.72 C479.31 221.00 480.00 221.88 480.58 223.09 C481.16 224.31 481.65 226.37 482.20 228.01 C482.75 229.64 483.26 231.83 483.86 232.91 C484.46 233.99 485.19 234.63 485.80 234.50 C486.41 234.36 486.89 233.34 487.49 232.10 C488.10 230.87 488.75 228.78 489.42 227.10 C490.09 225.41 490.86 223.22 491.50 221.99 C492.14 220.76 492.64 220.75 493.24 219.72 C493.85 218.69 494.51 217.00 495.14 215.79 C495.76 214.59 496.41 213.22 496.99 212.47 C497.57 211.72 497.96 211.31 498.60 211.30 C499.24 211.28 500.12 211.42 500.84 212.39 C501.55 213.37 502.26 215.89 502.90 217.16 C503.54 218.43 504.07 218.93 504.70 220.00 C505.32 221.07 506.00 222.46 506.65 223.60 C507.30 224.73 507.96 225.96 508.60 226.80 C509.24 227.65 509.87 227.94 510.50 228.67 C511.13 229.40 511.77 230.67 512.40 231.19 C513.03 231.72 513.67 231.67 514.30 231.80 C514.93 231.92 515.57 231.77 516.20 231.93 C516.83 232.08 517.47 232.63 518.10 232.72 C518.73 232.82 519.37 232.53 520.00 232.50 C520.63 232.48 521.27 232.68 521.90 232.58 C522.53 232.48 523.17 232.08 523.80 231.91 C524.43 231.74 525.06 231.56 525.70 231.56 C526.34 231.57 527.00 231.93 527.65 231.93 C528.30 231.93 528.98 231.50 529.60 231.54 C530.23 231.58 530.73 232.08 531.40 232.17 C532.07 232.27 532.92 232.12 533.64 232.13 C534.35 232.13 534.95 232.31 535.70 232.22 C536.45 232.14 537.40 231.91 538.12 231.60 C538.84 231.29 539.69 230.56 540.00 230.35" fill="none" stroke="#ff1010" stroke-width="2.30" stroke-linejoin="round" stroke-linecap="round"/>
<path d="M434.90 229.68 C435.07 229.63 435.51 229.43 435.91 229.39 C436.31 229.35 436.79 229.39 437.29 229.44 C437.80 229.49 438.36 229.69 438.94 229.70 C439.51 229.70 440.13 229.50 440.74 229.46 C441.35 229.41 441.98 229.32 442.59 229.42 C443.19 229.51 443.81 229.94 444.37 230.03 C444.94 230.12 445.43 229.99 446.00 229.94 C446.57 229.90 447.18 229.78 447.77 229.75 C448.35 229.72 448.94 229.83 449.53 229.77 C450.11 229.71 450.69 229.41 451.26 229.41 C451.82 229.40 452.39 229.62 452.93 229.74 C453.47 229.86 454.01 230.19 454.52 230.13 C455.03 230.06 455.42 229.45 456.00 229.35 C456.58 229.25 457.36 229.48 457.99 229.50 C458.62 229.52 459.20 229.52 459.77 229.46 C460.34 229.40 460.87 229.05 461.41 229.15 C461.95 229.26 462.42 229.93 463.00 230.10 C463.58 230.27 464.28 230.16 464.89 230.18 C465.49 230.21 466.00 230.08 466.63 230.23 C467.27 230.39 468.09 230.97 468.70 231.12 C469.31 231.26 469.72 231.05 470.28 231.10 C470.84 231.16 471.46 231.37 472.07 231.45 C472.68 231.53 473.32 231.69 473.93 231.61 C474.54 231.52 475.16 231.03 475.72 230.92 C476.28 230.81 476.68 231.01 477.30 230.96 C477.92 230.90 478.76 230.76 479.41 230.61 C480.07 230.46 480.61 230.31 481.21 230.06 C481.80 229.80 482.38 229.56 483.00 229.08 C483.62 228.60 484.30 227.62 484.96 227.15 C485.61 226.69 486.29 226.67 486.91 226.26 C487.54 225.86 488.05 225.27 488.70 224.74 C489.35 224.20 490.10 223.52 490.80 223.07 C491.50 222.61 492.25 222.48 492.90 222.03 C493.55 221.58 494.06 220.72 494.69 220.38 C495.31 220.04 495.98 220.08 496.64 219.99 C497.29 219.91 497.95 219.79 498.60 219.89 C499.25 219.98 499.88 220.23 500.53 220.55 C501.17 220.87 501.83 221.43 502.47 221.79 C503.12 222.14 503.77 222.16 504.40 222.68 C505.03 223.19 505.64 224.35 506.26 224.89 C506.87 225.42 507.46 225.62 508.10 225.88 C508.74 226.15 509.49 226.19 510.10 226.49 C510.71 226.79 511.20 227.47 511.78 227.66 C512.35 227.84 512.96 227.47 513.56 227.62 C514.17 227.76 514.79 228.20 515.39 228.50 C516.00 228.80 516.60 229.36 517.20 229.44 C517.80 229.52 518.40 228.94 519.01 228.97 C519.61 229.00 520.23 229.43 520.84 229.63 C521.44 229.82 522.05 230.05 522.62 230.15 C523.20 230.25 523.68 230.06 524.30 230.22 C524.92 230.38 525.70 231.01 526.36 231.12 C527.01 231.23 527.65 230.91 528.26 230.87 C528.86 230.84 529.35 231.00 530.00 230.90 C530.65 230.80 531.43 230.52 532.15 230.28 C532.87 230.04 533.61 229.60 534.30 229.44 C534.99 229.28 535.61 229.57 536.31 229.34 C537.00 229.11 537.85 228.27 538.47 228.06 C539.09 227.86 539.75 228.11 540.00 228.11" fill="none" stroke="#050505" stroke-width="2.30" stroke-linejoin="round" stroke-linecap="round"/>
<path d="M434.90 229.19 C435.07 229.12 435.51 228.70 435.91 228.76 C436.31 228.82 436.79 229.42 437.29 229.54 C437.80 229.66 438.36 229.48 438.94 229.49 C439.51 229.50 440.13 229.48 440.74 229.59 C441.35 229.71 441.98 230.22 442.59 230.18 C443.19 230.14 443.81 229.46 444.37 229.35 C444.94 229.24 445.43 229.39 446.00 229.52 C446.57 229.65 447.18 230.11 447.77 230.13 C448.35 230.15 448.94 229.67 449.53 229.65 C450.11 229.62 450.69 229.96 451.26 229.98 C451.82 229.99 452.39 229.88 452.93 229.74 C453.47 229.60 454.01 229.19 454.52 229.16 C455.03 229.12 455.42 229.42 456.00 229.52 C456.58 229.62 457.36 229.78 457.99 229.76 C458.62 229.74 459.20 229.43 459.77 229.39 C460.34 229.36 460.87 229.56 461.41 229.56 C461.95 229.56 462.39 229.31 463.00 229.42 C463.61 229.52 464.39 229.77 465.05 230.18 C465.71 230.59 466.34 231.65 466.95 231.90 C467.56 232.14 468.05 231.89 468.70 231.65 C469.35 231.42 470.13 230.94 470.85 230.48 C471.57 230.03 472.32 229.28 473.00 228.90 C473.68 228.51 474.24 228.30 474.90 228.18 C475.56 228.07 476.33 228.29 476.96 228.22 C477.60 228.15 478.16 227.74 478.70 227.77 C479.24 227.79 479.72 227.90 480.19 228.37 C480.65 228.84 480.95 229.63 481.50 230.57 C482.05 231.52 482.75 232.93 483.47 234.04 C484.19 235.14 485.12 236.92 485.80 237.19 C486.48 237.46 486.95 236.33 487.57 235.66 C488.19 234.99 488.84 233.87 489.50 233.15 C490.15 232.43 490.91 231.95 491.50 231.34 C492.09 230.72 492.52 229.96 493.05 229.47 C493.57 228.99 494.11 228.82 494.65 228.41 C495.19 227.99 495.73 227.41 496.28 226.97 C496.82 226.54 497.36 225.96 497.90 225.78 C498.44 225.60 498.97 225.69 499.50 225.88 C500.04 226.08 500.57 226.66 501.11 226.95 C501.64 227.24 502.18 227.43 502.73 227.63 C503.28 227.83 503.83 227.92 504.40 228.15 C504.97 228.37 505.57 228.83 506.17 228.99 C506.77 229.16 507.39 228.93 508.00 229.13 C508.61 229.32 509.23 229.87 509.81 230.15 C510.39 230.43 510.88 230.80 511.50 230.80 C512.12 230.80 512.86 230.37 513.50 230.16 C514.15 229.95 514.74 229.79 515.35 229.52 C515.97 229.25 516.58 228.73 517.20 228.55 C517.82 228.38 518.43 228.59 519.05 228.46 C519.66 228.34 520.25 228.07 520.90 227.80 C521.54 227.52 522.28 226.90 522.90 226.80 C523.52 226.71 524.02 227.22 524.61 227.23 C525.20 227.25 525.84 226.85 526.45 226.88 C527.06 226.90 527.70 227.19 528.29 227.40 C528.88 227.60 529.37 228.16 530.00 228.10 C530.63 228.05 531.40 227.22 532.06 227.07 C532.71 226.92 533.35 227.19 533.96 227.22 C534.56 227.25 534.99 227.36 535.70 227.24 C536.41 227.13 537.49 226.80 538.21 226.53 C538.92 226.25 539.70 225.74 540.00 225.58" fill="none" stroke="#00f500" stroke-width="2.30" stroke-linejoin="round" stroke-linecap="round"/>
</g>
<line x1="455.53" y1="195.6" x2="455.53" y2="245.4" stroke="#1a1a1a" stroke-width="1" stroke-dasharray="2.6 2.2"/>
<rect x="434.9" y="196.5" width="103.4" height="49.0" fill="none" stroke="#a6a6a6" stroke-width="1"/>
<line x1="455.5" y1="245.4" x2="455.5" y2="244.2" stroke="#555" stroke-width="0.8"/>
<line x1="455.5" y1="196.5" x2="455.5" y2="197.7" stroke="#555" stroke-width="0.8"/>
<line x1="476.2" y1="245.4" x2="476.2" y2="244.2" stroke="#555" stroke-width="0.8"/>
<line x1="476.2" y1="196.5" x2="476.2" y2="197.7" stroke="#555" stroke-width="0.8"/>
<line x1="496.9" y1="245.4" x2="496.9" y2="244.2" stroke="#555" stroke-width="0.8"/>
<line x1="496.9" y1="196.5" x2="496.9" y2="197.7" stroke="#555" stroke-width="0.8"/>
<line x1="517.6" y1="245.4" x2="517.6" y2="244.2" stroke="#555" stroke-width="0.8"/>
<line x1="517.6" y1="196.5" x2="517.6" y2="197.7" stroke="#555" stroke-width="0.8"/>
<line x1="434.9" y1="229.1" x2="436.1" y2="229.1" stroke="#555" stroke-width="0.8"/>
<line x1="538.2" y1="229.1" x2="537.0" y2="229.1" stroke="#555" stroke-width="0.8"/>
<line x1="434.9" y1="212.8" x2="436.1" y2="212.8" stroke="#555" stroke-width="0.8"/>
<line x1="538.2" y1="212.8" x2="537.0" y2="212.8" stroke="#555" stroke-width="0.8"/>
<g clip-path="url(#cp23)">
<path d="M479.00 219.30 L482.20 213.22 L479.00 214.34 L475.80 213.22 Z" fill="#1a70c8"/>
<path d="M497.90 209.30 L501.10 203.22 L497.90 204.34 L494.70 203.22 Z" fill="#ff1515"/>
<path d="M486.50 237.10 L489.70 243.18 L486.50 242.06 L483.30 243.18 Z" fill="#6d9e30"/>
<path d="M520.70 235.30 L523.90 241.38 L520.70 240.26 L517.50 241.38 Z" fill="#000"/>
</g>
<text class="s" transform="translate(434.85 253.85) scale(0.920 1.160)" font-size="6.10" text-anchor="middle" fill="#3a3a3a">-0.2</text>
<text class="s" transform="translate(455.53 253.85) scale(0.920 1.160)" font-size="6.10" text-anchor="middle" fill="#3a3a3a">0</text>
<text class="s" transform="translate(476.21 253.85) scale(0.920 1.160)" font-size="6.10" text-anchor="middle" fill="#3a3a3a">0.2</text>
<text class="s" transform="translate(496.89 253.85) scale(0.920 1.160)" font-size="6.10" text-anchor="middle" fill="#3a3a3a">0.4</text>
<text class="s" transform="translate(517.57 253.85) scale(0.920 1.160)" font-size="6.10" text-anchor="middle" fill="#3a3a3a">0.6</text>
<text class="s" transform="translate(538.25 253.85) scale(0.920 1.160)" font-size="6.10" text-anchor="middle" fill="#3a3a3a">0.8</text>
<text class="s" transform="translate(433.05 248.35) scale(0.920 1.160)" font-size="6.10" text-anchor="end" fill="#3a3a3a">-10</text>
<text class="s" transform="translate(433.05 232.03) scale(0.920 1.160)" font-size="6.10" text-anchor="end" fill="#3a3a3a">0</text>
<text class="s" transform="translate(433.05 215.72) scale(0.920 1.160)" font-size="6.10" text-anchor="end" fill="#3a3a3a">10</text>
<text class="s" transform="translate(433.05 199.40) scale(0.920 1.160)" font-size="6.10" text-anchor="end" fill="#3a3a3a">20</text>
<text class="s lab" transform="translate(487.35 263.30) scale(1.000 1.100)" font-size="8.00" text-anchor="middle" fill="#262626">Time/(s)</text>
<text class="s lab" transform="translate(422.45 221.47) rotate(-90) scale(1.000 1.100)" font-size="8.00" text-anchor="middle" fill="#262626">Amplitude/(uv)</text>
<text class="r" transform="translate(78.24 281.90) scale(1.000 1.060)" font-size="13.60" text-anchor="middle" fill="#111">AF7</text>
<clipPath id="cp30"><rect x="26.5" y="284.5" width="103.4" height="49.0"/></clipPath>
<g clip-path="url(#cp30)">
<path d="M26.50 317.45 C26.68 317.46 27.14 317.59 27.55 317.51 C27.97 317.42 28.47 316.89 28.99 316.95 C29.52 317.00 30.11 317.67 30.70 317.85 C31.30 318.04 31.94 318.13 32.57 318.04 C33.20 317.96 33.86 317.39 34.49 317.35 C35.12 317.32 35.75 317.78 36.34 317.83 C36.92 317.88 37.44 317.67 38.00 317.64 C38.56 317.61 39.16 317.53 39.72 317.65 C40.28 317.76 40.81 318.36 41.34 318.32 C41.88 318.29 42.40 317.61 42.92 317.43 C43.45 317.25 43.98 317.21 44.52 317.25 C45.07 317.30 45.61 317.70 46.19 317.71 C46.77 317.71 47.45 317.22 48.00 317.27 C48.55 317.33 48.97 317.85 49.48 318.03 C49.98 318.21 50.51 318.34 51.05 318.34 C51.58 318.35 52.13 318.04 52.68 318.05 C53.23 318.07 53.79 318.29 54.35 318.45 C54.91 318.60 55.47 318.85 56.02 318.99 C56.57 319.12 57.12 319.20 57.65 319.28 C58.19 319.35 58.72 319.34 59.22 319.43 C59.73 319.51 60.14 319.89 60.70 319.79 C61.26 319.69 61.96 319.04 62.59 318.83 C63.21 318.62 63.84 318.59 64.44 318.52 C65.05 318.45 65.65 318.60 66.22 318.43 C66.80 318.27 67.36 317.74 67.89 317.53 C68.42 317.33 68.93 317.27 69.39 317.20 C69.86 317.12 70.06 317.04 70.70 317.08 C71.34 317.11 72.54 317.01 73.26 317.39 C73.97 317.77 74.48 318.81 75.00 319.37 C75.52 319.92 75.77 320.42 76.35 320.71 C76.93 321.00 77.96 320.99 78.50 321.10 C79.04 321.22 79.19 321.47 79.57 321.41 C79.95 321.34 80.34 320.89 80.76 320.73 C81.18 320.57 81.62 320.51 82.09 320.45 C82.56 320.39 83.06 320.33 83.59 320.34 C84.11 320.36 84.67 320.69 85.26 320.56 C85.84 320.43 86.46 319.77 87.12 319.57 C87.78 319.36 88.65 319.37 89.20 319.33 C89.75 319.29 90.00 319.43 90.43 319.32 C90.85 319.21 91.29 318.67 91.74 318.66 C92.19 318.65 92.65 319.16 93.12 319.24 C93.60 319.32 94.08 319.26 94.58 319.16 C95.07 319.06 95.58 318.81 96.09 318.64 C96.60 318.48 97.12 318.19 97.65 318.16 C98.17 318.12 98.71 318.40 99.25 318.41 C99.79 318.41 100.33 318.24 100.88 318.17 C101.43 318.10 101.98 317.95 102.53 317.99 C103.09 318.03 103.65 318.53 104.20 318.43 C104.76 318.33 105.32 317.59 105.88 317.39 C106.43 317.19 106.99 317.17 107.54 317.23 C108.10 317.28 108.68 317.75 109.20 317.72 C109.72 317.70 110.17 317.12 110.69 317.06 C111.20 317.00 111.73 317.34 112.28 317.35 C112.82 317.37 113.38 317.31 113.95 317.13 C114.51 316.95 115.09 316.37 115.67 316.28 C116.26 316.19 116.85 316.54 117.44 316.59 C118.03 316.64 118.62 316.63 119.21 316.56 C119.80 316.49 120.40 316.19 120.98 316.16 C121.56 316.13 122.14 316.44 122.71 316.35 C123.28 316.26 123.84 315.77 124.39 315.61 C124.93 315.45 125.47 315.39 125.99 315.39 C126.50 315.39 127.00 315.54 127.48 315.62 C127.96 315.71 128.42 315.99 128.85 315.91 C129.29 315.83 129.70 315.27 130.08 315.16 C130.46 315.04 130.82 315.21 131.14 315.20 C131.46 315.19 131.86 315.11 132.00 315.10" fill="none" stroke="#9ccdf0" stroke-width="1.00" stroke-linejoin="round" stroke-linecap="round"/>
<path d="M26.50 317.63 C26.68 317.56 27.14 317.20 27.55 317.23 C27.97 317.25 28.47 317.71 28.99 317.80 C29.52 317.88 30.11 317.86 30.70 317.74 C31.30 317.62 31.94 317.04 32.57 317.07 C33.20 317.11 33.86 317.80 34.49 317.95 C35.12 318.09 35.75 317.99 36.34 317.95 C36.92 317.90 37.42 317.63 38.00 317.67 C38.58 317.71 39.20 318.23 39.79 318.18 C40.38 318.13 40.97 317.47 41.56 317.37 C42.14 317.26 42.72 317.38 43.28 317.53 C43.85 317.68 44.40 318.25 44.94 318.26 C45.48 318.27 46.02 317.68 46.52 317.57 C47.03 317.47 47.42 317.67 48.00 317.64 C48.58 317.61 49.36 317.59 49.99 317.41 C50.62 317.23 51.20 316.60 51.77 316.55 C52.34 316.50 52.87 317.01 53.41 317.12 C53.95 317.23 54.40 317.12 55.00 317.21 C55.60 317.30 56.37 317.27 57.02 317.67 C57.67 318.07 58.29 319.31 58.90 319.62 C59.51 319.93 60.11 319.81 60.70 319.53 C61.29 319.25 61.86 318.56 62.42 317.93 C62.98 317.29 63.51 316.63 64.06 315.73 C64.61 314.82 65.14 313.29 65.70 312.49 C66.26 311.70 66.83 311.34 67.39 310.95 C67.96 310.56 68.53 310.37 69.09 310.15 C69.64 309.92 70.05 309.33 70.70 309.62 C71.35 309.91 72.27 311.12 72.99 311.88 C73.70 312.65 74.45 313.48 75.00 314.21 C75.55 314.94 75.85 315.44 76.31 316.26 C76.78 317.08 77.28 318.55 77.80 319.15 C78.32 319.75 78.85 319.71 79.46 319.86 C80.07 320.01 80.77 320.00 81.44 320.07 C82.11 320.14 82.90 320.53 83.50 320.27 C84.10 320.00 84.52 318.98 85.05 318.48 C85.57 317.97 86.11 317.58 86.65 317.24 C87.19 316.91 87.73 316.77 88.28 316.48 C88.82 316.19 89.36 315.61 89.90 315.51 C90.44 315.41 90.97 315.69 91.50 315.88 C92.04 316.07 92.57 316.39 93.11 316.64 C93.64 316.89 94.18 317.14 94.73 317.39 C95.28 317.64 95.82 317.84 96.40 318.14 C96.98 318.44 97.58 319.00 98.20 319.19 C98.81 319.37 99.47 319.21 100.09 319.26 C100.71 319.31 101.34 319.42 101.91 319.49 C102.48 319.57 102.88 319.53 103.50 319.71 C104.12 319.88 104.93 320.17 105.65 320.52 C106.37 320.87 107.17 321.76 107.80 321.81 C108.43 321.86 108.83 321.04 109.41 320.83 C109.99 320.62 110.64 320.65 111.26 320.56 C111.89 320.46 112.55 320.44 113.16 320.25 C113.76 320.06 114.28 319.44 114.90 319.40 C115.52 319.36 116.26 320.01 116.90 320.02 C117.55 320.04 118.14 319.70 118.75 319.47 C119.37 319.24 119.98 318.77 120.60 318.65 C121.22 318.52 121.87 318.83 122.50 318.74 C123.13 318.65 123.77 318.26 124.40 318.12 C125.03 317.98 125.63 318.11 126.30 317.89 C126.97 317.67 127.71 317.06 128.41 316.80 C129.11 316.54 129.92 316.41 130.52 316.34 C131.12 316.28 131.75 316.40 132.00 316.41" fill="none" stroke="#ff1010" stroke-width="2.30" stroke-linejoin="round" stroke-linecap="round"/>
<path d="M26.50 317.05 C26.68 317.05 27.14 316.96 27.55 317.05 C27.97 317.14 28.47 317.52 28.99 317.61 C29.52 317.69 30.11 317.56 30.70 317.56 C31.30 317.56 31.94 317.55 32.57 317.63 C33.20 317.71 33.86 318.09 34.49 318.06 C35.12 318.03 35.75 317.52 36.34 317.44 C36.92 317.36 37.42 317.49 38.00 317.58 C38.58 317.68 39.20 317.99 39.79 318.02 C40.38 318.05 40.97 317.78 41.56 317.75 C42.14 317.73 42.72 317.90 43.28 317.87 C43.85 317.84 44.40 317.73 44.94 317.59 C45.48 317.45 46.02 316.99 46.52 317.03 C47.03 317.07 47.42 317.69 48.00 317.84 C48.58 318.00 49.36 317.97 49.99 317.96 C50.62 317.96 51.20 317.73 51.77 317.81 C52.34 317.89 52.87 318.42 53.41 318.45 C53.95 318.49 54.40 317.99 55.00 318.01 C55.60 318.04 56.37 318.34 57.02 318.59 C57.67 318.85 58.29 319.47 58.90 319.55 C59.51 319.62 60.10 319.21 60.70 319.01 C61.30 318.82 61.89 318.65 62.47 318.38 C63.05 318.11 63.62 317.72 64.16 317.41 C64.70 317.10 65.15 316.40 65.70 316.50 C66.25 316.59 66.86 317.60 67.46 317.96 C68.06 318.31 68.70 318.60 69.30 318.62 C69.90 318.64 70.42 318.14 71.04 318.07 C71.66 317.99 72.36 318.27 73.02 318.18 C73.68 318.08 74.34 317.71 75.00 317.49 C75.66 317.26 76.30 317.31 76.96 316.84 C77.61 316.38 78.29 315.29 78.91 314.68 C79.54 314.06 80.05 313.60 80.70 313.16 C81.35 312.72 82.10 312.52 82.80 312.05 C83.50 311.57 84.25 310.69 84.90 310.32 C85.55 309.95 86.06 310.12 86.69 309.82 C87.31 309.52 87.98 308.81 88.64 308.53 C89.29 308.25 89.95 307.92 90.60 308.12 C91.25 308.31 91.88 309.12 92.53 309.72 C93.17 310.31 93.83 311.00 94.47 311.69 C95.12 312.37 95.77 313.46 96.40 313.83 C97.03 314.21 97.64 313.81 98.26 313.94 C98.87 314.07 99.46 314.26 100.10 314.61 C100.74 314.95 101.48 315.78 102.10 315.99 C102.72 316.21 103.22 315.76 103.81 315.89 C104.40 316.02 105.04 316.54 105.65 316.76 C106.26 316.98 106.90 317.14 107.49 317.19 C108.08 317.24 108.58 316.86 109.20 317.05 C109.82 317.24 110.56 318.11 111.20 318.33 C111.85 318.55 112.44 318.39 113.05 318.37 C113.67 318.36 114.28 318.21 114.90 318.25 C115.52 318.29 116.17 318.51 116.80 318.61 C117.43 318.71 118.07 318.68 118.70 318.83 C119.33 318.99 119.97 319.55 120.60 319.52 C121.23 319.50 121.87 318.92 122.50 318.67 C123.13 318.43 123.77 318.22 124.40 318.06 C125.03 317.90 125.63 317.92 126.30 317.70 C126.97 317.49 127.71 316.87 128.41 316.75 C129.11 316.62 129.92 317.01 130.52 316.94 C131.12 316.87 131.75 316.45 132.00 316.35" fill="none" stroke="#050505" stroke-width="2.30" stroke-linejoin="round" stroke-linecap="round"/>
<path d="M26.50 317.25 C26.68 317.37 27.14 317.92 27.55 317.98 C27.97 318.05 28.47 317.73 28.99 317.63 C29.52 317.54 30.11 317.40 30.70 317.41 C31.30 317.41 31.94 317.65 32.57 317.65 C33.20 317.65 33.86 317.32 34.49 317.39 C35.12 317.46 35.75 317.95 36.34 318.07 C36.92 318.20 37.42 318.27 38.00 318.15 C38.58 318.03 39.20 317.41 39.79 317.35 C40.38 317.29 40.97 317.73 41.56 317.78 C42.14 317.83 42.72 317.69 43.28 317.65 C43.85 317.61 44.40 317.48 44.94 317.54 C45.48 317.59 46.02 317.95 46.52 317.98 C47.03 318.00 47.42 317.79 48.00 317.69 C48.58 317.59 49.36 317.31 49.99 317.37 C50.62 317.43 51.20 317.89 51.77 318.03 C52.34 318.16 52.87 318.10 53.41 318.18 C53.95 318.26 54.40 318.34 55.00 318.51 C55.60 318.67 56.37 319.06 57.02 319.17 C57.67 319.28 58.29 319.04 58.90 319.16 C59.51 319.28 60.11 319.91 60.70 319.90 C61.29 319.89 61.86 319.52 62.42 319.08 C62.98 318.64 63.51 317.72 64.06 317.27 C64.61 316.82 65.14 316.64 65.70 316.37 C66.26 316.09 66.85 315.75 67.42 315.62 C68.00 315.48 68.60 315.44 69.14 315.56 C69.69 315.68 70.13 316.02 70.70 316.36 C71.27 316.69 72.00 317.15 72.58 317.60 C73.16 318.04 73.70 318.46 74.20 319.04 C74.70 319.61 75.07 320.44 75.56 321.04 C76.04 321.65 76.60 322.55 77.10 322.68 C77.60 322.80 78.02 321.96 78.53 321.80 C79.05 321.64 79.61 321.88 80.20 321.72 C80.79 321.56 81.51 321.19 82.10 320.83 C82.69 320.48 83.16 319.77 83.72 319.60 C84.29 319.42 84.91 319.85 85.51 319.77 C86.12 319.70 86.75 319.28 87.37 319.15 C87.98 319.02 88.60 318.91 89.20 319.01 C89.80 319.11 90.40 319.73 91.00 319.75 C91.60 319.77 92.20 319.17 92.80 319.12 C93.40 319.07 94.00 319.29 94.60 319.45 C95.20 319.60 95.80 320.04 96.40 320.05 C97.00 320.05 97.61 319.59 98.21 319.50 C98.82 319.41 99.44 319.63 100.04 319.51 C100.65 319.39 101.25 319.05 101.83 318.79 C102.40 318.52 102.89 318.03 103.50 317.91 C104.11 317.79 104.86 318.12 105.50 318.05 C106.15 317.98 106.74 317.65 107.35 317.49 C107.97 317.34 108.58 317.33 109.20 317.11 C109.82 316.89 110.43 316.45 111.05 316.19 C111.66 315.93 112.25 315.58 112.90 315.54 C113.54 315.49 114.30 315.96 114.90 315.93 C115.50 315.91 115.96 315.45 116.51 315.39 C117.06 315.32 117.60 315.52 118.18 315.56 C118.76 315.59 119.35 315.68 119.99 315.58 C120.62 315.47 121.40 314.90 122.00 314.92 C122.60 314.94 123.03 315.58 123.61 315.69 C124.20 315.81 124.85 315.75 125.49 315.60 C126.13 315.45 126.81 314.87 127.44 314.81 C128.08 314.74 128.73 315.23 129.30 315.20 C129.87 315.16 130.43 314.68 130.88 314.58 C131.33 314.49 131.81 314.63 132.00 314.64" fill="none" stroke="#00f500" stroke-width="2.30" stroke-linejoin="round" stroke-linecap="round"/>
</g>
<line x1="47.22" y1="283.6" x2="47.22" y2="333.4" stroke="#1a1a1a" stroke-width="1" stroke-dasharray="2.6 2.2"/>
<rect x="26.5" y="284.5" width="103.4" height="49.0" fill="none" stroke="#a6a6a6" stroke-width="1"/>
<line x1="47.2" y1="333.4" x2="47.2" y2="332.2" stroke="#555" stroke-width="0.8"/>
<line x1="47.2" y1="284.5" x2="47.2" y2="285.7" stroke="#555" stroke-width="0.8"/>
<line x1="67.9" y1="333.4" x2="67.9" y2="332.2" stroke="#555" stroke-width="0.8"/>
<line x1="67.9" y1="284.5" x2="67.9" y2="285.7" stroke="#555" stroke-width="0.8"/>
<line x1="88.6" y1="333.4" x2="88.6" y2="332.2" stroke="#555" stroke-width="0.8"/>
<line x1="88.6" y1="284.5" x2="88.6" y2="285.7" stroke="#555" stroke-width="0.8"/>
<line x1="109.3" y1="333.4" x2="109.3" y2="332.2" stroke="#555" stroke-width="0.8"/>
<line x1="109.3" y1="284.5" x2="109.3" y2="285.7" stroke="#555" stroke-width="0.8"/>
<line x1="26.5" y1="317.1" x2="27.7" y2="317.1" stroke="#555" stroke-width="0.8"/>
<line x1="129.9" y1="317.1" x2="128.7" y2="317.1" stroke="#555" stroke-width="0.8"/>
<line x1="26.5" y1="300.8" x2="27.7" y2="300.8" stroke="#555" stroke-width="0.8"/>
<line x1="129.9" y1="300.8" x2="128.7" y2="300.8" stroke="#555" stroke-width="0.8"/>
<g clip-path="url(#cp30)">
<path d="M70.00 307.30 L73.20 301.22 L70.00 302.34 L66.80 301.22 Z" fill="#1a70c8"/>
<path d="M89.20 306.60 L92.40 300.52 L89.20 301.64 L86.00 300.52 Z" fill="#ff1515"/>
</g>
<text class="s" transform="translate(26.54 341.85) scale(0.920 1.160)" font-size="6.10" text-anchor="middle" fill="#3a3a3a">-0.2</text>
<text class="s" transform="translate(47.22 341.85) scale(0.920 1.160)" font-size="6.10" text-anchor="middle" fill="#3a3a3a">0</text>
<text class="s" transform="translate(67.90 341.85) scale(0.920 1.160)" font-size="6.10" text-anchor="middle" fill="#3a3a3a">0.2</text>
<text class="s" transform="translate(88.58 341.85) scale(0.920 1.160)" font-size="6.10" text-anchor="middle" fill="#3a3a3a">0.4</text>
<text class="s" transform="translate(109.26 341.85) scale(0.920 1.160)" font-size="6.10" text-anchor="middle" fill="#3a3a3a">0.6</text>
<text class="s" transform="translate(129.94 341.85) scale(0.920 1.160)" font-size="6.10" text-anchor="middle" fill="#3a3a3a">0.8</text>
<text class="s" transform="translate(24.74 336.35) scale(0.920 1.160)" font-size="6.10" text-anchor="end" fill="#3a3a3a">-10</text>
<text class="s" transform="translate(24.74 320.03) scale(0.920 1.160)" font-size="6.10" text-anchor="end" fill="#3a3a3a">0</text>
<text class="s" transform="translate(24.74 303.72) scale(0.920 1.160)" font-size="6.10" text-anchor="end" fill="#3a3a3a">10</text>
<text class="s" transform="translate(24.74 287.40) scale(0.920 1.160)" font-size="6.10" text-anchor="end" fill="#3a3a3a">20</text>
<text class="s lab" transform="translate(79.04 351.30) scale(1.000 1.100)" font-size="8.00" text-anchor="middle" fill="#262626">Time/(s)</text>
<text class="s lab" transform="translate(14.14 309.48) rotate(-90) scale(1.000 1.100)" font-size="8.00" text-anchor="middle" fill="#262626">Amplitude/(uv)</text>
<text class="r" transform="translate(214.40 281.90) scale(1.000 1.060)" font-size="13.60" text-anchor="middle" fill="#111">AF8</text>
<clipPath id="cp31"><rect x="162.7" y="284.5" width="103.4" height="49.0"/></clipPath>
<g clip-path="url(#cp31)">
<path d="M162.70 317.45 C162.87 317.45 163.33 317.45 163.73 317.43 C164.14 317.40 164.63 317.27 165.14 317.31 C165.66 317.35 166.24 317.65 166.82 317.66 C167.41 317.67 168.04 317.31 168.66 317.36 C169.27 317.42 169.92 317.89 170.54 317.99 C171.15 318.09 171.78 318.05 172.36 317.97 C172.93 317.88 173.44 317.53 174.00 317.49 C174.56 317.45 175.16 317.69 175.71 317.73 C176.27 317.76 176.80 317.74 177.33 317.69 C177.86 317.64 178.38 317.36 178.91 317.43 C179.44 317.51 179.97 318.12 180.51 318.12 C181.06 318.12 181.61 317.59 182.19 317.42 C182.77 317.26 183.45 317.05 184.00 317.15 C184.55 317.25 184.97 317.91 185.48 318.02 C185.98 318.14 186.51 317.75 187.05 317.83 C187.58 317.92 188.13 318.31 188.68 318.51 C189.23 318.72 189.79 319.04 190.35 319.06 C190.91 319.08 191.47 318.63 192.02 318.63 C192.57 318.63 193.12 318.92 193.65 319.06 C194.19 319.20 194.72 319.40 195.22 319.49 C195.73 319.58 196.14 319.66 196.70 319.61 C197.26 319.55 197.96 319.36 198.59 319.17 C199.21 318.99 199.84 318.79 200.44 318.49 C201.05 318.19 201.65 317.62 202.22 317.36 C202.80 317.10 203.36 317.03 203.89 316.93 C204.42 316.84 204.93 316.92 205.39 316.80 C205.86 316.67 206.06 316.07 206.70 316.19 C207.34 316.30 208.54 317.01 209.26 317.50 C209.97 317.98 210.50 318.56 211.00 319.11 C211.50 319.65 211.68 320.20 212.26 320.77 C212.85 321.34 213.95 322.22 214.50 322.52 C215.05 322.82 215.17 322.70 215.54 322.55 C215.90 322.41 216.29 321.82 216.70 321.64 C217.11 321.47 217.54 321.61 218.00 321.52 C218.45 321.43 218.93 321.26 219.43 321.09 C219.93 320.93 220.46 320.69 221.00 320.52 C221.55 320.36 222.12 320.14 222.72 320.08 C223.32 320.03 223.94 320.36 224.58 320.22 C225.23 320.08 226.06 319.47 226.60 319.25 C227.14 319.03 227.42 318.89 227.85 318.89 C228.28 318.89 228.72 319.30 229.18 319.24 C229.64 319.18 230.11 318.60 230.60 318.53 C231.08 318.45 231.57 318.74 232.08 318.78 C232.58 318.83 233.09 318.88 233.61 318.81 C234.13 318.75 234.66 318.55 235.19 318.37 C235.73 318.18 236.27 317.77 236.81 317.70 C237.35 317.64 237.89 317.93 238.44 317.96 C238.98 317.99 239.53 317.99 240.08 317.90 C240.63 317.82 241.17 317.47 241.72 317.47 C242.26 317.47 242.80 317.99 243.34 317.92 C243.88 317.85 244.41 317.25 244.93 317.03 C245.46 316.81 245.98 316.59 246.49 316.61 C247.00 316.63 247.48 317.12 248.00 317.14 C248.52 317.15 249.08 316.78 249.64 316.70 C250.20 316.61 250.77 316.67 251.35 316.64 C251.93 316.60 252.53 316.69 253.12 316.51 C253.71 316.34 254.32 315.70 254.91 315.59 C255.51 315.48 256.11 315.79 256.70 315.86 C257.30 315.92 257.89 316.05 258.47 315.96 C259.05 315.87 259.63 315.43 260.19 315.34 C260.75 315.25 261.30 315.49 261.83 315.43 C262.36 315.36 262.87 315.08 263.37 314.94 C263.86 314.81 264.33 314.71 264.78 314.62 C265.22 314.53 265.65 314.34 266.04 314.40 C266.43 314.47 266.79 314.90 267.12 315.01 C267.45 315.12 267.85 315.04 268.00 315.05" fill="none" stroke="#9ccdf0" stroke-width="1.00" stroke-linejoin="round" stroke-linecap="round"/>
<path d="M162.70 317.03 C162.87 317.04 163.33 316.95 163.73 317.09 C164.14 317.24 164.63 317.87 165.14 317.93 C165.66 317.99 166.24 317.48 166.82 317.45 C167.41 317.43 168.04 317.71 168.66 317.78 C169.27 317.85 169.92 317.99 170.54 317.89 C171.15 317.79 171.78 317.16 172.36 317.18 C172.93 317.20 173.43 317.85 174.00 318.01 C174.57 318.17 175.19 318.23 175.78 318.15 C176.37 318.06 176.96 317.55 177.54 317.52 C178.12 317.49 178.70 317.98 179.27 317.95 C179.83 317.93 180.39 317.49 180.94 317.38 C181.48 317.28 182.01 317.18 182.52 317.30 C183.03 317.43 183.42 318.11 184.00 318.13 C184.58 318.15 185.36 317.57 185.99 317.43 C186.62 317.30 187.20 317.27 187.77 317.30 C188.34 317.32 188.87 317.61 189.41 317.58 C189.95 317.56 190.40 316.94 191.00 317.15 C191.60 317.35 192.37 318.34 193.02 318.81 C193.67 319.29 194.29 319.92 194.90 320.00 C195.51 320.08 196.11 319.58 196.70 319.30 C197.29 319.03 197.86 318.94 198.42 318.33 C198.98 317.71 199.51 316.47 200.06 315.62 C200.61 314.77 201.14 313.82 201.70 313.23 C202.26 312.64 202.83 312.69 203.39 312.08 C203.96 311.46 204.53 310.10 205.09 309.55 C205.64 308.99 206.06 308.46 206.70 308.75 C207.34 309.04 208.23 310.41 208.94 311.29 C209.66 312.17 210.37 313.00 211.00 314.04 C211.63 315.08 212.12 316.55 212.71 317.52 C213.29 318.49 213.95 319.50 214.50 319.85 C215.05 320.20 215.49 319.56 216.03 319.60 C216.57 319.64 217.15 320.09 217.73 320.09 C218.30 320.10 218.90 319.91 219.50 319.63 C220.10 319.35 220.72 318.75 221.35 318.41 C221.98 318.07 222.63 317.88 223.27 317.57 C223.92 317.26 224.57 316.56 225.20 316.56 C225.83 316.56 226.43 317.17 227.04 317.57 C227.66 317.97 228.25 318.56 228.89 318.94 C229.53 319.32 230.28 319.62 230.90 319.85 C231.52 320.09 232.01 320.29 232.60 320.36 C233.18 320.43 233.80 320.12 234.41 320.27 C235.02 320.41 235.66 321.02 236.27 321.23 C236.89 321.45 237.50 321.61 238.10 321.56 C238.70 321.51 239.29 320.97 239.88 320.92 C240.47 320.86 241.07 321.28 241.66 321.23 C242.25 321.17 242.84 320.74 243.43 320.58 C244.02 320.43 244.61 320.29 245.20 320.30 C245.79 320.31 246.38 320.83 246.97 320.64 C247.57 320.45 248.16 319.52 248.75 319.17 C249.34 318.81 249.93 318.60 250.53 318.51 C251.12 318.41 251.71 318.66 252.30 318.59 C252.89 318.53 253.46 318.02 254.04 318.11 C254.62 318.20 255.18 318.91 255.76 319.12 C256.34 319.32 256.91 319.46 257.52 319.36 C258.13 319.26 258.79 318.56 259.40 318.50 C260.01 318.43 260.54 318.98 261.16 318.96 C261.79 318.95 262.49 318.61 263.14 318.41 C263.80 318.22 264.50 317.92 265.11 317.78 C265.72 317.64 266.32 317.77 266.81 317.57 C267.29 317.36 267.80 316.71 268.00 316.54" fill="none" stroke="#ff1010" stroke-width="2.30" stroke-linejoin="round" stroke-linecap="round"/>
<path d="M162.70 317.64 C162.87 317.67 163.33 317.82 163.73 317.80 C164.14 317.79 164.63 317.66 165.14 317.55 C165.66 317.45 166.24 317.16 166.82 317.18 C167.41 317.19 168.04 317.57 168.66 317.66 C169.27 317.76 169.92 317.69 170.54 317.75 C171.15 317.82 171.78 318.01 172.36 318.03 C172.93 318.06 173.43 318.00 174.00 317.90 C174.57 317.81 175.19 317.48 175.78 317.45 C176.37 317.42 176.96 317.64 177.54 317.70 C178.12 317.77 178.70 317.84 179.27 317.84 C179.83 317.83 180.39 317.72 180.94 317.69 C181.48 317.66 182.01 317.66 182.52 317.67 C183.03 317.67 183.42 317.76 184.00 317.71 C184.58 317.66 185.36 317.27 185.99 317.35 C186.62 317.42 187.20 317.97 187.77 318.15 C188.34 318.34 188.87 318.47 189.41 318.48 C189.95 318.48 190.40 318.15 191.00 318.18 C191.60 318.22 192.35 318.62 193.00 318.70 C193.64 318.79 194.23 318.62 194.85 318.71 C195.47 318.80 196.07 319.17 196.70 319.23 C197.33 319.30 198.00 319.23 198.65 319.11 C199.30 318.99 199.98 318.61 200.60 318.51 C201.23 318.40 201.73 318.59 202.40 318.50 C203.07 318.41 203.92 317.94 204.64 317.98 C205.35 318.01 206.01 318.63 206.70 318.70 C207.39 318.77 208.05 318.58 208.76 318.39 C209.48 318.20 210.32 317.90 211.00 317.55 C211.68 317.21 212.21 316.82 212.85 316.33 C213.50 315.84 214.22 315.02 214.86 314.63 C215.50 314.24 216.04 314.51 216.70 314.00 C217.36 313.49 218.10 312.20 218.80 311.57 C219.50 310.95 220.25 310.57 220.90 310.25 C221.55 309.93 222.06 309.91 222.69 309.64 C223.31 309.38 223.98 308.82 224.64 308.65 C225.29 308.49 225.95 308.58 226.60 308.66 C227.25 308.74 227.88 308.64 228.53 309.16 C229.17 309.67 229.83 310.99 230.47 311.74 C231.12 312.49 231.77 313.26 232.40 313.66 C233.03 314.06 233.64 313.87 234.26 314.15 C234.87 314.42 235.46 315.13 236.10 315.31 C236.74 315.48 237.48 315.13 238.10 315.19 C238.72 315.24 239.22 315.36 239.81 315.61 C240.40 315.87 241.04 316.57 241.65 316.72 C242.26 316.88 242.90 316.51 243.49 316.53 C244.08 316.54 244.58 316.71 245.20 316.83 C245.82 316.96 246.56 317.09 247.20 317.26 C247.85 317.43 248.44 317.60 249.05 317.84 C249.67 318.09 250.28 318.60 250.90 318.74 C251.52 318.88 252.17 318.61 252.80 318.67 C253.43 318.74 254.07 319.09 254.70 319.13 C255.33 319.17 255.97 319.01 256.60 318.90 C257.23 318.80 257.87 318.54 258.50 318.52 C259.13 318.51 259.77 319.01 260.40 318.82 C261.03 318.63 261.63 317.73 262.30 317.40 C262.97 317.06 263.71 316.96 264.41 316.81 C265.11 316.66 265.92 316.61 266.52 316.50 C267.12 316.39 267.75 316.20 268.00 316.14" fill="none" stroke="#050505" stroke-width="2.30" stroke-linejoin="round" stroke-linecap="round"/>
<path d="M162.70 317.32 C162.87 317.33 163.33 317.39 163.73 317.37 C164.14 317.35 164.63 317.08 165.14 317.21 C165.66 317.33 166.24 318.06 166.82 318.13 C167.41 318.20 168.04 317.75 168.66 317.62 C169.27 317.49 169.92 317.25 170.54 317.32 C171.15 317.39 171.78 317.98 172.36 318.02 C172.93 318.06 173.43 317.54 174.00 317.54 C174.57 317.54 175.19 317.90 175.78 318.00 C176.37 318.11 176.96 318.33 177.54 318.19 C178.12 318.05 178.70 317.23 179.27 317.15 C179.83 317.06 180.39 317.56 180.94 317.67 C181.48 317.77 182.01 317.79 182.52 317.78 C183.03 317.76 183.42 317.53 184.00 317.56 C184.58 317.59 185.36 318.01 185.99 317.97 C186.62 317.92 187.20 317.45 187.77 317.29 C188.34 317.12 188.87 316.91 189.41 316.99 C189.95 317.08 190.40 317.56 191.00 317.78 C191.60 318.01 192.37 318.07 193.02 318.34 C193.67 318.61 194.29 319.12 194.90 319.41 C195.51 319.69 196.11 320.18 196.70 320.04 C197.29 319.90 197.86 318.89 198.42 318.56 C198.98 318.22 199.51 318.25 200.06 318.04 C200.61 317.83 201.14 317.63 201.70 317.29 C202.26 316.95 202.85 316.24 203.42 315.99 C204.00 315.73 204.60 315.86 205.14 315.75 C205.69 315.64 206.13 315.25 206.70 315.34 C207.27 315.42 207.95 315.70 208.54 316.28 C209.12 316.85 209.65 318.00 210.20 318.78 C210.75 319.57 211.26 320.37 211.86 320.98 C212.46 321.58 213.19 322.18 213.80 322.42 C214.41 322.65 214.89 322.62 215.49 322.38 C216.10 322.14 216.75 321.26 217.42 320.99 C218.09 320.72 218.87 320.83 219.50 320.76 C220.13 320.69 220.60 320.81 221.17 320.57 C221.75 320.32 222.35 319.43 222.96 319.27 C223.56 319.11 224.18 319.57 224.79 319.60 C225.39 319.63 225.99 319.51 226.60 319.46 C227.21 319.40 227.81 319.18 228.43 319.29 C229.04 319.39 229.67 320.06 230.29 320.10 C230.90 320.14 231.52 319.65 232.10 319.53 C232.69 319.42 233.20 319.37 233.80 319.41 C234.40 319.45 235.10 319.85 235.71 319.76 C236.32 319.68 236.82 319.11 237.45 318.92 C238.08 318.72 238.90 318.71 239.50 318.57 C240.10 318.44 240.51 318.29 241.07 318.10 C241.62 317.90 242.23 317.46 242.83 317.39 C243.43 317.32 244.07 317.67 244.67 317.67 C245.27 317.67 245.88 317.53 246.43 317.38 C246.99 317.24 247.39 317.00 248.00 316.81 C248.61 316.62 249.46 316.49 250.11 316.27 C250.76 316.04 251.30 315.57 251.90 315.47 C252.50 315.38 253.10 315.66 253.70 315.72 C254.30 315.78 254.90 315.77 255.49 315.83 C256.09 315.89 256.63 315.99 257.29 316.07 C257.94 316.16 258.77 316.45 259.40 316.34 C260.03 316.24 260.46 315.54 261.07 315.44 C261.68 315.33 262.38 315.74 263.04 315.72 C263.71 315.71 264.42 315.62 265.04 315.33 C265.66 315.04 266.29 314.19 266.78 313.99 C267.28 313.79 267.80 314.13 268.00 314.16" fill="none" stroke="#00f500" stroke-width="2.30" stroke-linejoin="round" stroke-linecap="round"/>
</g>
<line x1="183.38" y1="283.6" x2="183.38" y2="333.4" stroke="#1a1a1a" stroke-width="1" stroke-dasharray="2.6 2.2"/>
<rect x="162.7" y="284.5" width="103.4" height="49.0" fill="none" stroke="#a6a6a6" stroke-width="1"/>
<line x1="183.4" y1="333.4" x2="183.4" y2="332.2" stroke="#555" stroke-width="0.8"/>
<line x1="183.4" y1="284.5" x2="183.4" y2="285.7" stroke="#555" stroke-width="0.8"/>
<line x1="204.1" y1="333.4" x2="204.1" y2="332.2" stroke="#555" stroke-width="0.8"/>
<line x1="204.1" y1="284.5" x2="204.1" y2="285.7" stroke="#555" stroke-width="0.8"/>
<line x1="224.7" y1="333.4" x2="224.7" y2="332.2" stroke="#555" stroke-width="0.8"/>
<line x1="224.7" y1="284.5" x2="224.7" y2="285.7" stroke="#555" stroke-width="0.8"/>
<line x1="245.4" y1="333.4" x2="245.4" y2="332.2" stroke="#555" stroke-width="0.8"/>
<line x1="245.4" y1="284.5" x2="245.4" y2="285.7" stroke="#555" stroke-width="0.8"/>
<line x1="162.7" y1="317.1" x2="163.9" y2="317.1" stroke="#555" stroke-width="0.8"/>
<line x1="266.1" y1="317.1" x2="264.9" y2="317.1" stroke="#555" stroke-width="0.8"/>
<line x1="162.7" y1="300.8" x2="163.9" y2="300.8" stroke="#555" stroke-width="0.8"/>
<line x1="266.1" y1="300.8" x2="264.9" y2="300.8" stroke="#555" stroke-width="0.8"/>
<g clip-path="url(#cp31)">
<path d="M207.40 306.60 L210.60 300.52 L207.40 301.64 L204.20 300.52 Z" fill="#1a70c8"/>
<path d="M225.90 306.60 L229.10 300.52 L225.90 301.64 L222.70 300.52 Z" fill="#ff1515"/>
</g>
<text class="s" transform="translate(162.70 341.85) scale(0.920 1.160)" font-size="6.10" text-anchor="middle" fill="#3a3a3a">-0.2</text>
<text class="s" transform="translate(183.38 341.85) scale(0.920 1.160)" font-size="6.10" text-anchor="middle" fill="#3a3a3a">0</text>
<text class="s" transform="translate(204.06 341.85) scale(0.920 1.160)" font-size="6.10" text-anchor="middle" fill="#3a3a3a">0.2</text>
<text class="s" transform="translate(224.74 341.85) scale(0.920 1.160)" font-size="6.10" text-anchor="middle" fill="#3a3a3a">0.4</text>
<text class="s" transform="translate(245.42 341.85) scale(0.920 1.160)" font-size="6.10" text-anchor="middle" fill="#3a3a3a">0.6</text>
<text class="s" transform="translate(266.10 341.85) scale(0.920 1.160)" font-size="6.10" text-anchor="middle" fill="#3a3a3a">0.8</text>
<text class="s" transform="translate(160.90 336.35) scale(0.920 1.160)" font-size="6.10" text-anchor="end" fill="#3a3a3a">-10</text>
<text class="s" transform="translate(160.90 320.03) scale(0.920 1.160)" font-size="6.10" text-anchor="end" fill="#3a3a3a">0</text>
<text class="s" transform="translate(160.90 303.72) scale(0.920 1.160)" font-size="6.10" text-anchor="end" fill="#3a3a3a">10</text>
<text class="s" transform="translate(160.90 287.40) scale(0.920 1.160)" font-size="6.10" text-anchor="end" fill="#3a3a3a">20</text>
<text class="s lab" transform="translate(215.20 351.30) scale(1.000 1.100)" font-size="8.00" text-anchor="middle" fill="#262626">Time/(s)</text>
<text class="s lab" transform="translate(150.30 309.48) rotate(-90) scale(1.000 1.100)" font-size="8.00" text-anchor="middle" fill="#262626">Amplitude/(uv)</text>
<text class="r" transform="translate(350.55 281.90) scale(1.000 1.060)" font-size="13.60" text-anchor="middle" fill="#111">CP5</text>
<clipPath id="cp32"><rect x="298.9" y="284.5" width="103.4" height="49.0"/></clipPath>
<g clip-path="url(#cp32)">
<path d="M298.90 317.02 C299.07 317.15 299.51 317.68 299.91 317.81 C300.31 317.94 300.79 317.86 301.29 317.81 C301.80 317.77 302.36 317.59 302.94 317.54 C303.51 317.49 304.13 317.53 304.74 317.53 C305.35 317.53 305.98 317.51 306.59 317.54 C307.19 317.57 307.81 317.63 308.37 317.73 C308.94 317.83 309.45 318.12 310.00 318.14 C310.55 318.16 311.15 318.00 311.70 317.87 C312.25 317.75 312.78 317.46 313.31 317.40 C313.85 317.34 314.37 317.46 314.90 317.50 C315.43 317.55 315.96 317.69 316.51 317.67 C317.06 317.65 317.61 317.32 318.19 317.37 C318.77 317.43 319.45 317.93 320.00 317.99 C320.55 318.05 320.99 317.83 321.52 317.74 C322.05 317.65 322.61 317.31 323.18 317.46 C323.75 317.61 324.35 318.45 324.93 318.65 C325.52 318.86 326.12 318.62 326.71 318.68 C327.29 318.74 327.88 318.86 328.43 319.02 C328.99 319.18 329.54 319.68 330.05 319.66 C330.56 319.64 331.05 319.00 331.50 318.90 C331.94 318.81 332.05 319.22 332.70 319.10 C333.35 318.97 334.71 318.67 335.42 318.15 C336.14 317.63 336.44 316.05 337.00 315.98 C337.56 315.91 338.21 317.18 338.79 317.73 C339.38 318.29 339.95 318.91 340.50 319.32 C341.05 319.72 341.47 319.78 342.07 320.18 C342.68 320.58 343.50 321.60 344.10 321.70 C344.70 321.81 345.09 321.18 345.66 320.83 C346.23 320.48 346.89 319.91 347.52 319.59 C348.15 319.27 348.83 319.31 349.44 318.91 C350.05 318.51 350.57 317.65 351.20 317.19 C351.83 316.73 352.56 316.57 353.20 316.14 C353.85 315.71 354.44 315.20 355.05 314.59 C355.67 313.98 356.28 313.01 356.90 312.46 C357.52 311.91 358.13 311.67 358.74 311.28 C359.36 310.89 359.95 310.30 360.59 310.11 C361.23 309.93 362.00 310.13 362.60 310.16 C363.20 310.20 363.66 310.24 364.20 310.31 C364.74 310.38 365.26 310.36 365.84 310.57 C366.42 310.79 367.01 311.29 367.67 311.61 C368.33 311.94 369.23 312.22 369.80 312.52 C370.37 312.81 370.67 313.09 371.11 313.38 C371.54 313.67 371.97 313.91 372.42 314.24 C372.87 314.57 373.31 315.18 373.79 315.33 C374.27 315.48 374.76 314.99 375.30 315.15 C375.83 315.32 376.38 315.95 376.99 316.30 C377.60 316.66 378.23 317.13 378.94 317.30 C379.64 317.48 380.62 317.27 381.20 317.37 C381.78 317.47 382.00 317.87 382.44 317.90 C382.88 317.92 383.35 317.63 383.84 317.49 C384.34 317.36 384.86 317.05 385.40 317.08 C385.93 317.12 386.49 317.61 387.06 317.69 C387.62 317.78 388.21 317.64 388.80 317.60 C389.39 317.55 389.99 317.44 390.59 317.43 C391.19 317.42 391.80 317.65 392.41 317.53 C393.01 317.41 393.62 316.79 394.21 316.70 C394.81 316.62 395.40 316.90 395.97 317.01 C396.55 317.12 397.12 317.40 397.67 317.36 C398.21 317.33 398.75 316.90 399.26 316.78 C399.77 316.67 400.26 316.68 400.72 316.66 C401.18 316.64 401.61 316.68 402.01 316.65 C402.41 316.61 402.79 316.50 403.12 316.44 C403.45 316.39 403.85 316.34 404.00 316.32" fill="none" stroke="#9ccdf0" stroke-width="1.00" stroke-linejoin="round" stroke-linecap="round"/>
<path d="M298.90 317.82 C299.07 317.77 299.51 317.62 299.91 317.53 C300.31 317.44 300.79 317.34 301.29 317.27 C301.80 317.21 302.36 317.02 302.94 317.16 C303.51 317.29 304.13 317.97 304.74 318.07 C305.35 318.18 305.98 317.82 306.59 317.77 C307.19 317.71 307.81 317.72 308.37 317.74 C308.94 317.76 309.43 317.96 310.00 317.89 C310.57 317.83 311.18 317.36 311.77 317.37 C312.35 317.38 312.94 317.84 313.53 317.97 C314.11 318.10 314.69 318.25 315.26 318.16 C315.82 318.08 316.39 317.52 316.93 317.45 C317.47 317.39 318.01 317.76 318.52 317.76 C319.03 317.77 319.42 317.58 320.00 317.47 C320.58 317.35 321.36 317.05 321.99 317.08 C322.62 317.12 323.20 317.73 323.77 317.69 C324.34 317.65 324.87 317.04 325.41 316.85 C325.95 316.67 326.39 316.40 327.00 316.56 C327.61 316.73 328.39 317.50 329.05 317.83 C329.71 318.16 330.34 318.29 330.95 318.54 C331.56 318.79 332.03 319.66 332.70 319.34 C333.37 319.03 334.27 317.44 334.99 316.67 C335.70 315.89 336.37 314.65 337.00 314.70 C337.63 314.76 338.21 316.15 338.79 316.97 C339.38 317.80 339.92 318.97 340.50 319.66 C341.08 320.34 341.65 320.84 342.25 321.08 C342.85 321.32 343.44 320.83 344.10 321.12 C344.76 321.41 345.49 322.27 346.21 322.82 C346.92 323.37 347.67 324.82 348.40 324.42 C349.12 324.03 349.84 321.99 350.56 320.44 C351.27 318.88 352.01 317.06 352.70 315.07 C353.39 313.09 354.01 310.44 354.71 308.51 C355.41 306.58 356.24 304.94 356.90 303.50 C357.56 302.06 358.06 301.19 358.69 299.89 C359.31 298.59 359.98 296.65 360.64 295.69 C361.29 294.73 361.95 294.23 362.60 294.13 C363.25 294.04 363.88 294.31 364.53 295.10 C365.17 295.89 365.83 297.70 366.47 298.87 C367.12 300.03 367.77 301.09 368.40 302.10 C369.03 303.12 369.64 303.89 370.26 304.94 C370.87 305.99 371.46 307.43 372.10 308.39 C372.74 309.35 373.49 309.87 374.10 310.72 C374.71 311.56 375.20 312.63 375.78 313.46 C376.35 314.30 376.96 315.21 377.56 315.73 C378.17 316.24 378.79 316.10 379.39 316.56 C380.00 317.01 380.60 318.00 381.20 318.46 C381.80 318.91 382.38 319.09 382.97 319.30 C383.57 319.50 384.16 319.43 384.75 319.69 C385.34 319.94 385.93 320.72 386.52 320.83 C387.12 320.94 387.71 320.43 388.30 320.33 C388.89 320.23 389.46 320.14 390.04 320.23 C390.62 320.33 391.18 320.89 391.76 320.92 C392.34 320.94 392.91 320.41 393.52 320.37 C394.13 320.34 394.79 320.65 395.40 320.71 C396.01 320.77 396.54 320.85 397.16 320.74 C397.79 320.63 398.49 320.06 399.14 320.03 C399.80 320.01 400.50 320.48 401.11 320.59 C401.72 320.69 402.32 320.70 402.81 320.65 C403.29 320.61 403.80 320.39 404.00 320.33" fill="none" stroke="#ff1010" stroke-width="2.30" stroke-linejoin="round" stroke-linecap="round"/>
<path d="M298.90 317.56 C299.07 317.52 299.51 317.27 299.91 317.27 C300.31 317.28 300.79 317.48 301.29 317.59 C301.80 317.70 302.36 317.96 302.94 317.93 C303.51 317.89 304.13 317.45 304.74 317.38 C305.35 317.31 305.98 317.43 306.59 317.53 C307.19 317.63 307.81 317.92 308.37 317.96 C308.94 318.00 309.43 317.74 310.00 317.76 C310.57 317.78 311.18 318.09 311.77 318.09 C312.35 318.09 312.94 317.88 313.53 317.75 C314.11 317.61 314.69 317.27 315.26 317.28 C315.82 317.28 316.39 317.69 316.93 317.79 C317.47 317.88 318.01 317.86 318.52 317.84 C319.03 317.82 319.42 317.71 320.00 317.68 C320.58 317.64 321.36 317.70 321.99 317.62 C322.62 317.55 323.20 317.31 323.77 317.24 C324.34 317.18 324.87 317.16 325.41 317.26 C325.95 317.35 326.39 317.64 327.00 317.80 C327.61 317.96 328.39 318.04 329.05 318.23 C329.71 318.42 330.34 318.80 330.95 318.93 C331.56 319.06 332.03 319.30 332.70 318.99 C333.37 318.69 334.27 317.51 334.99 317.09 C335.70 316.67 336.38 316.55 337.00 316.47 C337.62 316.39 338.12 316.48 338.71 316.61 C339.29 316.73 339.95 317.02 340.50 317.22 C341.05 317.42 341.49 317.85 342.03 317.81 C342.57 317.78 343.15 317.14 343.73 317.01 C344.30 316.88 344.90 317.07 345.50 317.05 C346.10 317.02 346.72 317.17 347.35 316.85 C347.98 316.54 348.63 315.51 349.27 315.16 C349.92 314.81 350.56 314.98 351.20 314.75 C351.84 314.52 352.47 314.16 353.10 313.79 C353.73 313.42 354.37 312.93 355.00 312.52 C355.63 312.11 356.27 311.84 356.90 311.34 C357.53 310.83 358.16 309.93 358.80 309.51 C359.43 309.09 360.06 309.01 360.69 308.81 C361.33 308.62 361.96 308.19 362.60 308.37 C363.24 308.54 363.88 309.18 364.53 309.87 C365.17 310.55 365.83 311.87 366.47 312.48 C367.12 313.08 367.77 313.07 368.40 313.52 C369.03 313.97 369.64 314.74 370.26 315.16 C370.87 315.58 371.46 315.90 372.10 316.07 C372.74 316.23 373.49 316.04 374.10 316.13 C374.71 316.23 375.20 316.56 375.78 316.65 C376.35 316.75 376.96 316.61 377.56 316.70 C378.17 316.79 378.79 316.99 379.39 317.20 C380.00 317.41 380.60 317.81 381.20 317.94 C381.80 318.08 382.38 317.91 382.97 317.98 C383.57 318.05 384.16 318.25 384.75 318.36 C385.34 318.47 385.93 318.54 386.52 318.65 C387.12 318.76 387.71 318.87 388.30 319.03 C388.89 319.18 389.46 319.54 390.04 319.60 C390.62 319.67 391.18 319.49 391.76 319.41 C392.34 319.32 392.91 319.16 393.52 319.10 C394.13 319.03 394.79 319.10 395.40 319.02 C396.01 318.94 396.54 318.66 397.16 318.61 C397.79 318.57 398.49 318.91 399.14 318.75 C399.80 318.60 400.50 318.01 401.11 317.69 C401.72 317.37 402.32 316.97 402.81 316.81 C403.29 316.66 403.80 316.78 404.00 316.77" fill="none" stroke="#050505" stroke-width="2.30" stroke-linejoin="round" stroke-linecap="round"/>
<path d="M298.90 317.19 C299.07 317.18 299.51 317.06 299.91 317.10 C300.31 317.13 300.79 317.32 301.29 317.42 C301.80 317.52 302.36 317.68 302.94 317.68 C303.51 317.67 304.13 317.29 304.74 317.38 C305.35 317.47 305.98 318.16 306.59 318.22 C307.19 318.28 307.81 317.90 308.37 317.74 C308.94 317.58 309.43 317.21 310.00 317.27 C310.57 317.32 311.18 318.00 311.77 318.07 C312.35 318.14 312.94 317.73 313.53 317.68 C314.11 317.62 314.69 317.68 315.26 317.74 C315.82 317.80 316.39 318.15 316.93 318.03 C317.47 317.91 318.01 317.12 318.52 317.03 C319.03 316.93 319.42 317.28 320.00 317.45 C320.58 317.63 321.36 318.04 321.99 318.08 C322.62 318.12 323.20 317.63 323.77 317.69 C324.34 317.75 324.87 318.36 325.41 318.46 C325.95 318.57 326.39 318.32 327.00 318.33 C327.61 318.33 328.39 318.17 329.05 318.48 C329.71 318.80 330.34 319.98 330.95 320.22 C331.56 320.45 332.03 320.35 332.70 319.88 C333.37 319.42 334.27 318.18 334.99 317.41 C335.70 316.64 336.37 315.30 337.00 315.24 C337.63 315.19 338.21 316.26 338.79 317.07 C339.38 317.89 339.92 319.39 340.50 320.14 C341.08 320.88 341.65 321.13 342.25 321.53 C342.85 321.94 343.44 322.31 344.10 322.56 C344.76 322.82 345.49 323.12 346.21 323.07 C346.92 323.02 347.67 322.70 348.40 322.27 C349.12 321.84 349.84 321.43 350.56 320.51 C351.27 319.58 352.01 317.75 352.70 316.71 C353.39 315.67 354.01 315.12 354.71 314.28 C355.41 313.44 356.24 312.24 356.90 311.64 C357.56 311.05 358.06 310.98 358.69 310.69 C359.31 310.41 359.98 310.28 360.64 309.93 C361.29 309.58 361.95 308.62 362.60 308.61 C363.25 308.59 363.88 309.34 364.53 309.81 C365.17 310.28 365.83 310.90 366.47 311.42 C367.12 311.94 367.77 312.54 368.40 312.93 C369.03 313.32 369.64 313.55 370.26 313.77 C370.87 313.98 371.46 313.87 372.10 314.21 C372.74 314.55 373.49 315.47 374.10 315.79 C374.71 316.11 375.20 315.98 375.78 316.15 C376.35 316.31 376.96 316.53 377.56 316.76 C378.17 317.00 378.79 317.50 379.39 317.55 C380.00 317.59 380.60 317.00 381.20 317.04 C381.80 317.07 382.38 317.55 382.97 317.74 C383.57 317.93 384.16 318.25 384.75 318.19 C385.34 318.14 385.93 317.47 386.52 317.40 C387.12 317.33 387.71 317.77 388.30 317.79 C388.89 317.81 389.46 317.59 390.04 317.50 C390.62 317.41 391.18 317.11 391.76 317.24 C392.34 317.37 392.91 318.20 393.52 318.27 C394.13 318.33 394.79 317.83 395.40 317.64 C396.01 317.44 396.54 317.16 397.16 317.09 C397.79 317.02 398.49 317.33 399.14 317.23 C399.80 317.13 400.50 316.60 401.11 316.50 C401.72 316.40 402.32 316.60 402.81 316.64 C403.29 316.68 403.80 316.71 404.00 316.73" fill="none" stroke="#00f500" stroke-width="2.30" stroke-linejoin="round" stroke-linecap="round"/>
</g>
<line x1="319.53" y1="283.6" x2="319.53" y2="333.4" stroke="#1a1a1a" stroke-width="1" stroke-dasharray="2.6 2.2"/>
<rect x="298.9" y="284.5" width="103.4" height="49.0" fill="none" stroke="#a6a6a6" stroke-width="1"/>
<line x1="319.5" y1="333.4" x2="319.5" y2="332.2" stroke="#555" stroke-width="0.8"/>
<line x1="319.5" y1="284.5" x2="319.5" y2="285.7" stroke="#555" stroke-width="0.8"/>
<line x1="340.2" y1="333.4" x2="340.2" y2="332.2" stroke="#555" stroke-width="0.8"/>
<line x1="340.2" y1="284.5" x2="340.2" y2="285.7" stroke="#555" stroke-width="0.8"/>
<line x1="360.9" y1="333.4" x2="360.9" y2="332.2" stroke="#555" stroke-width="0.8"/>
<line x1="360.9" y1="284.5" x2="360.9" y2="285.7" stroke="#555" stroke-width="0.8"/>
<line x1="381.6" y1="333.4" x2="381.6" y2="332.2" stroke="#555" stroke-width="0.8"/>
<line x1="381.6" y1="284.5" x2="381.6" y2="285.7" stroke="#555" stroke-width="0.8"/>
<line x1="298.9" y1="317.1" x2="300.1" y2="317.1" stroke="#555" stroke-width="0.8"/>
<line x1="402.2" y1="317.1" x2="401.1" y2="317.1" stroke="#555" stroke-width="0.8"/>
<line x1="298.9" y1="300.8" x2="300.1" y2="300.8" stroke="#555" stroke-width="0.8"/>
<line x1="402.2" y1="300.8" x2="401.1" y2="300.8" stroke="#555" stroke-width="0.8"/>
<g clip-path="url(#cp32)">
<path d="M336.30 313.70 L339.50 307.62 L336.30 308.74 L333.10 307.62 Z" fill="#1a70c8"/>
<path d="M361.90 292.30 L365.10 286.22 L361.90 287.34 L358.70 286.22 Z" fill="#ff1515"/>
<path d="M346.20 324.70 L349.40 330.78 L346.20 329.66 L343.00 330.78 Z" fill="#6d9e30"/>
<path d="M392.90 323.00 L396.10 329.08 L392.90 327.96 L389.70 329.08 Z" fill="#000"/>
</g>
<text class="s" transform="translate(298.85 341.85) scale(0.920 1.160)" font-size="6.10" text-anchor="middle" fill="#3a3a3a">-0.2</text>
<text class="s" transform="translate(319.53 341.85) scale(0.920 1.160)" font-size="6.10" text-anchor="middle" fill="#3a3a3a">0</text>
<text class="s" transform="translate(340.21 341.85) scale(0.920 1.160)" font-size="6.10" text-anchor="middle" fill="#3a3a3a">0.2</text>
<text class="s" transform="translate(360.89 341.85) scale(0.920 1.160)" font-size="6.10" text-anchor="middle" fill="#3a3a3a">0.4</text>
<text class="s" transform="translate(381.57 341.85) scale(0.920 1.160)" font-size="6.10" text-anchor="middle" fill="#3a3a3a">0.6</text>
<text class="s" transform="translate(402.25 341.85) scale(0.920 1.160)" font-size="6.10" text-anchor="middle" fill="#3a3a3a">0.8</text>
<text class="s" transform="translate(297.05 336.35) scale(0.920 1.160)" font-size="6.10" text-anchor="end" fill="#3a3a3a">-10</text>
<text class="s" transform="translate(297.05 320.03) scale(0.920 1.160)" font-size="6.10" text-anchor="end" fill="#3a3a3a">0</text>
<text class="s" transform="translate(297.05 303.72) scale(0.920 1.160)" font-size="6.10" text-anchor="end" fill="#3a3a3a">10</text>
<text class="s" transform="translate(297.05 287.40) scale(0.920 1.160)" font-size="6.10" text-anchor="end" fill="#3a3a3a">20</text>
<text class="s lab" transform="translate(351.35 351.30) scale(1.000 1.100)" font-size="8.00" text-anchor="middle" fill="#262626">Time/(s)</text>
<text class="s lab" transform="translate(286.45 309.48) rotate(-90) scale(1.000 1.100)" font-size="8.00" text-anchor="middle" fill="#262626">Amplitude/(uv)</text>
<text class="r" transform="translate(486.55 281.90) scale(1.000 1.060)" font-size="13.60" text-anchor="middle" fill="#111">CP6</text>
<clipPath id="cp33"><rect x="434.9" y="284.5" width="103.4" height="49.0"/></clipPath>
<g clip-path="url(#cp33)">
<path d="M434.90 317.28 C435.07 317.32 435.51 317.55 435.91 317.53 C436.31 317.50 436.79 317.09 437.29 317.13 C437.80 317.18 438.36 317.66 438.94 317.79 C439.51 317.93 440.13 318.03 440.74 317.96 C441.35 317.90 441.98 317.42 442.59 317.40 C443.19 317.37 443.81 317.79 444.37 317.84 C444.94 317.88 445.45 317.67 446.00 317.66 C446.55 317.64 447.15 317.66 447.70 317.73 C448.25 317.80 448.78 318.08 449.31 318.08 C449.85 318.08 450.37 317.86 450.90 317.71 C451.43 317.57 451.96 317.26 452.51 317.21 C453.06 317.15 453.61 317.29 454.19 317.38 C454.77 317.47 455.45 317.68 456.00 317.73 C456.55 317.78 456.99 317.60 457.52 317.70 C458.05 317.79 458.61 318.20 459.18 318.31 C459.75 318.41 460.35 318.36 460.93 318.34 C461.52 318.32 462.12 318.03 462.71 318.19 C463.29 318.34 463.88 319.06 464.43 319.26 C464.99 319.47 465.54 319.41 466.05 319.42 C466.56 319.42 467.05 319.23 467.50 319.28 C467.94 319.32 468.05 320.02 468.70 319.70 C469.35 319.38 470.66 317.97 471.38 317.36 C472.09 316.75 472.40 315.98 473.00 316.05 C473.60 316.12 474.26 317.37 474.98 317.77 C475.69 318.17 476.65 318.44 477.30 318.46 C477.95 318.48 478.32 318.18 478.88 317.87 C479.44 317.56 480.06 316.92 480.68 316.60 C481.29 316.28 481.94 316.20 482.56 315.95 C483.18 315.70 483.80 315.44 484.40 315.09 C485.00 314.73 485.58 314.10 486.18 313.81 C486.77 313.51 487.36 313.57 487.95 313.31 C488.54 313.05 489.13 312.47 489.73 312.22 C490.32 311.97 490.93 311.86 491.50 311.81 C492.07 311.75 492.63 312.04 493.17 311.89 C493.72 311.74 494.22 311.14 494.77 310.90 C495.33 310.66 495.88 310.47 496.52 310.43 C497.15 310.38 498.01 310.62 498.60 310.60 C499.19 310.59 499.53 310.28 500.05 310.33 C500.57 310.37 501.13 310.75 501.69 310.86 C502.26 310.97 502.86 311.04 503.45 310.99 C504.04 310.95 504.66 310.57 505.25 310.60 C505.84 310.63 506.44 311.01 507.01 311.17 C507.57 311.33 508.13 311.41 508.65 311.55 C509.17 311.68 509.53 311.71 510.10 311.97 C510.67 312.23 511.49 312.75 512.08 313.10 C512.68 313.44 513.13 313.74 513.66 314.02 C514.18 314.31 514.64 314.43 515.23 314.80 C515.82 315.17 516.64 315.87 517.20 316.24 C517.76 316.61 518.11 316.90 518.60 317.02 C519.09 317.13 519.61 316.83 520.14 316.94 C520.67 317.05 521.23 317.54 521.78 317.69 C522.34 317.83 522.92 317.84 523.49 317.82 C524.06 317.79 524.64 317.38 525.22 317.53 C525.79 317.68 526.37 318.54 526.93 318.72 C527.50 318.89 528.03 318.69 528.60 318.59 C529.17 318.50 529.73 318.16 530.33 318.14 C530.93 318.11 531.56 318.53 532.19 318.44 C532.82 318.34 533.46 317.68 534.08 317.55 C534.70 317.42 535.33 317.59 535.91 317.64 C536.49 317.70 537.06 318.03 537.57 317.89 C538.08 317.75 538.57 316.98 538.97 316.80 C539.37 316.61 539.83 316.79 540.00 316.79" fill="none" stroke="#9ccdf0" stroke-width="1.00" stroke-linejoin="round" stroke-linecap="round"/>
<path d="M434.90 317.84 C435.07 317.77 435.51 317.50 435.91 317.45 C436.31 317.40 436.79 317.50 437.29 317.53 C437.80 317.57 438.36 317.69 438.94 317.67 C439.51 317.65 440.13 317.43 440.74 317.42 C441.35 317.41 441.98 317.49 442.59 317.60 C443.19 317.71 443.81 318.02 444.37 318.07 C444.94 318.12 445.43 317.94 446.00 317.88 C446.57 317.83 447.18 317.76 447.77 317.72 C448.35 317.69 448.94 317.71 449.53 317.67 C450.11 317.63 450.69 317.45 451.26 317.49 C451.82 317.52 452.39 317.77 452.93 317.86 C453.47 317.96 454.01 318.15 454.52 318.05 C455.03 317.96 455.42 317.37 456.00 317.28 C456.58 317.18 457.36 317.44 457.99 317.46 C458.62 317.49 459.20 317.47 459.77 317.44 C460.34 317.41 460.87 317.15 461.41 317.27 C461.95 317.38 462.39 317.95 463.00 318.12 C463.61 318.29 464.39 318.15 465.05 318.30 C465.71 318.44 466.34 318.80 466.95 318.99 C467.56 319.18 468.03 319.83 468.70 319.43 C469.37 319.03 470.27 317.39 470.99 316.59 C471.70 315.79 472.38 314.72 473.00 314.62 C473.62 314.53 474.12 315.22 474.71 315.99 C475.29 316.76 475.94 318.60 476.50 319.25 C477.06 319.90 477.53 319.89 478.08 319.87 C478.64 319.86 479.26 319.23 479.83 319.16 C480.40 319.10 480.86 319.34 481.50 319.47 C482.14 319.60 482.98 319.98 483.69 319.96 C484.41 319.94 485.13 319.94 485.80 319.33 C486.47 318.71 486.97 317.75 487.69 316.28 C488.40 314.81 489.46 311.91 490.10 310.53 C490.74 309.16 491.03 309.01 491.55 308.04 C492.08 307.07 492.67 305.77 493.26 304.71 C493.85 303.64 494.48 302.46 495.09 301.65 C495.70 300.83 496.33 300.35 496.92 299.83 C497.50 299.31 498.00 298.62 498.60 298.51 C499.20 298.41 499.90 298.71 500.53 299.19 C501.16 299.66 501.77 300.57 502.38 301.37 C502.98 302.18 503.57 303.02 504.14 304.01 C504.71 305.00 505.20 306.33 505.80 307.32 C506.40 308.32 507.13 309.15 507.76 309.97 C508.38 310.79 508.93 311.42 509.55 312.26 C510.18 313.10 510.90 314.43 511.50 315.01 C512.10 315.58 512.60 315.35 513.18 315.69 C513.75 316.04 514.36 316.65 514.96 317.08 C515.57 317.52 516.19 318.17 516.79 318.31 C517.40 318.46 518.00 317.85 518.60 317.94 C519.20 318.03 519.80 318.60 520.41 318.85 C521.01 319.09 521.63 319.34 522.24 319.42 C522.84 319.50 523.45 319.19 524.02 319.34 C524.60 319.49 525.10 320.19 525.70 320.30 C526.30 320.42 526.99 320.11 527.60 320.03 C528.20 319.96 528.70 319.75 529.34 319.86 C529.97 319.98 530.78 320.60 531.40 320.71 C532.02 320.82 532.46 320.55 533.07 320.53 C533.68 320.52 534.38 320.68 535.04 320.60 C535.71 320.53 536.42 320.20 537.04 320.10 C537.66 320.00 538.29 319.99 538.78 320.01 C539.28 320.03 539.80 320.19 540.00 320.23" fill="none" stroke="#ff1010" stroke-width="2.30" stroke-linejoin="round" stroke-linecap="round"/>
<path d="M434.90 317.22 C435.07 317.15 435.51 316.77 435.91 316.84 C436.31 316.91 436.79 317.54 437.29 317.66 C437.80 317.79 438.36 317.58 438.94 317.57 C439.51 317.57 440.13 317.54 440.74 317.64 C441.35 317.74 441.98 318.23 442.59 318.18 C443.19 318.12 443.81 317.42 444.37 317.31 C444.94 317.21 445.43 317.41 446.00 317.56 C446.57 317.70 447.18 318.17 447.77 318.18 C448.35 318.19 448.94 317.66 449.53 317.62 C450.11 317.59 450.69 317.94 451.26 317.95 C451.82 317.96 452.39 317.83 452.93 317.69 C453.47 317.56 454.01 317.16 454.52 317.14 C455.03 317.13 455.42 317.49 456.00 317.60 C456.58 317.70 457.36 317.81 457.99 317.77 C458.62 317.74 459.20 317.41 459.77 317.38 C460.34 317.34 460.87 317.58 461.41 317.58 C461.95 317.58 462.39 317.29 463.00 317.38 C463.61 317.47 464.39 317.75 465.05 318.14 C465.71 318.52 466.34 319.51 466.95 319.69 C467.56 319.86 468.03 319.55 468.70 319.19 C469.37 318.83 470.27 318.06 470.99 317.51 C471.70 316.96 472.38 316.01 473.00 315.90 C473.62 315.79 474.12 316.35 474.71 316.84 C475.29 317.33 475.94 318.59 476.50 318.82 C477.06 319.06 477.53 318.54 478.08 318.24 C478.64 317.94 479.26 317.21 479.83 317.02 C480.40 316.82 480.87 317.14 481.50 317.09 C482.13 317.04 482.89 316.79 483.61 316.71 C484.32 316.63 485.14 316.91 485.80 316.59 C486.46 316.28 486.94 315.40 487.54 314.83 C488.15 314.26 488.79 313.61 489.44 313.17 C490.10 312.73 490.88 312.61 491.50 312.18 C492.12 311.75 492.60 310.96 493.17 310.59 C493.75 310.23 494.35 310.29 494.96 309.98 C495.56 309.67 496.18 309.09 496.79 308.73 C497.39 308.36 497.99 307.69 498.60 307.79 C499.21 307.89 499.81 308.92 500.43 309.33 C501.04 309.74 501.68 309.92 502.29 310.27 C502.90 310.62 503.52 310.98 504.10 311.43 C504.69 311.88 505.19 312.68 505.80 312.99 C506.41 313.30 507.13 313.02 507.76 313.29 C508.38 313.57 508.93 314.20 509.55 314.63 C510.18 315.06 510.90 315.63 511.50 315.87 C512.10 316.12 512.60 315.90 513.18 316.10 C513.75 316.29 514.36 316.78 514.96 317.03 C515.57 317.29 516.19 317.43 516.79 317.65 C517.40 317.86 518.00 318.09 518.60 318.34 C519.20 318.59 519.80 319.05 520.41 319.16 C521.01 319.27 521.63 319.00 522.24 318.99 C522.84 318.99 523.45 319.08 524.02 319.13 C524.60 319.18 525.10 319.21 525.70 319.30 C526.30 319.39 526.99 319.49 527.60 319.66 C528.20 319.83 528.70 320.33 529.34 320.31 C529.97 320.29 530.78 319.72 531.40 319.54 C532.02 319.35 532.46 319.33 533.07 319.22 C533.68 319.10 534.38 319.10 535.04 318.85 C535.71 318.60 536.42 317.91 537.04 317.74 C537.66 317.57 538.29 317.95 538.78 317.84 C539.28 317.72 539.80 317.16 540.00 317.02" fill="none" stroke="#050505" stroke-width="2.30" stroke-linejoin="round" stroke-linecap="round"/>
<path d="M434.90 317.33 C435.07 317.39 435.51 317.61 435.91 317.71 C436.31 317.81 436.79 318.02 437.29 317.93 C437.80 317.85 438.36 317.28 438.94 317.20 C439.51 317.12 440.13 317.33 440.74 317.45 C441.35 317.56 441.98 317.84 442.59 317.89 C443.19 317.94 443.81 317.69 444.37 317.73 C444.94 317.77 445.43 318.12 446.00 318.12 C446.57 318.13 447.18 317.92 447.77 317.77 C448.35 317.63 448.94 317.24 449.53 317.26 C450.11 317.28 450.69 317.82 451.26 317.90 C451.82 317.98 452.39 317.80 452.93 317.73 C453.47 317.67 454.01 317.47 454.52 317.51 C455.03 317.56 455.42 318.07 456.00 318.02 C456.58 317.98 457.36 317.29 457.99 317.25 C458.62 317.20 459.20 317.50 459.77 317.74 C460.34 317.97 460.87 318.57 461.41 318.65 C461.95 318.72 462.39 318.13 463.00 318.21 C463.61 318.29 464.39 318.88 465.05 319.12 C465.71 319.36 466.34 319.60 466.95 319.65 C467.56 319.70 468.04 319.74 468.70 319.42 C469.36 319.11 470.22 318.45 470.94 317.77 C471.65 317.09 472.30 315.36 473.00 315.35 C473.70 315.33 474.44 317.00 475.16 317.69 C475.87 318.39 476.59 319.19 477.30 319.50 C478.01 319.81 478.70 319.72 479.40 319.55 C480.10 319.37 480.81 318.61 481.50 318.44 C482.19 318.27 482.84 318.54 483.56 318.55 C484.27 318.56 485.14 318.87 485.80 318.52 C486.46 318.17 486.94 317.05 487.54 316.46 C488.15 315.88 488.79 315.64 489.44 315.01 C490.10 314.38 490.88 313.30 491.50 312.68 C492.12 312.07 492.60 311.58 493.17 311.32 C493.75 311.07 494.35 311.28 494.96 311.16 C495.56 311.03 496.18 310.67 496.79 310.59 C497.39 310.50 497.99 310.58 498.60 310.67 C499.21 310.75 499.81 310.92 500.43 311.10 C501.04 311.27 501.68 311.34 502.29 311.70 C502.90 312.05 503.52 312.82 504.10 313.23 C504.69 313.65 505.19 313.89 505.80 314.21 C506.41 314.52 507.13 314.90 507.76 315.14 C508.38 315.37 508.93 315.52 509.55 315.60 C510.18 315.69 510.90 315.41 511.50 315.65 C512.10 315.89 512.60 316.69 513.18 317.02 C513.75 317.35 514.36 317.49 514.96 317.64 C515.57 317.80 516.19 317.79 516.79 317.96 C517.40 318.13 518.00 318.69 518.60 318.69 C519.20 318.68 519.80 318.03 520.41 317.91 C521.01 317.79 521.63 317.91 522.24 317.99 C522.84 318.06 523.45 318.44 524.02 318.34 C524.60 318.24 525.10 317.44 525.70 317.36 C526.30 317.28 526.99 317.71 527.60 317.87 C528.20 318.03 528.70 318.28 529.34 318.31 C529.97 318.34 530.78 318.02 531.40 318.08 C532.02 318.13 532.46 318.69 533.07 318.63 C533.68 318.56 534.38 318.00 535.04 317.69 C535.71 317.39 536.42 317.01 537.04 316.81 C537.66 316.62 538.29 316.67 538.78 316.54 C539.28 316.40 539.80 316.09 540.00 316.00" fill="none" stroke="#00f500" stroke-width="2.30" stroke-linejoin="round" stroke-linecap="round"/>
</g>
<line x1="455.53" y1="283.6" x2="455.53" y2="333.4" stroke="#1a1a1a" stroke-width="1" stroke-dasharray="2.6 2.2"/>
<rect x="434.9" y="284.5" width="103.4" height="49.0" fill="none" stroke="#a6a6a6" stroke-width="1"/>
<line x1="455.5" y1="333.4" x2="455.5" y2="332.2" stroke="#555" stroke-width="0.8"/>
<line x1="455.5" y1="284.5" x2="455.5" y2="285.7" stroke="#555" stroke-width="0.8"/>
<line x1="476.2" y1="333.4" x2="476.2" y2="332.2" stroke="#555" stroke-width="0.8"/>
<line x1="476.2" y1="284.5" x2="476.2" y2="285.7" stroke="#555" stroke-width="0.8"/>
<line x1="496.9" y1="333.4" x2="496.9" y2="332.2" stroke="#555" stroke-width="0.8"/>
<line x1="496.9" y1="284.5" x2="496.9" y2="285.7" stroke="#555" stroke-width="0.8"/>
<line x1="517.6" y1="333.4" x2="517.6" y2="332.2" stroke="#555" stroke-width="0.8"/>
<line x1="517.6" y1="284.5" x2="517.6" y2="285.7" stroke="#555" stroke-width="0.8"/>
<line x1="434.9" y1="317.1" x2="436.1" y2="317.1" stroke="#555" stroke-width="0.8"/>
<line x1="538.2" y1="317.1" x2="537.0" y2="317.1" stroke="#555" stroke-width="0.8"/>
<line x1="434.9" y1="300.8" x2="436.1" y2="300.8" stroke="#555" stroke-width="0.8"/>
<line x1="538.2" y1="300.8" x2="537.0" y2="300.8" stroke="#555" stroke-width="0.8"/>
<g clip-path="url(#cp33)">
<path d="M473.00 311.60 L476.20 305.52 L473.00 306.64 L469.80 305.52 Z" fill="#1a70c8"/>
<path d="M497.90 296.60 L501.10 290.52 L497.90 291.64 L494.70 290.52 Z" fill="#ff1515"/>
<path d="M478.00 321.60 L481.20 327.68 L478.00 326.56 L474.80 327.68 Z" fill="#6d9e30"/>
<path d="M531.20 322.30 L534.40 328.38 L531.20 327.26 L528.00 328.38 Z" fill="#000"/>
</g>
<text class="s" transform="translate(434.85 341.85) scale(0.920 1.160)" font-size="6.10" text-anchor="middle" fill="#3a3a3a">-0.2</text>
<text class="s" transform="translate(455.53 341.85) scale(0.920 1.160)" font-size="6.10" text-anchor="middle" fill="#3a3a3a">0</text>
<text class="s" transform="translate(476.21 341.85) scale(0.920 1.160)" font-size="6.10" text-anchor="middle" fill="#3a3a3a">0.2</text>
<text class="s" transform="translate(496.89 341.85) scale(0.920 1.160)" font-size="6.10" text-anchor="middle" fill="#3a3a3a">0.4</text>
<text class="s" transform="translate(517.57 341.85) scale(0.920 1.160)" font-size="6.10" text-anchor="middle" fill="#3a3a3a">0.6</text>
<text class="s" transform="translate(538.25 341.85) scale(0.920 1.160)" font-size="6.10" text-anchor="middle" fill="#3a3a3a">0.8</text>
<text class="s" transform="translate(433.05 336.35) scale(0.920 1.160)" font-size="6.10" text-anchor="end" fill="#3a3a3a">-10</text>
<text class="s" transform="translate(433.05 320.03) scale(0.920 1.160)" font-size="6.10" text-anchor="end" fill="#3a3a3a">0</text>
<text class="s" transform="translate(433.05 303.72) scale(0.920 1.160)" font-size="6.10" text-anchor="end" fill="#3a3a3a">10</text>
<text class="s" transform="translate(433.05 287.40) scale(0.920 1.160)" font-size="6.10" text-anchor="end" fill="#3a3a3a">20</text>
<text class="s lab" transform="translate(487.35 351.30) scale(1.000 1.100)" font-size="8.00" text-anchor="middle" fill="#262626">Time/(s)</text>
<text class="s lab" transform="translate(422.45 309.48) rotate(-90) scale(1.000 1.100)" font-size="8.00" text-anchor="middle" fill="#262626">Amplitude/(uv)</text>
<line x1="123.6" y1="367.4" x2="141.6" y2="367.4" stroke="#ff1010" stroke-width="1.8"/>
<text class="r" transform="translate(144.00 371.20) scale(1.000 1.080)" font-size="9.50" text-anchor="start" fill="#111">Own names</text>
<line x1="191" y1="367.4" x2="210" y2="367.4" stroke="#000" stroke-width="1.8"/>
<text class="r" transform="translate(212.00 371.20) scale(1.000 1.080)" font-size="9.50" text-anchor="start" fill="#111">Familiar names</text>
<line x1="272" y1="367.4" x2="291" y2="367.4" stroke="#00f500" stroke-width="1.8"/>
<text class="r" transform="translate(292.60 371.20) scale(1.000 1.080)" font-size="9.50" text-anchor="start" fill="#111">Stranger names</text>
<line x1="354" y1="367.4" x2="372.5" y2="367.4" stroke="#9ccdf0" stroke-width="1"/>
<text class="r" transform="translate(374.60 371.20) scale(1.000 1.080)" font-size="9.50" text-anchor="start" fill="#111">Blank name</text>
</svg></body></html>
